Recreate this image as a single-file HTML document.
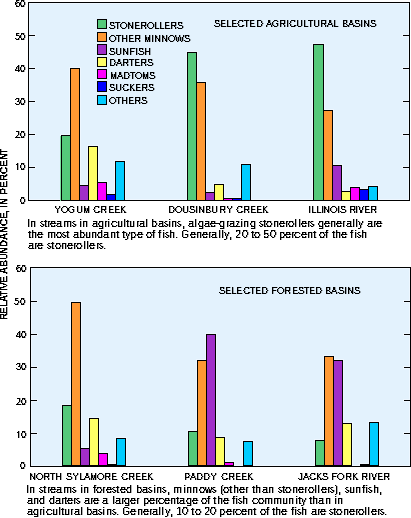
<!DOCTYPE html>
<html><head><meta charset="utf-8"><style>
html,body{margin:0;padding:0;background:#fff;width:411px;height:518px;overflow:hidden}
svg{display:block}
text{font-family:"Liberation Sans",sans-serif}
</style></head><body>
<svg width="411" height="518" viewBox="0 0 411 518" shape-rendering="crispEdges">
<defs><filter id="th" filterUnits="userSpaceOnUse" x="0" y="0" width="411" height="518"><feComponentTransfer><feFuncA type="discrete" tableValues="0 0 1 1 1"/></feComponentTransfer></filter></defs>
<rect x="28" y="2" width="382" height="199" fill="#000"/>
<rect x="29" y="3" width="380" height="197" fill="#EEF7FF"/>
<rect x="30" y="4" width="378" height="195" fill="#E3F2FD"/>
<rect x="29" y="34" width="7" height="3" fill="#EEF7FF"/>
<rect x="402" y="34" width="7" height="3" fill="#EEF7FF"/>
<rect x="29" y="35" width="6" height="1" fill="#000"/>
<rect x="403" y="35" width="6" height="1" fill="#000"/>
<rect x="29" y="67" width="7" height="3" fill="#EEF7FF"/>
<rect x="402" y="67" width="7" height="3" fill="#EEF7FF"/>
<rect x="29" y="68" width="6" height="1" fill="#000"/>
<rect x="403" y="68" width="6" height="1" fill="#000"/>
<rect x="29" y="100" width="7" height="3" fill="#EEF7FF"/>
<rect x="402" y="100" width="7" height="3" fill="#EEF7FF"/>
<rect x="29" y="101" width="6" height="1" fill="#000"/>
<rect x="403" y="101" width="6" height="1" fill="#000"/>
<rect x="29" y="133" width="7" height="3" fill="#EEF7FF"/>
<rect x="402" y="133" width="7" height="3" fill="#EEF7FF"/>
<rect x="29" y="134" width="6" height="1" fill="#000"/>
<rect x="403" y="134" width="6" height="1" fill="#000"/>
<rect x="29" y="166" width="7" height="3" fill="#EEF7FF"/>
<rect x="402" y="166" width="7" height="3" fill="#EEF7FF"/>
<rect x="29" y="167" width="6" height="1" fill="#000"/>
<rect x="403" y="167" width="6" height="1" fill="#000"/>
<rect x="60" y="134" width="12" height="66" fill="#EEF7FF"/>
<rect x="69" y="67" width="12" height="133" fill="#EEF7FF"/>
<rect x="78" y="184" width="12" height="16" fill="#EEF7FF"/>
<rect x="87" y="145" width="12" height="55" fill="#EEF7FF"/>
<rect x="96" y="181" width="12" height="19" fill="#EEF7FF"/>
<rect x="105" y="193" width="12" height="7" fill="#EEF7FF"/>
<rect x="114" y="160" width="12" height="40" fill="#EEF7FF"/>
<rect x="186" y="51" width="12" height="149" fill="#EEF7FF"/>
<rect x="195" y="81" width="12" height="119" fill="#EEF7FF"/>
<rect x="204" y="191" width="12" height="9" fill="#EEF7FF"/>
<rect x="213" y="183" width="12" height="17" fill="#EEF7FF"/>
<rect x="222" y="197" width="12" height="3" fill="#EEF7FF"/>
<rect x="231" y="197" width="12" height="3" fill="#EEF7FF"/>
<rect x="240" y="163" width="12" height="37" fill="#EEF7FF"/>
<rect x="312" y="43" width="13" height="157" fill="#EEF7FF"/>
<rect x="322" y="109" width="12" height="91" fill="#EEF7FF"/>
<rect x="331" y="164" width="12" height="36" fill="#EEF7FF"/>
<rect x="340" y="190" width="12" height="10" fill="#EEF7FF"/>
<rect x="349" y="186" width="12" height="14" fill="#EEF7FF"/>
<rect x="358" y="188" width="12" height="12" fill="#EEF7FF"/>
<rect x="367" y="185" width="12" height="15" fill="#EEF7FF"/>
<rect x="61" y="135" width="10" height="66" fill="#000"/>
<rect x="62" y="136" width="8" height="64" fill="#55C97A"/>
<rect x="70" y="68" width="10" height="133" fill="#000"/>
<rect x="71" y="69" width="8" height="131" fill="#FF9933"/>
<rect x="79" y="185" width="10" height="16" fill="#000"/>
<rect x="80" y="186" width="8" height="14" fill="#A02EC8"/>
<rect x="88" y="146" width="10" height="55" fill="#000"/>
<rect x="89" y="147" width="8" height="53" fill="#FFFF66"/>
<rect x="97" y="182" width="10" height="19" fill="#000"/>
<rect x="98" y="183" width="8" height="17" fill="#FF00FF"/>
<rect x="106" y="194" width="10" height="7" fill="#000"/>
<rect x="107" y="195" width="8" height="5" fill="#0000FF"/>
<rect x="115" y="161" width="10" height="40" fill="#000"/>
<rect x="116" y="162" width="8" height="38" fill="#00CCFF"/>
<rect x="187" y="52" width="10" height="149" fill="#000"/>
<rect x="188" y="53" width="8" height="147" fill="#55C97A"/>
<rect x="196" y="82" width="10" height="119" fill="#000"/>
<rect x="197" y="83" width="8" height="117" fill="#FF9933"/>
<rect x="205" y="192" width="10" height="9" fill="#000"/>
<rect x="206" y="193" width="8" height="7" fill="#A02EC8"/>
<rect x="214" y="184" width="10" height="17" fill="#000"/>
<rect x="215" y="185" width="8" height="15" fill="#FFFF66"/>
<rect x="223" y="198" width="10" height="3" fill="#000"/>
<rect x="224" y="199" width="8" height="1" fill="#FF00FF"/>
<rect x="232" y="198" width="10" height="3" fill="#000"/>
<rect x="233" y="199" width="8" height="1" fill="#0000FF"/>
<rect x="241" y="164" width="10" height="37" fill="#000"/>
<rect x="242" y="165" width="8" height="35" fill="#00CCFF"/>
<rect x="313" y="44" width="11" height="157" fill="#000"/>
<rect x="314" y="45" width="9" height="155" fill="#55C97A"/>
<rect x="323" y="110" width="10" height="91" fill="#000"/>
<rect x="324" y="111" width="8" height="89" fill="#FF9933"/>
<rect x="332" y="165" width="10" height="36" fill="#000"/>
<rect x="333" y="166" width="8" height="34" fill="#A02EC8"/>
<rect x="341" y="191" width="10" height="10" fill="#000"/>
<rect x="342" y="192" width="8" height="8" fill="#FFFF66"/>
<rect x="350" y="187" width="10" height="14" fill="#000"/>
<rect x="351" y="188" width="8" height="12" fill="#FF00FF"/>
<rect x="359" y="189" width="10" height="12" fill="#000"/>
<rect x="360" y="190" width="8" height="10" fill="#0000FF"/>
<rect x="368" y="186" width="10" height="15" fill="#000"/>
<rect x="369" y="187" width="8" height="13" fill="#00CCFF"/>
<rect x="30" y="267" width="381" height="200" fill="#000"/>
<rect x="31" y="268" width="379" height="198" fill="#EEF7FF"/>
<rect x="32" y="269" width="377" height="196" fill="#E3F2FD"/>
<rect x="31" y="300" width="7" height="3" fill="#EEF7FF"/>
<rect x="403" y="300" width="7" height="3" fill="#EEF7FF"/>
<rect x="31" y="301" width="6" height="1" fill="#000"/>
<rect x="404" y="301" width="6" height="1" fill="#000"/>
<rect x="31" y="333" width="7" height="3" fill="#EEF7FF"/>
<rect x="403" y="333" width="7" height="3" fill="#EEF7FF"/>
<rect x="31" y="334" width="6" height="1" fill="#000"/>
<rect x="404" y="334" width="6" height="1" fill="#000"/>
<rect x="31" y="366" width="7" height="3" fill="#EEF7FF"/>
<rect x="403" y="366" width="7" height="3" fill="#EEF7FF"/>
<rect x="31" y="367" width="6" height="1" fill="#000"/>
<rect x="404" y="367" width="6" height="1" fill="#000"/>
<rect x="31" y="399" width="7" height="3" fill="#EEF7FF"/>
<rect x="403" y="399" width="7" height="3" fill="#EEF7FF"/>
<rect x="31" y="400" width="6" height="1" fill="#000"/>
<rect x="404" y="400" width="6" height="1" fill="#000"/>
<rect x="31" y="432" width="7" height="3" fill="#EEF7FF"/>
<rect x="403" y="432" width="7" height="3" fill="#EEF7FF"/>
<rect x="31" y="433" width="6" height="1" fill="#000"/>
<rect x="404" y="433" width="6" height="1" fill="#000"/>
<rect x="61" y="404" width="12" height="61" fill="#EEF7FF"/>
<rect x="70" y="301" width="12" height="164" fill="#EEF7FF"/>
<rect x="79" y="447" width="12" height="18" fill="#EEF7FF"/>
<rect x="88" y="417" width="12" height="48" fill="#EEF7FF"/>
<rect x="97" y="452" width="12" height="13" fill="#EEF7FF"/>
<rect x="106" y="463" width="12" height="2" fill="#EEF7FF"/>
<rect x="115" y="437" width="12" height="28" fill="#EEF7FF"/>
<rect x="187" y="430" width="12" height="35" fill="#EEF7FF"/>
<rect x="196" y="359" width="12" height="106" fill="#EEF7FF"/>
<rect x="205" y="333" width="12" height="132" fill="#EEF7FF"/>
<rect x="214" y="436" width="12" height="29" fill="#EEF7FF"/>
<rect x="223" y="461" width="12" height="4" fill="#EEF7FF"/>
<rect x="242" y="440" width="12" height="25" fill="#EEF7FF"/>
<rect x="314" y="439" width="12" height="26" fill="#EEF7FF"/>
<rect x="323" y="355" width="12" height="110" fill="#EEF7FF"/>
<rect x="332" y="359" width="12" height="106" fill="#EEF7FF"/>
<rect x="341" y="422" width="12" height="43" fill="#EEF7FF"/>
<rect x="359" y="463" width="12" height="2" fill="#EEF7FF"/>
<rect x="368" y="421" width="12" height="44" fill="#EEF7FF"/>
<rect x="62" y="405" width="10" height="61" fill="#000"/>
<rect x="63" y="406" width="8" height="59" fill="#55C97A"/>
<rect x="71" y="302" width="10" height="164" fill="#000"/>
<rect x="72" y="303" width="8" height="162" fill="#FF9933"/>
<rect x="80" y="448" width="10" height="18" fill="#000"/>
<rect x="81" y="449" width="8" height="16" fill="#A02EC8"/>
<rect x="89" y="418" width="10" height="48" fill="#000"/>
<rect x="90" y="419" width="8" height="46" fill="#FFFF66"/>
<rect x="98" y="453" width="10" height="13" fill="#000"/>
<rect x="99" y="454" width="8" height="11" fill="#FF00FF"/>
<rect x="107" y="464" width="10" height="2" fill="#000"/>
<rect x="116" y="438" width="10" height="28" fill="#000"/>
<rect x="117" y="439" width="8" height="26" fill="#00CCFF"/>
<rect x="188" y="431" width="10" height="35" fill="#000"/>
<rect x="189" y="432" width="8" height="33" fill="#55C97A"/>
<rect x="197" y="360" width="10" height="106" fill="#000"/>
<rect x="198" y="361" width="8" height="104" fill="#FF9933"/>
<rect x="206" y="334" width="10" height="132" fill="#000"/>
<rect x="207" y="335" width="8" height="130" fill="#A02EC8"/>
<rect x="215" y="437" width="10" height="29" fill="#000"/>
<rect x="216" y="438" width="8" height="27" fill="#FFFF66"/>
<rect x="224" y="462" width="10" height="4" fill="#000"/>
<rect x="225" y="463" width="8" height="2" fill="#FF00FF"/>
<rect x="243" y="441" width="10" height="25" fill="#000"/>
<rect x="244" y="442" width="8" height="23" fill="#00CCFF"/>
<rect x="315" y="440" width="10" height="26" fill="#000"/>
<rect x="316" y="441" width="8" height="24" fill="#55C97A"/>
<rect x="324" y="356" width="10" height="110" fill="#000"/>
<rect x="325" y="357" width="8" height="108" fill="#FF9933"/>
<rect x="333" y="360" width="10" height="106" fill="#000"/>
<rect x="334" y="361" width="8" height="104" fill="#A02EC8"/>
<rect x="342" y="423" width="10" height="43" fill="#000"/>
<rect x="343" y="424" width="8" height="41" fill="#FFFF66"/>
<rect x="360" y="464" width="10" height="2" fill="#000"/>
<rect x="369" y="422" width="10" height="44" fill="#000"/>
<rect x="370" y="423" width="8" height="42" fill="#00CCFF"/>
<rect x="60" y="136" width="1" height="65" fill="#7EE0A0"/>
<rect x="97" y="19" width="10" height="10" fill="#000"/>
<rect x="98" y="20" width="8" height="8" fill="#55C97A"/>
<rect x="97" y="32" width="10" height="10" fill="#000"/>
<rect x="98" y="33" width="8" height="8" fill="#FF9933"/>
<rect x="97" y="44" width="10" height="11" fill="#000"/>
<rect x="98" y="45" width="8" height="9" fill="#A02EC8"/>
<rect x="97" y="57" width="10" height="10" fill="#000"/>
<rect x="98" y="58" width="8" height="8" fill="#FFFF66"/>
<rect x="97" y="69" width="10" height="10" fill="#000"/>
<rect x="98" y="70" width="8" height="8" fill="#FF00FF"/>
<rect x="97" y="81" width="10" height="11" fill="#000"/>
<rect x="98" y="82" width="8" height="9" fill="#0000FF"/>
<rect x="97" y="95" width="10" height="10" fill="#000"/>
<rect x="98" y="96" width="8" height="8" fill="#00CCFF"/>
<g fill="#000" fill-opacity="0.3" transform="translate(1,0)"><path d="M110 22h4v1h-4zM115 22h5v1h-5zM122 22h3v1h-3zM128 22h1v1h-1zM132 22h1v1h-1zM135 22h4v1h-4zM141 22h5v1h-5zM149 22h3v1h-3zM155 22h1v1h-1zM160 22h1v1h-1zM165 22h4v1h-4zM171 22h5v1h-5zM178 22h4v1h-4zM110 23h1v1h-1zM113 23h1v1h-1zM117 23h1v1h-1zM121 23h1v1h-1zM125 23h1v1h-1zM128 23h2v1h-2zM132 23h1v1h-1zM135 23h1v1h-1zM141 23h1v1h-1zM145 23h1v1h-1zM148 23h1v1h-1zM152 23h1v1h-1zM155 23h1v1h-1zM160 23h1v1h-1zM165 23h1v1h-1zM171 23h1v1h-1zM175 23h1v1h-1zM178 23h1v1h-1zM181 23h1v1h-1zM110 24h1v1h-1zM117 24h1v1h-1zM120 24h1v1h-1zM126 24h1v1h-1zM128 24h2v1h-2zM132 24h1v1h-1zM135 24h1v1h-1zM141 24h1v1h-1zM145 24h1v1h-1zM147 24h1v1h-1zM153 24h1v1h-1zM155 24h1v1h-1zM160 24h1v1h-1zM165 24h1v1h-1zM171 24h1v1h-1zM175 24h1v1h-1zM178 24h1v1h-1zM111 25h3v1h-3zM117 25h1v1h-1zM120 25h1v1h-1zM126 25h1v1h-1zM128 25h1v1h-1zM130 25h1v1h-1zM132 25h1v1h-1zM135 25h4v1h-4zM141 25h5v1h-5zM147 25h1v1h-1zM153 25h1v1h-1zM155 25h1v1h-1zM160 25h1v1h-1zM165 25h4v1h-4zM171 25h5v1h-5zM179 25h3v1h-3zM114 26h1v1h-1zM117 26h1v1h-1zM120 26h1v1h-1zM126 26h1v1h-1zM128 26h1v1h-1zM131 26h2v1h-2zM135 26h1v1h-1zM141 26h1v1h-1zM144 26h1v1h-1zM147 26h1v1h-1zM153 26h1v1h-1zM155 26h1v1h-1zM160 26h1v1h-1zM165 26h1v1h-1zM171 26h1v1h-1zM174 26h1v1h-1zM182 26h1v1h-1zM109 27h1v1h-1zM114 27h1v1h-1zM117 27h1v1h-1zM121 27h1v1h-1zM125 27h1v1h-1zM128 27h1v1h-1zM131 27h2v1h-2zM135 27h1v1h-1zM141 27h1v1h-1zM145 27h1v1h-1zM148 27h1v1h-1zM152 27h1v1h-1zM155 27h1v1h-1zM160 27h1v1h-1zM165 27h1v1h-1zM171 27h1v1h-1zM175 27h1v1h-1zM177 27h1v1h-1zM182 27h1v1h-1zM110 28h4v1h-4zM117 28h1v1h-1zM122 28h3v1h-3zM128 28h1v1h-1zM132 28h1v1h-1zM135 28h5v1h-5zM141 28h1v1h-1zM145 28h1v1h-1zM149 28h3v1h-3zM155 28h4v1h-4zM160 28h4v1h-4zM165 28h5v1h-5zM171 28h1v1h-1zM175 28h1v1h-1zM178 28h4v1h-4z"/>
<path d="M111 35h3v1h-3zM116 35h5v1h-5zM122 35h1v1h-1zM126 35h1v1h-1zM129 35h4v1h-4zM135 35h5v1h-5zM145 35h1v1h-1zM149 35h1v1h-1zM152 35h1v1h-1zM155 35h1v1h-1zM159 35h1v1h-1zM162 35h1v1h-1zM166 35h1v1h-1zM170 35h3v1h-3zM175 35h1v1h-1zM179 35h1v1h-1zM183 35h1v1h-1zM185 35h4v1h-4zM110 36h1v1h-1zM114 36h1v1h-1zM118 36h1v1h-1zM122 36h1v1h-1zM126 36h1v1h-1zM129 36h1v1h-1zM135 36h1v1h-1zM139 36h1v1h-1zM145 36h1v1h-1zM149 36h1v1h-1zM152 36h1v1h-1zM155 36h2v1h-2zM159 36h1v1h-1zM162 36h2v1h-2zM166 36h1v1h-1zM169 36h1v1h-1zM173 36h1v1h-1zM175 36h1v1h-1zM179 36h1v1h-1zM183 36h1v1h-1zM185 36h1v1h-1zM188 36h1v1h-1zM109 37h1v1h-1zM115 37h1v1h-1zM118 37h1v1h-1zM122 37h1v1h-1zM126 37h1v1h-1zM129 37h1v1h-1zM135 37h1v1h-1zM139 37h1v1h-1zM145 37h2v1h-2zM148 37h2v1h-2zM152 37h1v1h-1zM155 37h2v1h-2zM159 37h1v1h-1zM162 37h2v1h-2zM166 37h1v1h-1zM168 37h1v1h-1zM174 37h1v1h-1zM176 37h1v1h-1zM178 37h1v1h-1zM180 37h1v1h-1zM182 37h1v1h-1zM185 37h1v1h-1zM109 38h1v1h-1zM115 38h1v1h-1zM118 38h1v1h-1zM122 38h5v1h-5zM129 38h4v1h-4zM135 38h5v1h-5zM145 38h2v1h-2zM148 38h2v1h-2zM152 38h1v1h-1zM155 38h1v1h-1zM157 38h1v1h-1zM159 38h1v1h-1zM162 38h1v1h-1zM164 38h1v1h-1zM166 38h1v1h-1zM168 38h1v1h-1zM174 38h1v1h-1zM176 38h1v1h-1zM178 38h1v1h-1zM180 38h1v1h-1zM182 38h1v1h-1zM186 38h3v1h-3zM109 39h1v1h-1zM115 39h1v1h-1zM118 39h1v1h-1zM122 39h1v1h-1zM126 39h1v1h-1zM129 39h1v1h-1zM135 39h1v1h-1zM138 39h1v1h-1zM145 39h2v1h-2zM148 39h2v1h-2zM152 39h1v1h-1zM155 39h1v1h-1zM158 39h2v1h-2zM162 39h1v1h-1zM165 39h2v1h-2zM168 39h1v1h-1zM174 39h1v1h-1zM176 39h1v1h-1zM178 39h1v1h-1zM180 39h1v1h-1zM182 39h1v1h-1zM189 39h1v1h-1zM110 40h1v1h-1zM114 40h1v1h-1zM118 40h1v1h-1zM122 40h1v1h-1zM126 40h1v1h-1zM129 40h1v1h-1zM135 40h1v1h-1zM139 40h1v1h-1zM145 40h1v1h-1zM147 40h1v1h-1zM149 40h1v1h-1zM152 40h1v1h-1zM155 40h1v1h-1zM158 40h2v1h-2zM162 40h1v1h-1zM165 40h2v1h-2zM169 40h1v1h-1zM173 40h1v1h-1zM176 40h1v1h-1zM178 40h1v1h-1zM180 40h1v1h-1zM182 40h1v1h-1zM184 40h1v1h-1zM189 40h1v1h-1zM111 41h3v1h-3zM118 41h1v1h-1zM122 41h1v1h-1zM126 41h1v1h-1zM129 41h5v1h-5zM135 41h1v1h-1zM139 41h1v1h-1zM145 41h1v1h-1zM147 41h1v1h-1zM149 41h1v1h-1zM152 41h1v1h-1zM155 41h1v1h-1zM159 41h1v1h-1zM162 41h1v1h-1zM166 41h1v1h-1zM170 41h3v1h-3zM177 41h1v1h-1zM181 41h1v1h-1zM185 41h4v1h-4z"/>
<path d="M110 48h4v1h-4zM116 48h1v1h-1zM120 48h1v1h-1zM123 48h1v1h-1zM127 48h1v1h-1zM130 48h5v1h-5zM136 48h1v1h-1zM139 48h4v1h-4zM145 48h1v1h-1zM149 48h1v1h-1zM110 49h1v1h-1zM113 49h1v1h-1zM116 49h1v1h-1zM120 49h1v1h-1zM123 49h2v1h-2zM127 49h1v1h-1zM130 49h1v1h-1zM136 49h1v1h-1zM139 49h1v1h-1zM142 49h1v1h-1zM145 49h1v1h-1zM149 49h1v1h-1zM110 50h1v1h-1zM116 50h1v1h-1zM120 50h1v1h-1zM123 50h2v1h-2zM127 50h1v1h-1zM130 50h1v1h-1zM136 50h1v1h-1zM139 50h1v1h-1zM145 50h1v1h-1zM149 50h1v1h-1zM111 51h3v1h-3zM116 51h1v1h-1zM120 51h1v1h-1zM123 51h1v1h-1zM125 51h1v1h-1zM127 51h1v1h-1zM130 51h4v1h-4zM136 51h1v1h-1zM140 51h3v1h-3zM145 51h5v1h-5zM114 52h1v1h-1zM116 52h1v1h-1zM120 52h1v1h-1zM123 52h1v1h-1zM126 52h2v1h-2zM130 52h1v1h-1zM136 52h1v1h-1zM143 52h1v1h-1zM145 52h1v1h-1zM149 52h1v1h-1zM109 53h1v1h-1zM114 53h1v1h-1zM116 53h1v1h-1zM120 53h1v1h-1zM123 53h1v1h-1zM126 53h2v1h-2zM130 53h1v1h-1zM136 53h1v1h-1zM138 53h1v1h-1zM143 53h1v1h-1zM145 53h1v1h-1zM149 53h1v1h-1zM110 54h4v1h-4zM117 54h3v1h-3zM123 54h1v1h-1zM127 54h1v1h-1zM130 54h1v1h-1zM136 54h1v1h-1zM139 54h4v1h-4zM145 54h1v1h-1zM149 54h1v1h-1z"/>
<path d="M110 59h4v1h-4zM118 59h2v1h-2zM123 59h5v1h-5zM129 59h5v1h-5zM135 59h4v1h-4zM141 59h5v1h-5zM148 59h4v1h-4zM110 60h1v1h-1zM114 60h1v1h-1zM118 60h2v1h-2zM123 60h1v1h-1zM127 60h1v1h-1zM131 60h1v1h-1zM135 60h1v1h-1zM141 60h1v1h-1zM145 60h1v1h-1zM148 60h1v1h-1zM151 60h1v1h-1zM110 61h1v1h-1zM114 61h1v1h-1zM118 61h2v1h-2zM123 61h1v1h-1zM127 61h1v1h-1zM131 61h1v1h-1zM135 61h1v1h-1zM141 61h1v1h-1zM145 61h1v1h-1zM148 61h1v1h-1zM110 62h1v1h-1zM115 62h1v1h-1zM117 62h1v1h-1zM120 62h1v1h-1zM123 62h5v1h-5zM131 62h1v1h-1zM135 62h4v1h-4zM141 62h5v1h-5zM149 62h3v1h-3zM110 63h1v1h-1zM114 63h1v1h-1zM117 63h4v1h-4zM123 63h1v1h-1zM126 63h1v1h-1zM131 63h1v1h-1zM135 63h1v1h-1zM141 63h1v1h-1zM144 63h1v1h-1zM152 63h1v1h-1zM110 64h1v1h-1zM114 64h1v1h-1zM116 64h1v1h-1zM121 64h1v1h-1zM123 64h1v1h-1zM127 64h1v1h-1zM131 64h1v1h-1zM135 64h1v1h-1zM141 64h1v1h-1zM145 64h1v1h-1zM147 64h1v1h-1zM152 64h1v1h-1zM110 65h4v1h-4zM116 65h1v1h-1zM121 65h1v1h-1zM123 65h1v1h-1zM127 65h1v1h-1zM131 65h1v1h-1zM135 65h5v1h-5zM141 65h1v1h-1zM145 65h1v1h-1zM148 65h4v1h-4z"/>
<path d="M111 72h1v1h-1zM115 72h1v1h-1zM119 72h2v1h-2zM124 72h4v1h-4zM130 72h5v1h-5zM137 72h3v1h-3zM143 72h1v1h-1zM147 72h1v1h-1zM150 72h4v1h-4zM111 73h1v1h-1zM115 73h1v1h-1zM119 73h2v1h-2zM124 73h1v1h-1zM128 73h1v1h-1zM132 73h1v1h-1zM136 73h1v1h-1zM140 73h1v1h-1zM143 73h1v1h-1zM147 73h1v1h-1zM150 73h1v1h-1zM153 73h1v1h-1zM111 74h2v1h-2zM114 74h2v1h-2zM119 74h2v1h-2zM124 74h1v1h-1zM128 74h1v1h-1zM132 74h1v1h-1zM135 74h1v1h-1zM141 74h1v1h-1zM143 74h2v1h-2zM146 74h2v1h-2zM150 74h1v1h-1zM111 75h2v1h-2zM114 75h2v1h-2zM118 75h1v1h-1zM121 75h1v1h-1zM124 75h1v1h-1zM129 75h1v1h-1zM132 75h1v1h-1zM135 75h1v1h-1zM141 75h1v1h-1zM143 75h2v1h-2zM146 75h2v1h-2zM151 75h3v1h-3zM111 76h2v1h-2zM114 76h2v1h-2zM118 76h4v1h-4zM124 76h1v1h-1zM128 76h1v1h-1zM132 76h1v1h-1zM135 76h1v1h-1zM141 76h1v1h-1zM143 76h2v1h-2zM146 76h2v1h-2zM154 76h1v1h-1zM111 77h1v1h-1zM113 77h1v1h-1zM115 77h1v1h-1zM117 77h1v1h-1zM122 77h1v1h-1zM124 77h1v1h-1zM128 77h1v1h-1zM132 77h1v1h-1zM136 77h1v1h-1zM140 77h1v1h-1zM143 77h1v1h-1zM145 77h1v1h-1zM147 77h1v1h-1zM149 77h1v1h-1zM154 77h1v1h-1zM111 78h1v1h-1zM113 78h1v1h-1zM115 78h1v1h-1zM117 78h1v1h-1zM122 78h1v1h-1zM124 78h4v1h-4zM132 78h1v1h-1zM137 78h3v1h-3zM143 78h1v1h-1zM145 78h1v1h-1zM147 78h1v1h-1zM150 78h4v1h-4z"/>
<path d="M110 84h4v1h-4zM116 84h1v1h-1zM120 84h1v1h-1zM124 84h4v1h-4zM130 84h1v1h-1zM133 84h1v1h-1zM136 84h4v1h-4zM142 84h5v1h-5zM149 84h4v1h-4zM110 85h1v1h-1zM113 85h1v1h-1zM116 85h1v1h-1zM120 85h1v1h-1zM123 85h1v1h-1zM127 85h1v1h-1zM130 85h1v1h-1zM132 85h1v1h-1zM136 85h1v1h-1zM142 85h1v1h-1zM146 85h1v1h-1zM149 85h1v1h-1zM152 85h1v1h-1zM110 86h1v1h-1zM116 86h1v1h-1zM120 86h1v1h-1zM123 86h1v1h-1zM130 86h2v1h-2zM136 86h1v1h-1zM142 86h1v1h-1zM146 86h1v1h-1zM149 86h1v1h-1zM111 87h3v1h-3zM116 87h1v1h-1zM120 87h1v1h-1zM122 87h1v1h-1zM130 87h2v1h-2zM136 87h4v1h-4zM142 87h5v1h-5zM150 87h3v1h-3zM114 88h1v1h-1zM116 88h1v1h-1zM120 88h1v1h-1zM123 88h1v1h-1zM130 88h1v1h-1zM132 88h1v1h-1zM136 88h1v1h-1zM142 88h1v1h-1zM145 88h1v1h-1zM153 88h1v1h-1zM109 89h1v1h-1zM114 89h1v1h-1zM116 89h1v1h-1zM120 89h1v1h-1zM123 89h1v1h-1zM127 89h2v1h-2zM130 89h1v1h-1zM133 89h1v1h-1zM136 89h1v1h-1zM142 89h1v1h-1zM146 89h1v1h-1zM148 89h1v1h-1zM153 89h1v1h-1zM110 90h4v1h-4zM117 90h3v1h-3zM124 90h4v1h-4zM130 90h1v1h-1zM133 90h2v1h-2zM136 90h5v1h-5zM142 90h1v1h-1zM146 90h1v1h-1zM149 90h4v1h-4z"/>
<path d="M111 97h3v1h-3zM116 97h5v1h-5zM122 97h1v1h-1zM126 97h1v1h-1zM129 97h4v1h-4zM135 97h5v1h-5zM142 97h4v1h-4zM110 98h1v1h-1zM114 98h1v1h-1zM118 98h1v1h-1zM122 98h1v1h-1zM126 98h1v1h-1zM129 98h1v1h-1zM135 98h1v1h-1zM139 98h1v1h-1zM142 98h1v1h-1zM145 98h1v1h-1zM109 99h1v1h-1zM115 99h1v1h-1zM118 99h1v1h-1zM122 99h1v1h-1zM126 99h1v1h-1zM129 99h1v1h-1zM135 99h1v1h-1zM139 99h1v1h-1zM142 99h1v1h-1zM109 100h1v1h-1zM115 100h1v1h-1zM118 100h1v1h-1zM122 100h5v1h-5zM129 100h4v1h-4zM135 100h5v1h-5zM143 100h3v1h-3zM109 101h1v1h-1zM115 101h1v1h-1zM118 101h1v1h-1zM122 101h1v1h-1zM126 101h1v1h-1zM129 101h1v1h-1zM135 101h1v1h-1zM138 101h1v1h-1zM146 101h1v1h-1zM110 102h1v1h-1zM114 102h1v1h-1zM118 102h1v1h-1zM122 102h1v1h-1zM126 102h1v1h-1zM129 102h1v1h-1zM135 102h1v1h-1zM139 102h1v1h-1zM141 102h1v1h-1zM146 102h1v1h-1zM111 103h3v1h-3zM118 103h1v1h-1zM122 103h1v1h-1zM126 103h1v1h-1zM129 103h5v1h-5zM135 103h1v1h-1zM139 103h1v1h-1zM142 103h4v1h-4z"/>
<path d="M215 20h4v1h-4zM221 20h4v1h-4zM227 20h1v1h-1zM232 20h4v1h-4zM239 20h4v1h-4zM244 20h5v1h-5zM250 20h4v1h-4zM257 20h4v1h-4zM268 20h2v1h-2zM274 20h3v1h-3zM280 20h5v1h-5zM287 20h1v1h-1zM291 20h4v1h-4zM297 20h1v1h-1zM301 20h1v1h-1zM304 20h1v1h-1zM308 20h5v1h-5zM314 20h1v1h-1zM318 20h1v1h-1zM321 20h5v1h-5zM329 20h2v1h-2zM334 20h1v1h-1zM343 20h4v1h-4zM350 20h2v1h-2zM355 20h4v1h-4zM361 20h1v1h-1zM364 20h1v1h-1zM368 20h1v1h-1zM371 20h4v1h-4zM215 21h1v1h-1zM218 21h1v1h-1zM221 21h1v1h-1zM227 21h1v1h-1zM232 21h1v1h-1zM238 21h1v1h-1zM242 21h1v1h-1zM246 21h1v1h-1zM250 21h1v1h-1zM257 21h1v1h-1zM261 21h1v1h-1zM268 21h2v1h-2zM273 21h1v1h-1zM277 21h1v1h-1zM280 21h1v1h-1zM284 21h1v1h-1zM287 21h1v1h-1zM290 21h1v1h-1zM294 21h1v1h-1zM297 21h1v1h-1zM301 21h1v1h-1zM304 21h1v1h-1zM310 21h1v1h-1zM314 21h1v1h-1zM318 21h1v1h-1zM321 21h1v1h-1zM325 21h1v1h-1zM329 21h2v1h-2zM334 21h1v1h-1zM343 21h1v1h-1zM346 21h1v1h-1zM350 21h2v1h-2zM355 21h1v1h-1zM358 21h1v1h-1zM361 21h1v1h-1zM364 21h2v1h-2zM368 21h1v1h-1zM371 21h1v1h-1zM374 21h1v1h-1zM215 22h1v1h-1zM221 22h1v1h-1zM227 22h1v1h-1zM232 22h1v1h-1zM238 22h1v1h-1zM246 22h1v1h-1zM250 22h1v1h-1zM257 22h1v1h-1zM261 22h1v1h-1zM268 22h2v1h-2zM272 22h1v1h-1zM280 22h1v1h-1zM284 22h1v1h-1zM287 22h1v1h-1zM290 22h1v1h-1zM297 22h1v1h-1zM301 22h1v1h-1zM304 22h1v1h-1zM310 22h1v1h-1zM314 22h1v1h-1zM318 22h1v1h-1zM321 22h1v1h-1zM325 22h1v1h-1zM329 22h2v1h-2zM334 22h1v1h-1zM343 22h1v1h-1zM346 22h1v1h-1zM350 22h2v1h-2zM355 22h1v1h-1zM361 22h1v1h-1zM364 22h2v1h-2zM368 22h1v1h-1zM371 22h1v1h-1zM216 23h3v1h-3zM221 23h4v1h-4zM227 23h1v1h-1zM232 23h4v1h-4zM237 23h1v1h-1zM246 23h1v1h-1zM250 23h4v1h-4zM257 23h1v1h-1zM262 23h1v1h-1zM267 23h1v1h-1zM270 23h1v1h-1zM272 23h1v1h-1zM276 23h2v1h-2zM280 23h5v1h-5zM287 23h1v1h-1zM289 23h1v1h-1zM297 23h1v1h-1zM301 23h1v1h-1zM304 23h1v1h-1zM310 23h1v1h-1zM314 23h1v1h-1zM318 23h1v1h-1zM321 23h5v1h-5zM328 23h1v1h-1zM331 23h1v1h-1zM334 23h1v1h-1zM343 23h3v1h-3zM349 23h1v1h-1zM352 23h1v1h-1zM356 23h3v1h-3zM361 23h1v1h-1zM364 23h1v1h-1zM366 23h1v1h-1zM368 23h1v1h-1zM372 23h3v1h-3zM219 24h1v1h-1zM221 24h1v1h-1zM227 24h1v1h-1zM232 24h1v1h-1zM238 24h1v1h-1zM246 24h1v1h-1zM250 24h1v1h-1zM257 24h1v1h-1zM261 24h1v1h-1zM267 24h4v1h-4zM272 24h1v1h-1zM277 24h1v1h-1zM280 24h1v1h-1zM283 24h1v1h-1zM287 24h1v1h-1zM290 24h1v1h-1zM297 24h1v1h-1zM301 24h1v1h-1zM304 24h1v1h-1zM310 24h1v1h-1zM314 24h1v1h-1zM318 24h1v1h-1zM321 24h1v1h-1zM324 24h1v1h-1zM328 24h4v1h-4zM334 24h1v1h-1zM343 24h1v1h-1zM346 24h1v1h-1zM349 24h4v1h-4zM359 24h1v1h-1zM361 24h1v1h-1zM364 24h1v1h-1zM367 24h2v1h-2zM375 24h1v1h-1zM214 25h1v1h-1zM219 25h1v1h-1zM221 25h1v1h-1zM227 25h1v1h-1zM232 25h1v1h-1zM238 25h1v1h-1zM242 25h2v1h-2zM246 25h1v1h-1zM250 25h1v1h-1zM257 25h1v1h-1zM261 25h1v1h-1zM266 25h1v1h-1zM271 25h1v1h-1zM273 25h1v1h-1zM277 25h1v1h-1zM280 25h1v1h-1zM284 25h1v1h-1zM287 25h1v1h-1zM290 25h1v1h-1zM294 25h2v1h-2zM297 25h1v1h-1zM301 25h1v1h-1zM304 25h1v1h-1zM310 25h1v1h-1zM314 25h1v1h-1zM318 25h1v1h-1zM321 25h1v1h-1zM325 25h1v1h-1zM327 25h1v1h-1zM332 25h1v1h-1zM334 25h1v1h-1zM343 25h1v1h-1zM347 25h2v1h-2zM353 25h2v1h-2zM359 25h1v1h-1zM361 25h1v1h-1zM364 25h1v1h-1zM367 25h2v1h-2zM370 25h1v1h-1zM375 25h1v1h-1zM215 26h4v1h-4zM221 26h5v1h-5zM227 26h4v1h-4zM232 26h5v1h-5zM239 26h4v1h-4zM246 26h1v1h-1zM250 26h5v1h-5zM257 26h4v1h-4zM266 26h1v1h-1zM271 26h1v1h-1zM274 26h3v1h-3zM280 26h1v1h-1zM284 26h1v1h-1zM287 26h1v1h-1zM291 26h4v1h-4zM298 26h3v1h-3zM304 26h4v1h-4zM310 26h1v1h-1zM315 26h3v1h-3zM321 26h1v1h-1zM325 26h1v1h-1zM327 26h1v1h-1zM332 26h1v1h-1zM334 26h4v1h-4zM343 26h4v1h-4zM348 26h1v1h-1zM353 26h1v1h-1zM355 26h4v1h-4zM361 26h1v1h-1zM364 26h1v1h-1zM368 26h1v1h-1zM371 26h4v1h-4z"/>
<path d="M220 287h4v1h-4zM226 287h4v1h-4zM232 287h1v1h-1zM237 287h4v1h-4zM245 287h4v1h-4zM250 287h5v1h-5zM256 287h4v1h-4zM262 287h4v1h-4zM272 287h5v1h-5zM279 287h3v1h-3zM285 287h5v1h-5zM293 287h4v1h-4zM299 287h4v1h-4zM304 287h5v1h-5zM310 287h4v1h-4zM316 287h4v1h-4zM326 287h4v1h-4zM333 287h2v1h-2zM339 287h4v1h-4zM345 287h1v1h-1zM348 287h1v1h-1zM352 287h1v1h-1zM355 287h4v1h-4zM220 288h1v1h-1zM223 288h1v1h-1zM226 288h1v1h-1zM232 288h1v1h-1zM237 288h1v1h-1zM244 288h1v1h-1zM248 288h1v1h-1zM252 288h1v1h-1zM256 288h1v1h-1zM262 288h1v1h-1zM266 288h1v1h-1zM272 288h1v1h-1zM278 288h1v1h-1zM282 288h1v1h-1zM285 288h1v1h-1zM289 288h1v1h-1zM293 288h1v1h-1zM299 288h1v1h-1zM302 288h1v1h-1zM306 288h1v1h-1zM310 288h1v1h-1zM316 288h1v1h-1zM320 288h1v1h-1zM326 288h1v1h-1zM329 288h1v1h-1zM333 288h2v1h-2zM339 288h1v1h-1zM342 288h1v1h-1zM345 288h1v1h-1zM348 288h2v1h-2zM352 288h1v1h-1zM355 288h1v1h-1zM358 288h1v1h-1zM220 289h1v1h-1zM226 289h1v1h-1zM232 289h1v1h-1zM237 289h1v1h-1zM244 289h1v1h-1zM252 289h1v1h-1zM256 289h1v1h-1zM262 289h1v1h-1zM266 289h1v1h-1zM272 289h1v1h-1zM277 289h1v1h-1zM283 289h1v1h-1zM285 289h1v1h-1zM289 289h1v1h-1zM293 289h1v1h-1zM299 289h1v1h-1zM306 289h1v1h-1zM310 289h1v1h-1zM316 289h1v1h-1zM320 289h1v1h-1zM326 289h1v1h-1zM329 289h1v1h-1zM333 289h2v1h-2zM339 289h1v1h-1zM345 289h1v1h-1zM348 289h2v1h-2zM352 289h1v1h-1zM355 289h1v1h-1zM221 290h3v1h-3zM226 290h4v1h-4zM232 290h1v1h-1zM237 290h4v1h-4zM243 290h1v1h-1zM252 290h1v1h-1zM256 290h4v1h-4zM262 290h1v1h-1zM267 290h1v1h-1zM272 290h4v1h-4zM277 290h1v1h-1zM283 290h1v1h-1zM285 290h5v1h-5zM293 290h4v1h-4zM300 290h3v1h-3zM306 290h1v1h-1zM310 290h4v1h-4zM316 290h1v1h-1zM321 290h1v1h-1zM326 290h3v1h-3zM332 290h1v1h-1zM335 290h1v1h-1zM340 290h3v1h-3zM345 290h1v1h-1zM348 290h1v1h-1zM350 290h1v1h-1zM352 290h1v1h-1zM356 290h3v1h-3zM224 291h1v1h-1zM226 291h1v1h-1zM232 291h1v1h-1zM237 291h1v1h-1zM244 291h1v1h-1zM252 291h1v1h-1zM256 291h1v1h-1zM262 291h1v1h-1zM266 291h1v1h-1zM272 291h1v1h-1zM277 291h1v1h-1zM283 291h1v1h-1zM285 291h1v1h-1zM288 291h1v1h-1zM293 291h1v1h-1zM303 291h1v1h-1zM306 291h1v1h-1zM310 291h1v1h-1zM316 291h1v1h-1zM320 291h1v1h-1zM326 291h1v1h-1zM329 291h1v1h-1zM332 291h4v1h-4zM343 291h1v1h-1zM345 291h1v1h-1zM348 291h1v1h-1zM351 291h2v1h-2zM359 291h1v1h-1zM219 292h1v1h-1zM224 292h1v1h-1zM226 292h1v1h-1zM232 292h1v1h-1zM237 292h1v1h-1zM244 292h1v1h-1zM248 292h2v1h-2zM252 292h1v1h-1zM256 292h1v1h-1zM262 292h1v1h-1zM266 292h1v1h-1zM272 292h1v1h-1zM278 292h1v1h-1zM282 292h1v1h-1zM285 292h1v1h-1zM289 292h1v1h-1zM293 292h1v1h-1zM298 292h1v1h-1zM303 292h1v1h-1zM306 292h1v1h-1zM310 292h1v1h-1zM316 292h1v1h-1zM320 292h1v1h-1zM326 292h1v1h-1zM330 292h2v1h-2zM336 292h1v1h-1zM338 292h1v1h-1zM343 292h1v1h-1zM345 292h1v1h-1zM348 292h1v1h-1zM351 292h2v1h-2zM354 292h1v1h-1zM359 292h1v1h-1zM220 293h4v1h-4zM226 293h5v1h-5zM232 293h4v1h-4zM237 293h5v1h-5zM245 293h4v1h-4zM252 293h1v1h-1zM256 293h5v1h-5zM262 293h4v1h-4zM272 293h1v1h-1zM279 293h3v1h-3zM285 293h1v1h-1zM289 293h1v1h-1zM293 293h5v1h-5zM299 293h4v1h-4zM306 293h1v1h-1zM310 293h5v1h-5zM316 293h4v1h-4zM326 293h4v1h-4zM331 293h1v1h-1zM336 293h1v1h-1zM339 293h4v1h-4zM345 293h1v1h-1zM348 293h1v1h-1zM352 293h1v1h-1zM355 293h4v1h-4z"/>
<path d="M55 206h1v1h-1zM59 206h1v1h-1zM63 206h3v1h-3zM70 206h3v1h-3zM77 206h1v1h-1zM81 206h1v1h-1zM84 206h1v1h-1zM88 206h1v1h-1zM95 206h4v1h-4zM101 206h5v1h-5zM109 206h4v1h-4zM115 206h4v1h-4zM121 206h1v1h-1zM124 206h1v1h-1zM55 207h1v1h-1zM59 207h1v1h-1zM62 207h1v1h-1zM66 207h1v1h-1zM69 207h1v1h-1zM73 207h1v1h-1zM77 207h1v1h-1zM81 207h1v1h-1zM84 207h1v1h-1zM88 207h1v1h-1zM94 207h1v1h-1zM98 207h1v1h-1zM101 207h1v1h-1zM105 207h1v1h-1zM109 207h1v1h-1zM115 207h1v1h-1zM121 207h1v1h-1zM123 207h1v1h-1zM56 208h1v1h-1zM58 208h1v1h-1zM61 208h1v1h-1zM67 208h2v1h-2zM77 208h1v1h-1zM81 208h1v1h-1zM84 208h2v1h-2zM87 208h2v1h-2zM94 208h1v1h-1zM101 208h1v1h-1zM105 208h1v1h-1zM109 208h1v1h-1zM115 208h1v1h-1zM121 208h2v1h-2zM57 209h1v1h-1zM61 209h1v1h-1zM67 209h2v1h-2zM72 209h2v1h-2zM77 209h1v1h-1zM81 209h1v1h-1zM84 209h2v1h-2zM87 209h2v1h-2zM93 209h1v1h-1zM101 209h5v1h-5zM109 209h4v1h-4zM115 209h4v1h-4zM121 209h2v1h-2zM57 210h1v1h-1zM61 210h1v1h-1zM67 210h2v1h-2zM73 210h1v1h-1zM77 210h1v1h-1zM81 210h1v1h-1zM84 210h2v1h-2zM87 210h2v1h-2zM94 210h1v1h-1zM101 210h1v1h-1zM104 210h1v1h-1zM109 210h1v1h-1zM115 210h1v1h-1zM121 210h1v1h-1zM123 210h1v1h-1zM57 211h1v1h-1zM62 211h1v1h-1zM66 211h1v1h-1zM69 211h1v1h-1zM73 211h1v1h-1zM77 211h1v1h-1zM81 211h1v1h-1zM84 211h1v1h-1zM86 211h1v1h-1zM88 211h1v1h-1zM94 211h1v1h-1zM98 211h2v1h-2zM101 211h1v1h-1zM105 211h1v1h-1zM109 211h1v1h-1zM115 211h1v1h-1zM121 211h1v1h-1zM124 211h1v1h-1zM57 212h1v1h-1zM63 212h3v1h-3zM70 212h3v1h-3zM78 212h3v1h-3zM84 212h1v1h-1zM86 212h1v1h-1zM88 212h1v1h-1zM95 212h4v1h-4zM101 212h1v1h-1zM105 212h1v1h-1zM109 212h5v1h-5zM115 212h5v1h-5zM121 212h1v1h-1zM124 212h2v1h-2z"/>
<path d="M169 206h4v1h-4zM177 206h3v1h-3zM183 206h1v1h-1zM187 206h1v1h-1zM190 206h4v1h-4zM196 206h1v1h-1zM199 206h1v1h-1zM203 206h1v1h-1zM206 206h4v1h-4zM212 206h1v1h-1zM216 206h1v1h-1zM220 206h5v1h-5zM227 206h1v1h-1zM231 206h1v1h-1zM238 206h4v1h-4zM244 206h5v1h-5zM251 206h4v1h-4zM257 206h4v1h-4zM263 206h1v1h-1zM266 206h1v1h-1zM169 207h1v1h-1zM173 207h1v1h-1zM176 207h1v1h-1zM180 207h1v1h-1zM183 207h1v1h-1zM187 207h1v1h-1zM190 207h1v1h-1zM193 207h1v1h-1zM196 207h1v1h-1zM199 207h2v1h-2zM203 207h1v1h-1zM206 207h1v1h-1zM209 207h1v1h-1zM212 207h1v1h-1zM216 207h1v1h-1zM220 207h1v1h-1zM224 207h1v1h-1zM227 207h1v1h-1zM231 207h1v1h-1zM237 207h1v1h-1zM241 207h1v1h-1zM244 207h1v1h-1zM248 207h1v1h-1zM251 207h1v1h-1zM257 207h1v1h-1zM263 207h1v1h-1zM265 207h1v1h-1zM169 208h1v1h-1zM173 208h1v1h-1zM175 208h1v1h-1zM181 208h1v1h-1zM183 208h1v1h-1zM187 208h1v1h-1zM190 208h1v1h-1zM196 208h1v1h-1zM199 208h2v1h-2zM203 208h1v1h-1zM206 208h1v1h-1zM209 208h1v1h-1zM212 208h1v1h-1zM216 208h1v1h-1zM220 208h1v1h-1zM224 208h1v1h-1zM228 208h1v1h-1zM230 208h1v1h-1zM237 208h1v1h-1zM244 208h1v1h-1zM248 208h1v1h-1zM251 208h1v1h-1zM257 208h1v1h-1zM263 208h2v1h-2zM169 209h1v1h-1zM174 209h2v1h-2zM181 209h1v1h-1zM183 209h1v1h-1zM187 209h1v1h-1zM191 209h3v1h-3zM196 209h1v1h-1zM199 209h1v1h-1zM201 209h1v1h-1zM203 209h1v1h-1zM206 209h3v1h-3zM212 209h1v1h-1zM216 209h1v1h-1zM220 209h5v1h-5zM229 209h1v1h-1zM236 209h1v1h-1zM244 209h5v1h-5zM251 209h4v1h-4zM257 209h4v1h-4zM263 209h2v1h-2zM169 210h1v1h-1zM173 210h1v1h-1zM175 210h1v1h-1zM181 210h1v1h-1zM183 210h1v1h-1zM187 210h1v1h-1zM194 210h1v1h-1zM196 210h1v1h-1zM199 210h1v1h-1zM202 210h2v1h-2zM206 210h1v1h-1zM209 210h1v1h-1zM212 210h1v1h-1zM216 210h1v1h-1zM220 210h1v1h-1zM223 210h1v1h-1zM229 210h1v1h-1zM237 210h1v1h-1zM244 210h1v1h-1zM247 210h1v1h-1zM251 210h1v1h-1zM257 210h1v1h-1zM263 210h1v1h-1zM265 210h1v1h-1zM169 211h1v1h-1zM173 211h1v1h-1zM176 211h1v1h-1zM180 211h1v1h-1zM183 211h1v1h-1zM187 211h1v1h-1zM189 211h1v1h-1zM194 211h1v1h-1zM196 211h1v1h-1zM199 211h1v1h-1zM202 211h2v1h-2zM206 211h1v1h-1zM210 211h1v1h-1zM212 211h1v1h-1zM216 211h1v1h-1zM220 211h1v1h-1zM224 211h1v1h-1zM229 211h1v1h-1zM237 211h1v1h-1zM241 211h2v1h-2zM244 211h1v1h-1zM248 211h1v1h-1zM251 211h1v1h-1zM257 211h1v1h-1zM263 211h1v1h-1zM266 211h1v1h-1zM169 212h4v1h-4zM177 212h3v1h-3zM184 212h3v1h-3zM190 212h4v1h-4zM196 212h1v1h-1zM199 212h1v1h-1zM203 212h1v1h-1zM206 212h4v1h-4zM213 212h3v1h-3zM220 212h1v1h-1zM224 212h1v1h-1zM229 212h1v1h-1zM238 212h4v1h-4zM244 212h1v1h-1zM248 212h1v1h-1zM251 212h5v1h-5zM257 212h5v1h-5zM263 212h1v1h-1zM266 212h2v1h-2z"/>
<path d="M309 206h1v1h-1zM312 206h1v1h-1zM317 206h1v1h-1zM322 206h1v1h-1zM324 206h1v1h-1zM328 206h1v1h-1zM332 206h3v1h-3zM338 206h1v1h-1zM341 206h4v1h-4zM350 206h5v1h-5zM356 206h1v1h-1zM358 206h1v1h-1zM363 206h1v1h-1zM365 206h4v1h-4zM371 206h5v1h-5zM309 207h1v1h-1zM312 207h1v1h-1zM317 207h1v1h-1zM322 207h1v1h-1zM324 207h2v1h-2zM328 207h1v1h-1zM331 207h1v1h-1zM335 207h1v1h-1zM338 207h1v1h-1zM341 207h1v1h-1zM344 207h1v1h-1zM350 207h1v1h-1zM354 207h1v1h-1zM356 207h1v1h-1zM359 207h1v1h-1zM362 207h1v1h-1zM365 207h1v1h-1zM371 207h1v1h-1zM375 207h1v1h-1zM309 208h1v1h-1zM312 208h1v1h-1zM317 208h1v1h-1zM322 208h1v1h-1zM324 208h2v1h-2zM328 208h1v1h-1zM330 208h1v1h-1zM336 208h1v1h-1zM338 208h1v1h-1zM341 208h1v1h-1zM350 208h1v1h-1zM354 208h1v1h-1zM356 208h1v1h-1zM359 208h1v1h-1zM362 208h1v1h-1zM365 208h1v1h-1zM371 208h1v1h-1zM375 208h1v1h-1zM309 209h1v1h-1zM312 209h1v1h-1zM317 209h1v1h-1zM322 209h1v1h-1zM324 209h1v1h-1zM326 209h1v1h-1zM328 209h1v1h-1zM330 209h1v1h-1zM336 209h1v1h-1zM338 209h1v1h-1zM342 209h3v1h-3zM350 209h5v1h-5zM356 209h1v1h-1zM359 209h1v1h-1zM362 209h1v1h-1zM365 209h4v1h-4zM371 209h5v1h-5zM309 210h1v1h-1zM312 210h1v1h-1zM317 210h1v1h-1zM322 210h1v1h-1zM324 210h1v1h-1zM327 210h2v1h-2zM330 210h1v1h-1zM336 210h1v1h-1zM338 210h1v1h-1zM345 210h1v1h-1zM350 210h1v1h-1zM353 210h1v1h-1zM356 210h1v1h-1zM360 210h2v1h-2zM365 210h1v1h-1zM371 210h1v1h-1zM374 210h1v1h-1zM309 211h1v1h-1zM312 211h1v1h-1zM317 211h1v1h-1zM322 211h1v1h-1zM324 211h1v1h-1zM327 211h2v1h-2zM331 211h1v1h-1zM335 211h1v1h-1zM338 211h1v1h-1zM340 211h1v1h-1zM345 211h1v1h-1zM350 211h1v1h-1zM354 211h1v1h-1zM356 211h1v1h-1zM360 211h2v1h-2zM365 211h1v1h-1zM371 211h1v1h-1zM375 211h1v1h-1zM309 212h1v1h-1zM312 212h4v1h-4zM317 212h4v1h-4zM322 212h1v1h-1zM324 212h1v1h-1zM328 212h1v1h-1zM332 212h3v1h-3zM338 212h1v1h-1zM341 212h4v1h-4zM350 212h1v1h-1zM354 212h1v1h-1zM356 212h1v1h-1zM360 212h2v1h-2zM365 212h5v1h-5zM371 212h1v1h-1zM375 212h1v1h-1z"/>
<path d="M30 473h1v1h-1zM34 473h1v1h-1zM38 473h3v1h-3zM44 473h5v1h-5zM50 473h5v1h-5zM56 473h1v1h-1zM60 473h1v1h-1zM67 473h4v1h-4zM73 473h1v1h-1zM77 473h1v1h-1zM80 473h1v1h-1zM86 473h2v1h-2zM91 473h1v1h-1zM95 473h1v1h-1zM99 473h3v1h-3zM105 473h5v1h-5zM112 473h4v1h-4zM123 473h4v1h-4zM129 473h5v1h-5zM136 473h4v1h-4zM142 473h4v1h-4zM148 473h1v1h-1zM151 473h1v1h-1zM30 474h2v1h-2zM34 474h1v1h-1zM37 474h1v1h-1zM41 474h1v1h-1zM44 474h1v1h-1zM48 474h1v1h-1zM52 474h1v1h-1zM56 474h1v1h-1zM60 474h1v1h-1zM67 474h1v1h-1zM70 474h1v1h-1zM73 474h1v1h-1zM77 474h1v1h-1zM80 474h1v1h-1zM86 474h2v1h-2zM91 474h1v1h-1zM95 474h1v1h-1zM98 474h1v1h-1zM102 474h1v1h-1zM105 474h1v1h-1zM109 474h1v1h-1zM112 474h1v1h-1zM122 474h1v1h-1zM126 474h1v1h-1zM129 474h1v1h-1zM133 474h1v1h-1zM136 474h1v1h-1zM142 474h1v1h-1zM148 474h1v1h-1zM150 474h1v1h-1zM30 475h2v1h-2zM34 475h1v1h-1zM36 475h1v1h-1zM42 475h1v1h-1zM44 475h1v1h-1zM48 475h1v1h-1zM52 475h1v1h-1zM56 475h1v1h-1zM60 475h1v1h-1zM67 475h1v1h-1zM74 475h1v1h-1zM76 475h1v1h-1zM80 475h1v1h-1zM86 475h2v1h-2zM91 475h2v1h-2zM94 475h2v1h-2zM97 475h1v1h-1zM103 475h1v1h-1zM105 475h1v1h-1zM109 475h1v1h-1zM112 475h1v1h-1zM122 475h1v1h-1zM129 475h1v1h-1zM133 475h1v1h-1zM136 475h1v1h-1zM142 475h1v1h-1zM148 475h2v1h-2zM30 476h1v1h-1zM32 476h1v1h-1zM34 476h1v1h-1zM36 476h1v1h-1zM42 476h1v1h-1zM44 476h5v1h-5zM52 476h1v1h-1zM56 476h5v1h-5zM68 476h3v1h-3zM75 476h1v1h-1zM80 476h1v1h-1zM85 476h1v1h-1zM88 476h1v1h-1zM91 476h2v1h-2zM94 476h2v1h-2zM97 476h1v1h-1zM103 476h1v1h-1zM105 476h5v1h-5zM112 476h4v1h-4zM121 476h1v1h-1zM129 476h5v1h-5zM136 476h4v1h-4zM142 476h4v1h-4zM148 476h2v1h-2zM30 477h1v1h-1zM33 477h2v1h-2zM36 477h1v1h-1zM42 477h1v1h-1zM44 477h1v1h-1zM47 477h1v1h-1zM52 477h1v1h-1zM56 477h1v1h-1zM60 477h1v1h-1zM71 477h1v1h-1zM75 477h1v1h-1zM80 477h1v1h-1zM85 477h4v1h-4zM91 477h2v1h-2zM94 477h2v1h-2zM97 477h1v1h-1zM103 477h1v1h-1zM105 477h1v1h-1zM108 477h1v1h-1zM112 477h1v1h-1zM122 477h1v1h-1zM129 477h1v1h-1zM132 477h1v1h-1zM136 477h1v1h-1zM142 477h1v1h-1zM148 477h1v1h-1zM150 477h1v1h-1zM30 478h1v1h-1zM33 478h2v1h-2zM37 478h1v1h-1zM41 478h1v1h-1zM44 478h1v1h-1zM48 478h1v1h-1zM52 478h1v1h-1zM56 478h1v1h-1zM60 478h1v1h-1zM66 478h1v1h-1zM71 478h1v1h-1zM75 478h1v1h-1zM80 478h1v1h-1zM84 478h1v1h-1zM89 478h1v1h-1zM91 478h1v1h-1zM93 478h1v1h-1zM95 478h1v1h-1zM98 478h1v1h-1zM102 478h1v1h-1zM105 478h1v1h-1zM109 478h1v1h-1zM112 478h1v1h-1zM122 478h1v1h-1zM126 478h2v1h-2zM129 478h1v1h-1zM133 478h1v1h-1zM136 478h1v1h-1zM142 478h1v1h-1zM148 478h1v1h-1zM151 478h1v1h-1zM30 479h1v1h-1zM34 479h1v1h-1zM38 479h3v1h-3zM44 479h1v1h-1zM48 479h1v1h-1zM52 479h1v1h-1zM56 479h1v1h-1zM60 479h1v1h-1zM67 479h4v1h-4zM75 479h1v1h-1zM80 479h5v1h-5zM89 479h1v1h-1zM91 479h1v1h-1zM93 479h1v1h-1zM95 479h1v1h-1zM99 479h3v1h-3zM105 479h1v1h-1zM109 479h1v1h-1zM112 479h5v1h-5zM123 479h4v1h-4zM129 479h1v1h-1zM133 479h1v1h-1zM136 479h5v1h-5zM142 479h5v1h-5zM148 479h1v1h-1zM151 479h2v1h-2z"/>
<path d="M185 473h4v1h-4zM192 473h2v1h-2zM197 473h4v1h-4zM204 473h4v1h-4zM211 473h1v1h-1zM215 473h1v1h-1zM223 473h4v1h-4zM229 473h5v1h-5zM236 473h4v1h-4zM242 473h4v1h-4zM248 473h1v1h-1zM251 473h1v1h-1zM185 474h1v1h-1zM188 474h1v1h-1zM192 474h2v1h-2zM197 474h1v1h-1zM201 474h1v1h-1zM204 474h1v1h-1zM208 474h1v1h-1zM211 474h1v1h-1zM215 474h1v1h-1zM222 474h1v1h-1zM226 474h1v1h-1zM229 474h1v1h-1zM233 474h1v1h-1zM236 474h1v1h-1zM242 474h1v1h-1zM248 474h1v1h-1zM250 474h1v1h-1zM185 475h1v1h-1zM189 475h1v1h-1zM192 475h2v1h-2zM197 475h1v1h-1zM201 475h1v1h-1zM204 475h1v1h-1zM208 475h1v1h-1zM212 475h1v1h-1zM214 475h1v1h-1zM222 475h1v1h-1zM229 475h1v1h-1zM233 475h1v1h-1zM236 475h1v1h-1zM242 475h1v1h-1zM248 475h2v1h-2zM185 476h1v1h-1zM188 476h1v1h-1zM191 476h1v1h-1zM194 476h1v1h-1zM197 476h1v1h-1zM202 476h1v1h-1zM204 476h1v1h-1zM209 476h1v1h-1zM213 476h1v1h-1zM221 476h1v1h-1zM229 476h5v1h-5zM236 476h4v1h-4zM242 476h4v1h-4zM248 476h2v1h-2zM185 477h4v1h-4zM191 477h4v1h-4zM197 477h1v1h-1zM201 477h1v1h-1zM204 477h1v1h-1zM208 477h1v1h-1zM213 477h1v1h-1zM222 477h1v1h-1zM229 477h1v1h-1zM232 477h1v1h-1zM236 477h1v1h-1zM242 477h1v1h-1zM248 477h1v1h-1zM250 477h1v1h-1zM185 478h1v1h-1zM190 478h1v1h-1zM195 478h1v1h-1zM197 478h1v1h-1zM201 478h1v1h-1zM204 478h1v1h-1zM208 478h1v1h-1zM213 478h1v1h-1zM222 478h1v1h-1zM226 478h2v1h-2zM229 478h1v1h-1zM233 478h1v1h-1zM236 478h1v1h-1zM242 478h1v1h-1zM248 478h1v1h-1zM251 478h1v1h-1zM185 479h1v1h-1zM190 479h1v1h-1zM195 479h1v1h-1zM197 479h4v1h-4zM204 479h4v1h-4zM213 479h1v1h-1zM223 479h4v1h-4zM229 479h1v1h-1zM233 479h1v1h-1zM236 479h5v1h-5zM242 479h5v1h-5zM248 479h1v1h-1zM251 479h2v1h-2z"/>
<path d="M300 473h2v1h-2zM305 473h2v1h-2zM311 473h4v1h-4zM317 473h1v1h-1zM320 473h1v1h-1zM323 473h4v1h-4zM332 473h5v1h-5zM339 473h3v1h-3zM346 473h5v1h-5zM353 473h1v1h-1zM356 473h1v1h-1zM362 473h5v1h-5zM369 473h1v1h-1zM371 473h1v1h-1zM376 473h1v1h-1zM378 473h4v1h-4zM384 473h5v1h-5zM301 474h1v1h-1zM305 474h2v1h-2zM310 474h1v1h-1zM314 474h1v1h-1zM317 474h1v1h-1zM319 474h1v1h-1zM323 474h1v1h-1zM326 474h1v1h-1zM332 474h1v1h-1zM338 474h1v1h-1zM342 474h1v1h-1zM346 474h1v1h-1zM350 474h1v1h-1zM353 474h1v1h-1zM355 474h1v1h-1zM362 474h1v1h-1zM366 474h1v1h-1zM369 474h1v1h-1zM372 474h1v1h-1zM375 474h1v1h-1zM378 474h1v1h-1zM384 474h1v1h-1zM388 474h1v1h-1zM301 475h1v1h-1zM305 475h2v1h-2zM310 475h1v1h-1zM317 475h2v1h-2zM323 475h1v1h-1zM332 475h1v1h-1zM337 475h1v1h-1zM343 475h1v1h-1zM346 475h1v1h-1zM350 475h1v1h-1zM353 475h2v1h-2zM362 475h1v1h-1zM366 475h1v1h-1zM369 475h1v1h-1zM372 475h1v1h-1zM375 475h1v1h-1zM378 475h1v1h-1zM384 475h1v1h-1zM388 475h1v1h-1zM301 476h1v1h-1zM304 476h1v1h-1zM307 476h1v1h-1zM309 476h1v1h-1zM317 476h2v1h-2zM324 476h3v1h-3zM332 476h4v1h-4zM337 476h1v1h-1zM343 476h1v1h-1zM346 476h5v1h-5zM353 476h2v1h-2zM362 476h5v1h-5zM369 476h1v1h-1zM372 476h1v1h-1zM375 476h1v1h-1zM378 476h4v1h-4zM384 476h5v1h-5zM301 477h1v1h-1zM304 477h4v1h-4zM310 477h1v1h-1zM317 477h1v1h-1zM319 477h1v1h-1zM327 477h1v1h-1zM332 477h1v1h-1zM337 477h1v1h-1zM343 477h1v1h-1zM346 477h1v1h-1zM349 477h1v1h-1zM353 477h1v1h-1zM355 477h1v1h-1zM362 477h1v1h-1zM365 477h1v1h-1zM369 477h1v1h-1zM373 477h2v1h-2zM378 477h1v1h-1zM384 477h1v1h-1zM387 477h1v1h-1zM298 478h1v1h-1zM301 478h1v1h-1zM303 478h1v1h-1zM308 478h1v1h-1zM310 478h1v1h-1zM314 478h2v1h-2zM317 478h1v1h-1zM320 478h1v1h-1zM322 478h1v1h-1zM327 478h1v1h-1zM332 478h1v1h-1zM338 478h1v1h-1zM342 478h1v1h-1zM346 478h1v1h-1zM350 478h1v1h-1zM353 478h1v1h-1zM356 478h1v1h-1zM362 478h1v1h-1zM366 478h1v1h-1zM369 478h1v1h-1zM373 478h2v1h-2zM378 478h1v1h-1zM384 478h1v1h-1zM388 478h1v1h-1zM299 479h3v1h-3zM303 479h1v1h-1zM308 479h1v1h-1zM311 479h4v1h-4zM317 479h1v1h-1zM320 479h2v1h-2zM323 479h4v1h-4zM332 479h1v1h-1zM339 479h3v1h-3zM346 479h1v1h-1zM350 479h1v1h-1zM353 479h1v1h-1zM356 479h2v1h-2zM362 479h1v1h-1zM366 479h1v1h-1zM369 479h1v1h-1zM373 479h2v1h-2zM378 479h5v1h-5zM384 479h1v1h-1zM388 479h1v1h-1z"/>
<path d="M21 0h3v1h-3zM21 1h1v1h-1zM23 1h1v1h-1zM20 2h1v1h-1zM24 2h1v1h-1zM20 3h1v1h-1zM24 3h1v1h-1zM20 4h1v1h-1zM24 4h1v1h-1zM21 5h1v1h-1zM23 5h1v1h-1zM21 6h3v1h-3zM16 0h3v1h-3zM16 1h1v1h-1zM15 2h1v1h-1zM17 2h2v1h-2zM15 3h2v1h-2zM19 3h1v1h-1zM15 4h1v1h-1zM19 4h1v1h-1zM16 5h1v1h-1zM19 5h1v1h-1zM16 6h3v1h-3z"/>
<path d="M21 33h3v1h-3zM21 34h1v1h-1zM23 34h1v1h-1zM20 35h1v1h-1zM24 35h1v1h-1zM20 36h1v1h-1zM24 36h1v1h-1zM20 37h1v1h-1zM24 37h1v1h-1zM21 38h1v1h-1zM23 38h1v1h-1zM21 39h3v1h-3zM16 33h3v1h-3zM16 34h1v1h-1zM16 35h3v1h-3zM19 36h1v1h-1zM19 37h1v1h-1zM15 38h1v1h-1zM18 38h1v1h-1zM16 39h3v1h-3z"/>
<path d="M21 65h3v1h-3zM21 66h1v1h-1zM23 66h1v1h-1zM20 67h1v1h-1zM24 67h1v1h-1zM20 68h1v1h-1zM24 68h1v1h-1zM20 69h1v1h-1zM24 69h1v1h-1zM21 70h1v1h-1zM23 70h1v1h-1zM21 71h3v1h-3zM18 65h1v1h-1zM17 66h2v1h-2zM16 67h1v1h-1zM18 67h1v1h-1zM16 68h1v1h-1zM18 68h1v1h-1zM15 69h1v1h-1zM18 69h1v1h-1zM15 70h5v1h-5zM18 71h1v1h-1z"/>
<path d="M21 98h3v1h-3zM21 99h1v1h-1zM23 99h1v1h-1zM20 100h1v1h-1zM24 100h1v1h-1zM20 101h1v1h-1zM24 101h1v1h-1zM20 102h1v1h-1zM24 102h1v1h-1zM21 103h1v1h-1zM23 103h1v1h-1zM21 104h3v1h-3zM16 98h3v1h-3zM15 99h1v1h-1zM18 99h1v1h-1zM18 100h1v1h-1zM17 101h2v1h-2zM19 102h1v1h-1zM15 103h1v1h-1zM19 103h1v1h-1zM16 104h3v1h-3z"/>
<path d="M21 131h3v1h-3zM21 132h1v1h-1zM23 132h1v1h-1zM20 133h1v1h-1zM24 133h1v1h-1zM20 134h1v1h-1zM24 134h1v1h-1zM20 135h1v1h-1zM24 135h1v1h-1zM21 136h1v1h-1zM23 136h1v1h-1zM21 137h3v1h-3zM16 131h3v1h-3zM18 132h1v1h-1zM18 133h1v1h-1zM18 134h1v1h-1zM17 135h1v1h-1zM16 136h1v1h-1zM15 137h5v1h-5z"/>
<path d="M21 163h3v1h-3zM21 164h1v1h-1zM23 164h1v1h-1zM20 165h1v1h-1zM24 165h1v1h-1zM20 166h1v1h-1zM24 166h1v1h-1zM20 167h1v1h-1zM24 167h1v1h-1zM21 168h1v1h-1zM23 168h1v1h-1zM21 169h3v1h-3zM17 163h1v1h-1zM16 164h2v1h-2zM17 165h1v1h-1zM17 166h1v1h-1zM17 167h1v1h-1zM17 168h1v1h-1zM17 169h1v1h-1z"/>
<path d="M21 197h3v1h-3zM21 198h1v1h-1zM23 198h1v1h-1zM20 199h1v1h-1zM24 199h1v1h-1zM20 200h1v1h-1zM24 200h1v1h-1zM20 201h1v1h-1zM24 201h1v1h-1zM21 202h1v1h-1zM23 202h1v1h-1zM21 203h3v1h-3z"/>
<path d="M22 265h3v1h-3zM22 266h1v1h-1zM24 266h1v1h-1zM21 267h1v1h-1zM25 267h1v1h-1zM21 268h1v1h-1zM25 268h1v1h-1zM21 269h1v1h-1zM25 269h1v1h-1zM22 270h1v1h-1zM24 270h1v1h-1zM22 271h3v1h-3zM17 265h3v1h-3zM17 266h1v1h-1zM16 267h1v1h-1zM18 267h2v1h-2zM16 268h2v1h-2zM20 268h1v1h-1zM16 269h1v1h-1zM20 269h1v1h-1zM17 270h1v1h-1zM20 270h1v1h-1zM17 271h3v1h-3z"/>
<path d="M21 298h3v1h-3zM21 299h1v1h-1zM23 299h1v1h-1zM20 300h1v1h-1zM24 300h1v1h-1zM20 301h1v1h-1zM24 301h1v1h-1zM20 302h1v1h-1zM24 302h1v1h-1zM21 303h1v1h-1zM23 303h1v1h-1zM21 304h3v1h-3zM15 298h3v1h-3zM15 299h1v1h-1zM15 300h3v1h-3zM18 301h1v1h-1zM18 302h1v1h-1zM14 303h1v1h-1zM17 303h1v1h-1zM15 304h3v1h-3z"/>
<path d="M22 331h3v1h-3zM22 332h1v1h-1zM24 332h1v1h-1zM21 333h1v1h-1zM25 333h1v1h-1zM21 334h1v1h-1zM25 334h1v1h-1zM21 335h1v1h-1zM25 335h1v1h-1zM22 336h1v1h-1zM24 336h1v1h-1zM22 337h3v1h-3zM19 331h1v1h-1zM18 332h2v1h-2zM17 333h1v1h-1zM19 333h1v1h-1zM17 334h1v1h-1zM19 334h1v1h-1zM16 335h1v1h-1zM19 335h1v1h-1zM16 336h5v1h-5zM19 337h1v1h-1z"/>
<path d="M22 363h3v1h-3zM22 364h1v1h-1zM24 364h1v1h-1zM21 365h1v1h-1zM25 365h1v1h-1zM21 366h1v1h-1zM25 366h1v1h-1zM21 367h1v1h-1zM25 367h1v1h-1zM22 368h1v1h-1zM24 368h1v1h-1zM22 369h3v1h-3zM17 363h3v1h-3zM16 364h1v1h-1zM19 364h1v1h-1zM19 365h1v1h-1zM18 366h2v1h-2zM20 367h1v1h-1zM16 368h1v1h-1zM20 368h1v1h-1zM17 369h3v1h-3z"/>
<path d="M22 398h3v1h-3zM22 399h1v1h-1zM24 399h1v1h-1zM21 400h1v1h-1zM25 400h1v1h-1zM21 401h1v1h-1zM25 401h1v1h-1zM21 402h1v1h-1zM25 402h1v1h-1zM22 403h1v1h-1zM24 403h1v1h-1zM22 404h3v1h-3zM17 398h3v1h-3zM19 399h1v1h-1zM19 400h1v1h-1zM19 401h1v1h-1zM18 402h1v1h-1zM17 403h1v1h-1zM16 404h5v1h-5z"/>
<path d="M22 431h3v1h-3zM22 432h1v1h-1zM24 432h1v1h-1zM21 433h1v1h-1zM25 433h1v1h-1zM21 434h1v1h-1zM25 434h1v1h-1zM21 435h1v1h-1zM25 435h1v1h-1zM22 436h1v1h-1zM24 436h1v1h-1zM22 437h3v1h-3zM18 431h1v1h-1zM17 432h2v1h-2zM18 433h1v1h-1zM18 434h1v1h-1zM18 435h1v1h-1zM18 436h1v1h-1zM18 437h1v1h-1z"/>
<path d="M21 462h3v1h-3zM21 463h1v1h-1zM23 463h1v1h-1zM20 464h1v1h-1zM24 464h1v1h-1zM20 465h1v1h-1zM24 465h1v1h-1zM20 466h1v1h-1zM24 466h1v1h-1zM21 467h1v1h-1zM23 467h1v1h-1zM21 468h3v1h-3z"/>
<path d="M28 219h1v1h-1zM80 219h1v1h-1zM108 219h1v1h-1zM124 219h1v1h-1zM146 219h1v1h-1zM152 219h1v1h-1zM169 219h1v1h-1zM195 219h1v1h-1zM241 219h1v1h-1zM295 219h1v1h-1zM299 219h1v1h-1zM353 219h1v1h-1zM356 219h1v1h-1zM28 220h1v1h-1zM45 220h1v1h-1zM124 220h1v1h-1zM127 220h1v1h-1zM146 220h1v1h-1zM152 220h1v1h-1zM195 220h1v1h-1zM264 220h1v1h-1zM295 220h1v1h-1zM299 220h1v1h-1zM353 220h1v1h-1zM356 220h1v1h-1zM28 221h1v1h-1zM31 221h4v1h-4zM41 221h2v1h-2zM44 221h3v1h-3zM48 221h2v1h-2zM51 221h4v1h-4zM57 221h4v1h-4zM64 221h7v1h-7zM73 221h2v1h-2zM80 221h1v1h-1zM83 221h4v1h-4zM93 221h4v1h-4zM99 221h4v1h-4zM105 221h2v1h-2zM108 221h1v1h-1zM112 221h4v1h-4zM118 221h1v1h-1zM121 221h1v1h-1zM124 221h1v1h-1zM126 221h3v1h-3zM130 221h1v1h-1zM133 221h1v1h-1zM137 221h2v1h-2zM140 221h4v1h-4zM146 221h1v1h-1zM152 221h4v1h-4zM159 221h4v1h-4zM165 221h2v1h-2zM169 221h1v1h-1zM172 221h4v1h-4zM178 221h2v1h-2zM189 221h4v1h-4zM195 221h1v1h-1zM199 221h4v1h-4zM205 221h4v1h-4zM211 221h4v1h-4zM220 221h4v1h-4zM227 221h2v1h-2zM230 221h4v1h-4zM236 221h3v1h-3zM241 221h1v1h-1zM244 221h4v1h-4zM251 221h4v1h-4zM260 221h2v1h-2zM263 221h3v1h-3zM267 221h4v1h-4zM274 221h4v1h-4zM280 221h4v1h-4zM286 221h2v1h-2zM289 221h4v1h-4zM295 221h1v1h-1zM299 221h1v1h-1zM302 221h4v1h-4zM308 221h2v1h-2zM311 221h2v1h-2zM319 221h4v1h-4zM325 221h4v1h-4zM331 221h4v1h-4zM337 221h4v1h-4zM343 221h2v1h-2zM347 221h4v1h-4zM353 221h1v1h-1zM356 221h1v1h-1zM358 221h1v1h-1zM362 221h1v1h-1zM368 221h4v1h-4zM374 221h2v1h-2zM377 221h4v1h-4zM28 222h1v1h-1zM31 222h1v1h-1zM34 222h1v1h-1zM40 222h1v1h-1zM45 222h1v1h-1zM48 222h1v1h-1zM51 222h1v1h-1zM54 222h1v1h-1zM60 222h1v1h-1zM64 222h1v1h-1zM67 222h1v1h-1zM70 222h1v1h-1zM72 222h1v1h-1zM80 222h1v1h-1zM83 222h1v1h-1zM86 222h1v1h-1zM96 222h1v1h-1zM99 222h1v1h-1zM102 222h1v1h-1zM105 222h1v1h-1zM108 222h1v1h-1zM112 222h1v1h-1zM116 222h1v1h-1zM118 222h1v1h-1zM121 222h1v1h-1zM124 222h1v1h-1zM127 222h1v1h-1zM130 222h1v1h-1zM133 222h1v1h-1zM137 222h1v1h-1zM143 222h1v1h-1zM146 222h1v1h-1zM152 222h1v1h-1zM155 222h1v1h-1zM162 222h1v1h-1zM164 222h1v1h-1zM169 222h1v1h-1zM172 222h1v1h-1zM175 222h1v1h-1zM177 222h1v1h-1zM192 222h1v1h-1zM195 222h1v1h-1zM199 222h1v1h-1zM202 222h1v1h-1zM208 222h1v1h-1zM211 222h1v1h-1zM214 222h1v1h-1zM220 222h1v1h-1zM223 222h1v1h-1zM227 222h1v1h-1zM233 222h1v1h-1zM238 222h1v1h-1zM241 222h1v1h-1zM244 222h1v1h-1zM247 222h1v1h-1zM251 222h1v1h-1zM254 222h1v1h-1zM259 222h1v1h-1zM264 222h1v1h-1zM267 222h1v1h-1zM270 222h1v1h-1zM274 222h1v1h-1zM277 222h1v1h-1zM280 222h1v1h-1zM283 222h1v1h-1zM286 222h1v1h-1zM289 222h1v1h-1zM292 222h1v1h-1zM295 222h1v1h-1zM299 222h1v1h-1zM302 222h1v1h-1zM305 222h1v1h-1zM308 222h1v1h-1zM310 222h1v1h-1zM319 222h1v1h-1zM322 222h1v1h-1zM325 222h1v1h-1zM328 222h1v1h-1zM331 222h1v1h-1zM334 222h1v1h-1zM337 222h1v1h-1zM340 222h1v1h-1zM343 222h1v1h-1zM350 222h1v1h-1zM353 222h1v1h-1zM356 222h1v1h-1zM359 222h1v1h-1zM362 222h1v1h-1zM371 222h1v1h-1zM374 222h1v1h-1zM377 222h1v1h-1zM380 222h1v1h-1zM28 223h1v1h-1zM31 223h1v1h-1zM34 223h1v1h-1zM41 223h1v1h-1zM45 223h1v1h-1zM48 223h1v1h-1zM50 223h6v1h-6zM57 223h4v1h-4zM64 223h1v1h-1zM67 223h1v1h-1zM70 223h1v1h-1zM73 223h1v1h-1zM80 223h1v1h-1zM83 223h1v1h-1zM86 223h1v1h-1zM93 223h4v1h-4zM98 223h1v1h-1zM102 223h1v1h-1zM105 223h1v1h-1zM108 223h1v1h-1zM111 223h1v1h-1zM118 223h1v1h-1zM121 223h1v1h-1zM124 223h1v1h-1zM127 223h1v1h-1zM130 223h1v1h-1zM133 223h1v1h-1zM137 223h1v1h-1zM140 223h4v1h-4zM146 223h1v1h-1zM152 223h1v1h-1zM156 223h1v1h-1zM159 223h4v1h-4zM165 223h1v1h-1zM169 223h1v1h-1zM172 223h1v1h-1zM175 223h1v1h-1zM178 223h1v1h-1zM189 223h4v1h-4zM195 223h1v1h-1zM198 223h1v1h-1zM202 223h1v1h-1zM205 223h4v1h-4zM210 223h10v1h-10zM223 223h1v1h-1zM227 223h1v1h-1zM230 223h4v1h-4zM237 223h1v1h-1zM241 223h1v1h-1zM244 223h1v1h-1zM247 223h1v1h-1zM250 223h1v1h-1zM254 223h1v1h-1zM260 223h1v1h-1zM264 223h1v1h-1zM266 223h1v1h-1zM271 223h1v1h-1zM274 223h1v1h-1zM277 223h1v1h-1zM279 223h6v1h-6zM286 223h1v1h-1zM288 223h1v1h-1zM293 223h1v1h-1zM295 223h1v1h-1zM299 223h1v1h-1zM301 223h6v1h-6zM308 223h1v1h-1zM311 223h1v1h-1zM318 223h1v1h-1zM322 223h1v1h-1zM324 223h6v1h-6zM331 223h1v1h-1zM334 223h1v1h-1zM336 223h6v1h-6zM343 223h1v1h-1zM347 223h4v1h-4zM353 223h1v1h-1zM356 223h1v1h-1zM359 223h1v1h-1zM361 223h1v1h-1zM368 223h4v1h-4zM374 223h1v1h-1zM376 223h6v1h-6zM28 224h1v1h-1zM31 224h1v1h-1zM34 224h1v1h-1zM42 224h2v1h-2zM45 224h1v1h-1zM48 224h1v1h-1zM50 224h1v1h-1zM57 224h1v1h-1zM60 224h1v1h-1zM64 224h1v1h-1zM67 224h1v1h-1zM70 224h1v1h-1zM74 224h2v1h-2zM80 224h1v1h-1zM83 224h1v1h-1zM86 224h1v1h-1zM93 224h1v1h-1zM96 224h1v1h-1zM98 224h1v1h-1zM102 224h1v1h-1zM105 224h1v1h-1zM108 224h1v1h-1zM111 224h1v1h-1zM118 224h1v1h-1zM121 224h1v1h-1zM124 224h1v1h-1zM127 224h1v1h-1zM130 224h1v1h-1zM133 224h1v1h-1zM137 224h1v1h-1zM140 224h1v1h-1zM143 224h1v1h-1zM146 224h1v1h-1zM152 224h1v1h-1zM156 224h1v1h-1zM159 224h1v1h-1zM162 224h1v1h-1zM166 224h2v1h-2zM169 224h1v1h-1zM172 224h1v1h-1zM175 224h1v1h-1zM179 224h2v1h-2zM189 224h1v1h-1zM192 224h1v1h-1zM195 224h1v1h-1zM198 224h1v1h-1zM202 224h1v1h-1zM205 224h1v1h-1zM208 224h1v1h-1zM210 224h1v1h-1zM219 224h1v1h-1zM223 224h1v1h-1zM227 224h1v1h-1zM230 224h1v1h-1zM233 224h1v1h-1zM237 224h1v1h-1zM241 224h1v1h-1zM244 224h1v1h-1zM247 224h1v1h-1zM250 224h1v1h-1zM254 224h1v1h-1zM261 224h2v1h-2zM264 224h1v1h-1zM266 224h1v1h-1zM271 224h1v1h-1zM274 224h1v1h-1zM277 224h1v1h-1zM279 224h1v1h-1zM286 224h1v1h-1zM288 224h1v1h-1zM293 224h1v1h-1zM295 224h1v1h-1zM299 224h1v1h-1zM301 224h1v1h-1zM308 224h1v1h-1zM312 224h2v1h-2zM318 224h1v1h-1zM322 224h1v1h-1zM324 224h1v1h-1zM331 224h1v1h-1zM334 224h1v1h-1zM336 224h1v1h-1zM343 224h1v1h-1zM347 224h1v1h-1zM350 224h1v1h-1zM353 224h1v1h-1zM356 224h1v1h-1zM359 224h1v1h-1zM361 224h1v1h-1zM368 224h1v1h-1zM371 224h1v1h-1zM374 224h1v1h-1zM376 224h1v1h-1zM28 225h1v1h-1zM31 225h1v1h-1zM34 225h1v1h-1zM40 225h1v1h-1zM43 225h1v1h-1zM45 225h1v1h-1zM48 225h1v1h-1zM51 225h1v1h-1zM54 225h1v1h-1zM56 225h1v1h-1zM60 225h1v1h-1zM64 225h1v1h-1zM67 225h1v1h-1zM70 225h1v1h-1zM72 225h1v1h-1zM75 225h1v1h-1zM80 225h1v1h-1zM83 225h1v1h-1zM86 225h1v1h-1zM92 225h1v1h-1zM96 225h1v1h-1zM99 225h1v1h-1zM102 225h1v1h-1zM105 225h1v1h-1zM108 225h1v1h-1zM112 225h1v1h-1zM116 225h1v1h-1zM118 225h1v1h-1zM121 225h1v1h-1zM124 225h1v1h-1zM127 225h1v1h-1zM130 225h1v1h-1zM133 225h1v1h-1zM137 225h1v1h-1zM139 225h1v1h-1zM143 225h1v1h-1zM146 225h1v1h-1zM152 225h1v1h-1zM155 225h1v1h-1zM158 225h1v1h-1zM162 225h1v1h-1zM164 225h1v1h-1zM167 225h1v1h-1zM169 225h1v1h-1zM172 225h1v1h-1zM175 225h1v1h-1zM177 225h1v1h-1zM180 225h1v1h-1zM188 225h1v1h-1zM192 225h1v1h-1zM195 225h1v1h-1zM199 225h1v1h-1zM202 225h1v1h-1zM204 225h1v1h-1zM208 225h1v1h-1zM211 225h1v1h-1zM214 225h1v1h-1zM220 225h1v1h-1zM223 225h1v1h-1zM227 225h1v1h-1zM229 225h1v1h-1zM233 225h1v1h-1zM236 225h1v1h-1zM241 225h1v1h-1zM244 225h1v1h-1zM247 225h1v1h-1zM251 225h1v1h-1zM254 225h1v1h-1zM259 225h1v1h-1zM262 225h1v1h-1zM264 225h1v1h-1zM267 225h1v1h-1zM270 225h1v1h-1zM274 225h1v1h-1zM277 225h1v1h-1zM280 225h1v1h-1zM283 225h1v1h-1zM286 225h1v1h-1zM289 225h1v1h-1zM292 225h1v1h-1zM295 225h1v1h-1zM299 225h1v1h-1zM302 225h1v1h-1zM305 225h1v1h-1zM308 225h1v1h-1zM310 225h1v1h-1zM313 225h1v1h-1zM319 225h1v1h-1zM322 225h1v1h-1zM325 225h1v1h-1zM328 225h1v1h-1zM331 225h1v1h-1zM334 225h1v1h-1zM337 225h1v1h-1zM340 225h1v1h-1zM343 225h1v1h-1zM346 225h1v1h-1zM350 225h1v1h-1zM353 225h1v1h-1zM356 225h1v1h-1zM360 225h1v1h-1zM367 225h1v1h-1zM371 225h1v1h-1zM374 225h1v1h-1zM377 225h1v1h-1zM380 225h1v1h-1zM28 226h1v1h-1zM31 226h1v1h-1zM34 226h1v1h-1zM41 226h2v1h-2zM45 226h2v1h-2zM48 226h1v1h-1zM51 226h4v1h-4zM57 226h5v1h-5zM64 226h1v1h-1zM67 226h1v1h-1zM70 226h1v1h-1zM73 226h2v1h-2zM80 226h1v1h-1zM83 226h1v1h-1zM86 226h1v1h-1zM93 226h5v1h-5zM99 226h4v1h-4zM105 226h1v1h-1zM108 226h1v1h-1zM112 226h4v1h-4zM118 226h4v1h-4zM124 226h1v1h-1zM127 226h2v1h-2zM130 226h4v1h-4zM137 226h1v1h-1zM140 226h5v1h-5zM146 226h1v1h-1zM152 226h4v1h-4zM159 226h5v1h-5zM165 226h2v1h-2zM169 226h1v1h-1zM172 226h1v1h-1zM175 226h1v1h-1zM178 226h2v1h-2zM183 226h1v1h-1zM189 226h5v1h-5zM195 226h1v1h-1zM199 226h4v1h-4zM205 226h5v1h-5zM211 226h4v1h-4zM220 226h4v1h-4zM227 226h1v1h-1zM230 226h10v1h-10zM241 226h1v1h-1zM244 226h1v1h-1zM247 226h1v1h-1zM251 226h4v1h-4zM260 226h2v1h-2zM264 226h2v1h-2zM267 226h4v1h-4zM274 226h1v1h-1zM277 226h1v1h-1zM280 226h4v1h-4zM286 226h1v1h-1zM289 226h4v1h-4zM295 226h1v1h-1zM299 226h1v1h-1zM302 226h4v1h-4zM308 226h1v1h-1zM311 226h2v1h-2zM319 226h4v1h-4zM325 226h4v1h-4zM331 226h1v1h-1zM334 226h1v1h-1zM337 226h4v1h-4zM343 226h1v1h-1zM347 226h5v1h-5zM353 226h1v1h-1zM356 226h1v1h-1zM360 226h1v1h-1zM368 226h5v1h-5zM374 226h1v1h-1zM377 226h4v1h-4zM102 227h1v1h-1zM183 227h1v1h-1zM202 227h1v1h-1zM223 227h1v1h-1zM254 227h1v1h-1zM322 227h1v1h-1zM360 227h1v1h-1zM99 228h4v1h-4zM183 228h1v1h-1zM199 228h4v1h-4zM220 228h4v1h-4zM251 228h4v1h-4zM319 228h4v1h-4zM358 228h2v1h-2z"/>
<path d="M32 230h1v1h-1zM80 230h1v1h-1zM101 230h1v1h-1zM153 230h2v1h-2zM159 230h2v1h-2zM163 230h1v1h-1zM170 230h1v1h-1zM183 230h4v1h-4zM219 230h1v1h-1zM222 230h1v1h-1zM236 230h4v1h-4zM243 230h4v1h-4zM264 230h4v1h-4zM271 230h4v1h-4zM326 230h2v1h-2zM336 230h1v1h-1zM351 230h2v1h-2zM355 230h1v1h-1zM362 230h1v1h-1zM29 231h1v1h-1zM32 231h1v1h-1zM67 231h1v1h-1zM80 231h1v1h-1zM101 231h1v1h-1zM117 231h1v1h-1zM123 231h1v1h-1zM153 231h1v1h-1zM159 231h1v1h-1zM170 231h1v1h-1zM182 231h1v1h-1zM187 231h1v1h-1zM219 231h1v1h-1zM222 231h1v1h-1zM236 231h1v1h-1zM239 231h1v1h-1zM243 231h1v1h-1zM246 231h1v1h-1zM252 231h1v1h-1zM264 231h1v1h-1zM271 231h1v1h-1zM274 231h1v1h-1zM314 231h1v1h-1zM326 231h1v1h-1zM333 231h1v1h-1zM336 231h1v1h-1zM351 231h1v1h-1zM362 231h1v1h-1zM28 232h3v1h-3zM32 232h4v1h-4zM38 232h4v1h-4zM48 232h7v1h-7zM57 232h4v1h-4zM63 232h2v1h-2zM66 232h3v1h-3zM74 232h4v1h-4zM80 232h4v1h-4zM86 232h1v1h-1zM89 232h1v1h-1zM92 232h4v1h-4zM98 232h4v1h-4zM104 232h4v1h-4zM111 232h4v1h-4zM116 232h3v1h-3zM122 232h4v1h-4zM129 232h1v1h-1zM131 232h4v1h-4zM138 232h4v1h-4zM147 232h4v1h-4zM152 232h3v1h-3zM158 232h3v1h-3zM163 232h1v1h-1zM166 232h2v1h-2zM170 232h4v1h-4zM182 232h1v1h-1zM191 232h4v1h-4zM197 232h4v1h-4zM203 232h4v1h-4zM209 232h2v1h-2zM212 232h4v1h-4zM219 232h1v1h-1zM222 232h1v1h-1zM224 232h1v1h-1zM228 232h1v1h-1zM239 232h1v1h-1zM242 232h1v1h-1zM247 232h1v1h-1zM251 232h3v1h-3zM255 232h4v1h-4zM264 232h1v1h-1zM270 232h1v1h-1zM275 232h1v1h-1zM280 232h4v1h-4zM286 232h4v1h-4zM292 232h2v1h-2zM295 232h4v1h-4zM302 232h4v1h-4zM308 232h4v1h-4zM313 232h3v1h-3zM320 232h4v1h-4zM325 232h3v1h-3zM332 232h3v1h-3zM336 232h4v1h-4zM342 232h4v1h-4zM350 232h3v1h-3zM355 232h1v1h-1zM358 232h2v1h-2zM362 232h4v1h-4zM29 233h1v1h-1zM32 233h1v1h-1zM35 233h1v1h-1zM38 233h1v1h-1zM41 233h1v1h-1zM48 233h1v1h-1zM51 233h1v1h-1zM54 233h1v1h-1zM57 233h1v1h-1zM60 233h1v1h-1zM62 233h1v1h-1zM67 233h1v1h-1zM77 233h1v1h-1zM80 233h1v1h-1zM83 233h1v1h-1zM86 233h1v1h-1zM89 233h1v1h-1zM92 233h1v1h-1zM95 233h1v1h-1zM98 233h1v1h-1zM101 233h1v1h-1zM107 233h1v1h-1zM111 233h1v1h-1zM114 233h1v1h-1zM117 233h1v1h-1zM123 233h1v1h-1zM126 233h1v1h-1zM129 233h1v1h-1zM131 233h1v1h-1zM134 233h1v1h-1zM138 233h1v1h-1zM141 233h1v1h-1zM147 233h1v1h-1zM150 233h1v1h-1zM153 233h1v1h-1zM159 233h1v1h-1zM163 233h1v1h-1zM165 233h1v1h-1zM170 233h1v1h-1zM173 233h1v1h-1zM182 233h1v1h-1zM191 233h1v1h-1zM194 233h1v1h-1zM197 233h1v1h-1zM200 233h1v1h-1zM203 233h1v1h-1zM206 233h1v1h-1zM209 233h1v1h-1zM215 233h1v1h-1zM219 233h1v1h-1zM222 233h1v1h-1zM225 233h1v1h-1zM228 233h1v1h-1zM239 233h1v1h-1zM242 233h1v1h-1zM247 233h1v1h-1zM252 233h1v1h-1zM255 233h1v1h-1zM258 233h1v1h-1zM264 233h4v1h-4zM270 233h1v1h-1zM275 233h1v1h-1zM280 233h1v1h-1zM283 233h1v1h-1zM286 233h1v1h-1zM289 233h1v1h-1zM292 233h1v1h-1zM295 233h1v1h-1zM299 233h1v1h-1zM302 233h1v1h-1zM305 233h1v1h-1zM308 233h1v1h-1zM311 233h1v1h-1zM314 233h1v1h-1zM320 233h1v1h-1zM323 233h1v1h-1zM326 233h1v1h-1zM333 233h1v1h-1zM336 233h1v1h-1zM339 233h1v1h-1zM342 233h1v1h-1zM345 233h1v1h-1zM351 233h1v1h-1zM355 233h1v1h-1zM357 233h1v1h-1zM362 233h1v1h-1zM365 233h1v1h-1zM29 234h1v1h-1zM32 234h1v1h-1zM35 234h1v1h-1zM37 234h6v1h-6zM48 234h1v1h-1zM51 234h1v1h-1zM54 234h1v1h-1zM56 234h1v1h-1zM61 234h1v1h-1zM63 234h1v1h-1zM67 234h1v1h-1zM74 234h4v1h-4zM80 234h1v1h-1zM84 234h1v1h-1zM86 234h1v1h-1zM89 234h1v1h-1zM92 234h1v1h-1zM95 234h1v1h-1zM97 234h1v1h-1zM101 234h1v1h-1zM104 234h4v1h-4zM111 234h1v1h-1zM114 234h1v1h-1zM117 234h1v1h-1zM123 234h1v1h-1zM126 234h1v1h-1zM128 234h1v1h-1zM131 234h1v1h-1zM135 234h1v1h-1zM137 234h6v1h-6zM146 234h1v1h-1zM151 234h1v1h-1zM153 234h1v1h-1zM159 234h1v1h-1zM163 234h1v1h-1zM166 234h1v1h-1zM170 234h1v1h-1zM173 234h1v1h-1zM182 234h1v1h-1zM185 234h3v1h-3zM190 234h6v1h-6zM197 234h1v1h-1zM200 234h1v1h-1zM202 234h6v1h-6zM209 234h1v1h-1zM212 234h4v1h-4zM219 234h1v1h-1zM222 234h1v1h-1zM225 234h1v1h-1zM227 234h1v1h-1zM238 234h1v1h-1zM242 234h1v1h-1zM247 234h1v1h-1zM252 234h1v1h-1zM254 234h1v1h-1zM259 234h1v1h-1zM264 234h1v1h-1zM267 234h1v1h-1zM270 234h1v1h-1zM275 234h1v1h-1zM280 234h1v1h-1zM284 234h7v1h-7zM292 234h1v1h-1zM294 234h1v1h-1zM301 234h6v1h-6zM308 234h1v1h-1zM311 234h1v1h-1zM314 234h1v1h-1zM319 234h1v1h-1zM324 234h1v1h-1zM326 234h1v1h-1zM333 234h1v1h-1zM336 234h1v1h-1zM339 234h1v1h-1zM341 234h6v1h-6zM351 234h1v1h-1zM355 234h1v1h-1zM358 234h1v1h-1zM362 234h1v1h-1zM365 234h1v1h-1zM29 235h1v1h-1zM32 235h1v1h-1zM35 235h1v1h-1zM37 235h1v1h-1zM48 235h1v1h-1zM51 235h1v1h-1zM54 235h1v1h-1zM56 235h1v1h-1zM61 235h1v1h-1zM64 235h2v1h-2zM67 235h1v1h-1zM74 235h1v1h-1zM77 235h1v1h-1zM80 235h1v1h-1zM84 235h1v1h-1zM86 235h1v1h-1zM89 235h1v1h-1zM92 235h1v1h-1zM95 235h1v1h-1zM97 235h1v1h-1zM101 235h1v1h-1zM104 235h1v1h-1zM107 235h1v1h-1zM111 235h1v1h-1zM114 235h1v1h-1zM117 235h1v1h-1zM123 235h1v1h-1zM126 235h1v1h-1zM128 235h1v1h-1zM131 235h1v1h-1zM135 235h1v1h-1zM137 235h1v1h-1zM146 235h1v1h-1zM151 235h1v1h-1zM153 235h1v1h-1zM159 235h1v1h-1zM163 235h1v1h-1zM167 235h2v1h-2zM170 235h1v1h-1zM173 235h1v1h-1zM182 235h1v1h-1zM187 235h1v1h-1zM190 235h1v1h-1zM197 235h1v1h-1zM200 235h1v1h-1zM202 235h1v1h-1zM209 235h1v1h-1zM212 235h1v1h-1zM215 235h1v1h-1zM219 235h1v1h-1zM222 235h1v1h-1zM225 235h1v1h-1zM227 235h1v1h-1zM237 235h1v1h-1zM242 235h1v1h-1zM246 235h1v1h-1zM252 235h1v1h-1zM254 235h1v1h-1zM259 235h1v1h-1zM268 235h1v1h-1zM270 235h1v1h-1zM274 235h1v1h-1zM280 235h1v1h-1zM284 235h2v1h-2zM292 235h1v1h-1zM294 235h1v1h-1zM301 235h1v1h-1zM308 235h1v1h-1zM311 235h1v1h-1zM314 235h1v1h-1zM319 235h1v1h-1zM324 235h1v1h-1zM326 235h1v1h-1zM333 235h1v1h-1zM336 235h1v1h-1zM339 235h1v1h-1zM341 235h1v1h-1zM351 235h1v1h-1zM355 235h1v1h-1zM359 235h2v1h-2zM362 235h1v1h-1zM365 235h1v1h-1zM29 236h1v1h-1zM32 236h1v1h-1zM35 236h1v1h-1zM38 236h1v1h-1zM41 236h1v1h-1zM48 236h1v1h-1zM51 236h1v1h-1zM54 236h1v1h-1zM57 236h1v1h-1zM60 236h1v1h-1zM62 236h1v1h-1zM65 236h1v1h-1zM67 236h1v1h-1zM73 236h1v1h-1zM77 236h1v1h-1zM80 236h1v1h-1zM83 236h1v1h-1zM86 236h1v1h-1zM89 236h1v1h-1zM92 236h1v1h-1zM95 236h1v1h-1zM98 236h1v1h-1zM101 236h1v1h-1zM103 236h1v1h-1zM107 236h1v1h-1zM111 236h1v1h-1zM114 236h1v1h-1zM117 236h1v1h-1zM123 236h1v1h-1zM127 236h1v1h-1zM131 236h1v1h-1zM134 236h1v1h-1zM138 236h1v1h-1zM141 236h1v1h-1zM147 236h1v1h-1zM150 236h1v1h-1zM153 236h1v1h-1zM159 236h1v1h-1zM163 236h1v1h-1zM165 236h1v1h-1zM168 236h1v1h-1zM170 236h1v1h-1zM173 236h1v1h-1zM182 236h1v1h-1zM187 236h1v1h-1zM191 236h1v1h-1zM194 236h1v1h-1zM197 236h1v1h-1zM200 236h1v1h-1zM203 236h1v1h-1zM206 236h1v1h-1zM209 236h1v1h-1zM211 236h1v1h-1zM215 236h1v1h-1zM219 236h1v1h-1zM222 236h1v1h-1zM226 236h1v1h-1zM236 236h1v1h-1zM243 236h1v1h-1zM246 236h1v1h-1zM252 236h1v1h-1zM255 236h1v1h-1zM258 236h1v1h-1zM264 236h1v1h-1zM267 236h1v1h-1zM271 236h1v1h-1zM274 236h1v1h-1zM280 236h1v1h-1zM283 236h1v1h-1zM286 236h1v1h-1zM289 236h1v1h-1zM292 236h1v1h-1zM295 236h1v1h-1zM299 236h1v1h-1zM302 236h1v1h-1zM305 236h1v1h-1zM308 236h1v1h-1zM311 236h1v1h-1zM314 236h1v1h-1zM320 236h1v1h-1zM323 236h1v1h-1zM326 236h1v1h-1zM333 236h1v1h-1zM336 236h1v1h-1zM339 236h1v1h-1zM342 236h1v1h-1zM345 236h1v1h-1zM351 236h1v1h-1zM355 236h1v1h-1zM357 236h1v1h-1zM360 236h1v1h-1zM362 236h1v1h-1zM365 236h1v1h-1zM29 237h2v1h-2zM32 237h1v1h-1zM35 237h1v1h-1zM38 237h4v1h-4zM48 237h1v1h-1zM51 237h1v1h-1zM54 237h1v1h-1zM57 237h4v1h-4zM63 237h2v1h-2zM67 237h2v1h-2zM74 237h5v1h-5zM80 237h4v1h-4zM86 237h4v1h-4zM92 237h1v1h-1zM95 237h1v1h-1zM98 237h4v1h-4zM104 237h5v1h-5zM111 237h1v1h-1zM114 237h1v1h-1zM117 237h2v1h-2zM123 237h2v1h-2zM127 237h1v1h-1zM131 237h4v1h-4zM138 237h4v1h-4zM147 237h4v1h-4zM153 237h1v1h-1zM159 237h1v1h-1zM163 237h1v1h-1zM166 237h2v1h-2zM170 237h1v1h-1zM173 237h1v1h-1zM176 237h1v1h-1zM183 237h4v1h-4zM191 237h4v1h-4zM197 237h1v1h-1zM200 237h1v1h-1zM203 237h4v1h-4zM209 237h1v1h-1zM212 237h5v1h-5zM219 237h1v1h-1zM222 237h1v1h-1zM226 237h1v1h-1zM230 237h1v1h-1zM236 237h4v1h-4zM244 237h2v1h-2zM252 237h2v1h-2zM255 237h4v1h-4zM264 237h4v1h-4zM272 237h2v1h-2zM280 237h4v1h-4zM286 237h4v1h-4zM292 237h1v1h-1zM295 237h4v1h-4zM302 237h4v1h-4zM308 237h1v1h-1zM311 237h1v1h-1zM314 237h2v1h-2zM320 237h4v1h-4zM326 237h1v1h-1zM333 237h2v1h-2zM336 237h1v1h-1zM339 237h1v1h-1zM342 237h4v1h-4zM351 237h1v1h-1zM355 237h1v1h-1zM358 237h2v1h-2zM362 237h1v1h-1zM365 237h1v1h-1zM127 238h1v1h-1zM131 238h1v1h-1zM226 238h1v1h-1zM230 238h1v1h-1zM280 238h1v1h-1zM125 239h2v1h-2zM131 239h1v1h-1zM224 239h2v1h-2zM230 239h1v1h-1zM280 239h1v1h-1z"/>
<path d="M84 241h1v1h-1zM87 241h1v1h-1zM52 242h1v1h-1zM84 242h1v1h-1zM87 242h1v1h-1zM29 243h4v1h-4zM35 243h2v1h-2zM38 243h4v1h-4zM48 243h2v1h-2zM51 243h3v1h-3zM56 243h4v1h-4zM62 243h4v1h-4zM68 243h4v1h-4zM74 243h2v1h-2zM77 243h4v1h-4zM84 243h1v1h-1zM87 243h1v1h-1zM90 243h4v1h-4zM97 243h2v1h-2zM100 243h2v1h-2zM32 244h1v1h-1zM35 244h1v1h-1zM38 244h1v1h-1zM41 244h1v1h-1zM47 244h1v1h-1zM52 244h1v1h-1zM56 244h1v1h-1zM59 244h1v1h-1zM62 244h1v1h-1zM65 244h1v1h-1zM68 244h1v1h-1zM71 244h1v1h-1zM74 244h1v1h-1zM77 244h1v1h-1zM80 244h1v1h-1zM84 244h1v1h-1zM87 244h1v1h-1zM90 244h1v1h-1zM93 244h1v1h-1zM97 244h1v1h-1zM99 244h1v1h-1zM29 245h4v1h-4zM35 245h1v1h-1zM37 245h6v1h-6zM48 245h1v1h-1zM52 245h1v1h-1zM55 245h1v1h-1zM60 245h1v1h-1zM62 245h1v1h-1zM65 245h1v1h-1zM67 245h6v1h-6zM74 245h1v1h-1zM76 245h1v1h-1zM81 245h1v1h-1zM84 245h1v1h-1zM87 245h1v1h-1zM89 245h6v1h-6zM97 245h1v1h-1zM100 245h1v1h-1zM29 246h1v1h-1zM32 246h1v1h-1zM35 246h1v1h-1zM37 246h1v1h-1zM49 246h2v1h-2zM52 246h1v1h-1zM55 246h1v1h-1zM60 246h1v1h-1zM62 246h1v1h-1zM65 246h1v1h-1zM67 246h1v1h-1zM74 246h1v1h-1zM76 246h1v1h-1zM81 246h1v1h-1zM84 246h1v1h-1zM87 246h1v1h-1zM89 246h1v1h-1zM97 246h1v1h-1zM101 246h2v1h-2zM28 247h1v1h-1zM32 247h1v1h-1zM35 247h1v1h-1zM38 247h1v1h-1zM41 247h1v1h-1zM47 247h1v1h-1zM50 247h1v1h-1zM52 247h1v1h-1zM56 247h1v1h-1zM59 247h1v1h-1zM62 247h1v1h-1zM65 247h1v1h-1zM68 247h1v1h-1zM71 247h1v1h-1zM74 247h1v1h-1zM77 247h1v1h-1zM80 247h1v1h-1zM84 247h1v1h-1zM87 247h1v1h-1zM90 247h1v1h-1zM93 247h1v1h-1zM97 247h1v1h-1zM99 247h1v1h-1zM102 247h1v1h-1zM29 248h5v1h-5zM35 248h1v1h-1zM38 248h4v1h-4zM48 248h2v1h-2zM52 248h2v1h-2zM56 248h4v1h-4zM62 248h1v1h-1zM65 248h1v1h-1zM68 248h4v1h-4zM74 248h1v1h-1zM77 248h4v1h-4zM84 248h1v1h-1zM87 248h1v1h-1zM90 248h4v1h-4zM97 248h1v1h-1zM100 248h2v1h-2zM104 248h1v1h-1z"/>
<path d="M27 485h1v1h-1zM81 485h1v1h-1zM94 485h2v1h-2zM130 485h1v1h-1zM137 485h1v1h-1zM154 485h1v1h-1zM184 485h1v1h-1zM222 485h1v1h-1zM234 485h1v1h-1zM256 485h1v1h-1zM315 485h1v1h-1zM318 485h1v1h-1zM335 485h1v1h-1zM363 485h2v1h-2zM366 485h1v1h-1zM374 485h1v1h-1zM27 486h1v1h-1zM44 486h1v1h-1zM94 486h1v1h-1zM117 486h1v1h-1zM130 486h1v1h-1zM137 486h1v1h-1zM221 486h1v1h-1zM230 486h1v1h-1zM234 486h1v1h-1zM253 486h1v1h-1zM256 486h1v1h-1zM283 486h1v1h-1zM315 486h1v1h-1zM318 486h1v1h-1zM336 486h1v1h-1zM363 486h1v1h-1zM374 486h1v1h-1zM27 487h1v1h-1zM30 487h4v1h-4zM40 487h2v1h-2zM43 487h3v1h-3zM48 487h2v1h-2zM51 487h4v1h-4zM57 487h4v1h-4zM64 487h7v1h-7zM73 487h2v1h-2zM81 487h1v1h-1zM84 487h4v1h-4zM93 487h3v1h-3zM97 487h4v1h-4zM103 487h2v1h-2zM107 487h4v1h-4zM113 487h2v1h-2zM116 487h3v1h-3zM121 487h4v1h-4zM127 487h4v1h-4zM137 487h4v1h-4zM143 487h4v1h-4zM149 487h2v1h-2zM154 487h1v1h-1zM157 487h4v1h-4zM163 487h2v1h-2zM174 487h7v1h-7zM184 487h1v1h-1zM187 487h4v1h-4zM193 487h4v1h-4zM200 487h4v1h-4zM205 487h1v1h-1zM208 487h1v1h-1zM211 487h1v1h-1zM213 487h2v1h-2zM221 487h1v1h-1zM224 487h4v1h-4zM229 487h3v1h-3zM234 487h4v1h-4zM240 487h4v1h-4zM246 487h2v1h-2zM252 487h3v1h-3zM256 487h4v1h-4zM263 487h4v1h-4zM269 487h4v1h-4zM279 487h2v1h-2zM282 487h3v1h-3zM286 487h4v1h-4zM293 487h4v1h-4zM299 487h4v1h-4zM305 487h2v1h-2zM309 487h4v1h-4zM315 487h1v1h-1zM318 487h1v1h-1zM322 487h4v1h-4zM328 487h2v1h-2zM331 487h2v1h-2zM336 487h1v1h-1zM346 487h2v1h-2zM350 487h1v1h-1zM353 487h1v1h-1zM356 487h4v1h-4zM362 487h3v1h-3zM366 487h1v1h-1zM369 487h2v1h-2zM374 487h4v1h-4zM27 488h1v1h-1zM30 488h1v1h-1zM33 488h1v1h-1zM39 488h1v1h-1zM44 488h1v1h-1zM48 488h1v1h-1zM51 488h1v1h-1zM54 488h1v1h-1zM60 488h1v1h-1zM64 488h1v1h-1zM67 488h1v1h-1zM70 488h1v1h-1zM72 488h1v1h-1zM81 488h1v1h-1zM84 488h1v1h-1zM87 488h1v1h-1zM94 488h1v1h-1zM97 488h1v1h-1zM100 488h1v1h-1zM103 488h1v1h-1zM107 488h1v1h-1zM110 488h1v1h-1zM112 488h1v1h-1zM117 488h1v1h-1zM121 488h1v1h-1zM124 488h1v1h-1zM127 488h1v1h-1zM130 488h1v1h-1zM137 488h1v1h-1zM140 488h1v1h-1zM146 488h1v1h-1zM148 488h1v1h-1zM154 488h1v1h-1zM157 488h1v1h-1zM160 488h1v1h-1zM162 488h1v1h-1zM174 488h1v1h-1zM177 488h1v1h-1zM180 488h1v1h-1zM184 488h1v1h-1zM187 488h1v1h-1zM190 488h1v1h-1zM193 488h1v1h-1zM196 488h1v1h-1zM200 488h1v1h-1zM203 488h1v1h-1zM205 488h1v1h-1zM208 488h1v1h-1zM211 488h2v1h-2zM221 488h1v1h-1zM224 488h1v1h-1zM227 488h1v1h-1zM230 488h1v1h-1zM234 488h1v1h-1zM237 488h1v1h-1zM240 488h1v1h-1zM243 488h1v1h-1zM246 488h1v1h-1zM253 488h1v1h-1zM256 488h1v1h-1zM259 488h1v1h-1zM266 488h1v1h-1zM269 488h1v1h-1zM272 488h1v1h-1zM278 488h1v1h-1zM283 488h1v1h-1zM286 488h1v1h-1zM289 488h1v1h-1zM293 488h1v1h-1zM296 488h1v1h-1zM299 488h1v1h-1zM302 488h1v1h-1zM305 488h1v1h-1zM309 488h1v1h-1zM312 488h1v1h-1zM315 488h1v1h-1zM318 488h1v1h-1zM322 488h1v1h-1zM325 488h1v1h-1zM328 488h1v1h-1zM330 488h1v1h-1zM336 488h1v1h-1zM345 488h1v1h-1zM350 488h1v1h-1zM353 488h1v1h-1zM356 488h1v1h-1zM359 488h1v1h-1zM363 488h1v1h-1zM366 488h1v1h-1zM368 488h1v1h-1zM374 488h1v1h-1zM377 488h1v1h-1zM27 489h1v1h-1zM30 489h1v1h-1zM33 489h1v1h-1zM40 489h1v1h-1zM44 489h1v1h-1zM48 489h1v1h-1zM50 489h6v1h-6zM57 489h4v1h-4zM64 489h1v1h-1zM67 489h1v1h-1zM70 489h1v1h-1zM73 489h1v1h-1zM81 489h1v1h-1zM84 489h1v1h-1zM87 489h1v1h-1zM94 489h1v1h-1zM96 489h1v1h-1zM101 489h1v1h-1zM103 489h1v1h-1zM106 489h6v1h-6zM113 489h1v1h-1zM117 489h1v1h-1zM120 489h7v1h-7zM130 489h1v1h-1zM137 489h1v1h-1zM141 489h1v1h-1zM143 489h4v1h-4zM149 489h1v1h-1zM154 489h1v1h-1zM157 489h1v1h-1zM160 489h1v1h-1zM163 489h1v1h-1zM174 489h1v1h-1zM177 489h1v1h-1zM180 489h1v1h-1zM184 489h1v1h-1zM187 489h1v1h-1zM190 489h1v1h-1zM193 489h1v1h-1zM196 489h1v1h-1zM199 489h1v1h-1zM204 489h2v1h-2zM207 489h1v1h-1zM209 489h1v1h-1zM211 489h1v1h-1zM213 489h1v1h-1zM221 489h1v1h-1zM223 489h1v1h-1zM228 489h1v1h-1zM230 489h1v1h-1zM234 489h1v1h-1zM237 489h1v1h-1zM239 489h6v1h-6zM246 489h1v1h-1zM253 489h1v1h-1zM256 489h1v1h-1zM259 489h1v1h-1zM263 489h4v1h-4zM269 489h1v1h-1zM272 489h1v1h-1zM279 489h1v1h-1zM283 489h1v1h-1zM285 489h1v1h-1zM290 489h1v1h-1zM293 489h1v1h-1zM296 489h1v1h-1zM298 489h6v1h-6zM305 489h1v1h-1zM308 489h1v1h-1zM313 489h1v1h-1zM315 489h1v1h-1zM318 489h1v1h-1zM321 489h6v1h-6zM328 489h1v1h-1zM331 489h1v1h-1zM336 489h1v1h-1zM346 489h1v1h-1zM350 489h1v1h-1zM353 489h1v1h-1zM356 489h1v1h-1zM359 489h1v1h-1zM363 489h1v1h-1zM366 489h1v1h-1zM369 489h1v1h-1zM374 489h1v1h-1zM377 489h1v1h-1zM27 490h1v1h-1zM30 490h1v1h-1zM33 490h1v1h-1zM41 490h2v1h-2zM44 490h1v1h-1zM48 490h1v1h-1zM50 490h1v1h-1zM57 490h1v1h-1zM60 490h1v1h-1zM64 490h1v1h-1zM67 490h1v1h-1zM70 490h1v1h-1zM74 490h2v1h-2zM81 490h1v1h-1zM84 490h1v1h-1zM87 490h1v1h-1zM94 490h1v1h-1zM96 490h1v1h-1zM101 490h1v1h-1zM103 490h1v1h-1zM106 490h1v1h-1zM114 490h2v1h-2zM117 490h1v1h-1zM120 490h1v1h-1zM126 490h1v1h-1zM130 490h1v1h-1zM137 490h1v1h-1zM141 490h1v1h-1zM143 490h1v1h-1zM146 490h1v1h-1zM150 490h2v1h-2zM154 490h1v1h-1zM157 490h1v1h-1zM160 490h1v1h-1zM164 490h2v1h-2zM174 490h1v1h-1zM177 490h1v1h-1zM180 490h1v1h-1zM184 490h1v1h-1zM187 490h1v1h-1zM190 490h1v1h-1zM193 490h1v1h-1zM196 490h1v1h-1zM199 490h1v1h-1zM204 490h1v1h-1zM206 490h2v1h-2zM209 490h2v1h-2zM214 490h2v1h-2zM221 490h1v1h-1zM223 490h1v1h-1zM228 490h1v1h-1zM230 490h1v1h-1zM234 490h1v1h-1zM237 490h1v1h-1zM239 490h1v1h-1zM246 490h1v1h-1zM253 490h1v1h-1zM256 490h1v1h-1zM259 490h1v1h-1zM263 490h1v1h-1zM266 490h1v1h-1zM269 490h1v1h-1zM272 490h1v1h-1zM280 490h2v1h-2zM283 490h1v1h-1zM285 490h1v1h-1zM290 490h1v1h-1zM293 490h1v1h-1zM296 490h1v1h-1zM298 490h1v1h-1zM305 490h1v1h-1zM308 490h1v1h-1zM313 490h1v1h-1zM315 490h1v1h-1zM318 490h1v1h-1zM321 490h1v1h-1zM328 490h1v1h-1zM332 490h2v1h-2zM336 490h1v1h-1zM347 490h2v1h-2zM350 490h1v1h-1zM353 490h1v1h-1zM356 490h1v1h-1zM359 490h1v1h-1zM363 490h1v1h-1zM366 490h1v1h-1zM370 490h2v1h-2zM374 490h1v1h-1zM377 490h1v1h-1zM27 491h1v1h-1zM30 491h1v1h-1zM33 491h1v1h-1zM39 491h1v1h-1zM42 491h1v1h-1zM44 491h1v1h-1zM48 491h1v1h-1zM51 491h1v1h-1zM54 491h1v1h-1zM56 491h1v1h-1zM60 491h1v1h-1zM64 491h1v1h-1zM67 491h1v1h-1zM70 491h1v1h-1zM72 491h1v1h-1zM75 491h1v1h-1zM81 491h1v1h-1zM84 491h1v1h-1zM87 491h1v1h-1zM94 491h1v1h-1zM97 491h1v1h-1zM100 491h1v1h-1zM103 491h1v1h-1zM107 491h1v1h-1zM110 491h1v1h-1zM112 491h1v1h-1zM115 491h1v1h-1zM117 491h1v1h-1zM121 491h1v1h-1zM124 491h1v1h-1zM127 491h1v1h-1zM130 491h1v1h-1zM137 491h1v1h-1zM140 491h1v1h-1zM142 491h1v1h-1zM146 491h1v1h-1zM148 491h1v1h-1zM151 491h1v1h-1zM154 491h1v1h-1zM157 491h1v1h-1zM160 491h1v1h-1zM162 491h1v1h-1zM165 491h1v1h-1zM174 491h1v1h-1zM177 491h1v1h-1zM180 491h1v1h-1zM184 491h1v1h-1zM187 491h1v1h-1zM190 491h1v1h-1zM193 491h1v1h-1zM196 491h1v1h-1zM200 491h1v1h-1zM203 491h1v1h-1zM206 491h2v1h-2zM209 491h2v1h-2zM212 491h1v1h-1zM215 491h1v1h-1zM221 491h1v1h-1zM224 491h1v1h-1zM227 491h1v1h-1zM230 491h1v1h-1zM234 491h1v1h-1zM237 491h1v1h-1zM240 491h1v1h-1zM243 491h1v1h-1zM246 491h1v1h-1zM253 491h1v1h-1zM256 491h1v1h-1zM259 491h1v1h-1zM262 491h1v1h-1zM266 491h1v1h-1zM269 491h1v1h-1zM272 491h1v1h-1zM278 491h1v1h-1zM281 491h1v1h-1zM283 491h1v1h-1zM286 491h1v1h-1zM289 491h1v1h-1zM293 491h1v1h-1zM296 491h1v1h-1zM299 491h1v1h-1zM302 491h1v1h-1zM305 491h1v1h-1zM309 491h1v1h-1zM312 491h1v1h-1zM315 491h1v1h-1zM318 491h1v1h-1zM322 491h1v1h-1zM325 491h1v1h-1zM328 491h1v1h-1zM330 491h1v1h-1zM333 491h1v1h-1zM336 491h1v1h-1zM345 491h1v1h-1zM348 491h1v1h-1zM350 491h1v1h-1zM353 491h1v1h-1zM356 491h1v1h-1zM359 491h1v1h-1zM363 491h1v1h-1zM366 491h1v1h-1zM368 491h1v1h-1zM371 491h1v1h-1zM374 491h1v1h-1zM377 491h1v1h-1zM27 492h1v1h-1zM30 492h1v1h-1zM33 492h1v1h-1zM40 492h2v1h-2zM44 492h2v1h-2zM48 492h1v1h-1zM51 492h4v1h-4zM57 492h5v1h-5zM64 492h1v1h-1zM67 492h1v1h-1zM70 492h1v1h-1zM73 492h2v1h-2zM81 492h1v1h-1zM84 492h1v1h-1zM87 492h1v1h-1zM94 492h1v1h-1zM97 492h4v1h-4zM103 492h1v1h-1zM107 492h4v1h-4zM113 492h2v1h-2zM117 492h2v1h-2zM121 492h4v1h-4zM127 492h4v1h-4zM137 492h4v1h-4zM143 492h5v1h-5zM149 492h2v1h-2zM154 492h1v1h-1zM157 492h1v1h-1zM160 492h1v1h-1zM163 492h2v1h-2zM168 492h1v1h-1zM174 492h1v1h-1zM177 492h1v1h-1zM180 492h1v1h-1zM184 492h1v1h-1zM187 492h1v1h-1zM190 492h1v1h-1zM193 492h1v1h-1zM196 492h1v1h-1zM200 492h4v1h-4zM206 492h2v1h-2zM209 492h2v1h-2zM213 492h2v1h-2zM221 492h1v1h-1zM224 492h4v1h-4zM230 492h2v1h-2zM234 492h1v1h-1zM237 492h1v1h-1zM240 492h4v1h-4zM246 492h1v1h-1zM253 492h2v1h-2zM256 492h1v1h-1zM259 492h1v1h-1zM263 492h5v1h-5zM269 492h1v1h-1zM272 492h1v1h-1zM279 492h2v1h-2zM283 492h2v1h-2zM286 492h4v1h-4zM293 492h1v1h-1zM296 492h1v1h-1zM299 492h4v1h-4zM305 492h1v1h-1zM309 492h4v1h-4zM315 492h1v1h-1zM318 492h1v1h-1zM322 492h4v1h-4zM328 492h1v1h-1zM331 492h2v1h-2zM336 492h1v1h-1zM339 492h1v1h-1zM346 492h2v1h-2zM350 492h4v1h-4zM356 492h1v1h-1zM359 492h1v1h-1zM363 492h1v1h-1zM366 492h1v1h-1zM369 492h2v1h-2zM374 492h1v1h-1zM377 492h1v1h-1zM380 492h1v1h-1zM168 493h1v1h-1zM221 493h1v1h-1zM336 493h1v1h-1zM339 493h1v1h-1zM380 493h1v1h-1zM168 494h1v1h-1zM222 494h1v1h-1zM335 494h1v1h-1zM339 494h1v1h-1zM380 494h1v1h-1z"/>
<path d="M43 496h1v1h-1zM53 496h1v1h-1zM113 496h1v1h-1zM208 496h2v1h-2zM218 496h1v1h-1zM233 496h2v1h-2zM236 496h1v1h-1zM243 496h1v1h-1zM296 496h1v1h-1zM313 496h1v1h-1zM335 496h1v1h-1zM43 497h1v1h-1zM53 497h1v1h-1zM65 497h1v1h-1zM113 497h1v1h-1zM177 497h1v1h-1zM208 497h1v1h-1zM214 497h1v1h-1zM218 497h1v1h-1zM233 497h1v1h-1zM243 497h1v1h-1zM299 497h1v1h-1zM310 497h1v1h-1zM313 497h1v1h-1zM28 498h4v1h-4zM34 498h4v1h-4zM40 498h4v1h-4zM50 498h4v1h-4zM56 498h4v1h-4zM62 498h5v1h-5zM68 498h4v1h-4zM74 498h2v1h-2zM77 498h2v1h-2zM85 498h4v1h-4zM91 498h2v1h-2zM94 498h4v1h-4zM103 498h4v1h-4zM113 498h1v1h-1zM116 498h4v1h-4zM122 498h2v1h-2zM125 498h4v1h-4zM131 498h4v1h-4zM137 498h2v1h-2zM144 498h4v1h-4zM150 498h4v1h-4zM156 498h2v1h-2zM159 498h4v1h-4zM165 498h4v1h-4zM171 498h4v1h-4zM176 498h3v1h-3zM180 498h4v1h-4zM187 498h4v1h-4zM193 498h4v1h-4zM202 498h4v1h-4zM207 498h3v1h-3zM213 498h3v1h-3zM218 498h4v1h-4zM224 498h4v1h-4zM232 498h3v1h-3zM236 498h1v1h-1zM239 498h2v1h-2zM243 498h4v1h-4zM253 498h4v1h-4zM259 498h4v1h-4zM265 498h7v1h-7zM274 498h7v1h-7zM283 498h1v1h-1zM286 498h1v1h-1zM289 498h4v1h-4zM296 498h1v1h-1zM298 498h4v1h-4zM305 498h1v1h-1zM309 498h3v1h-3zM313 498h4v1h-4zM319 498h4v1h-4zM326 498h4v1h-4zM335 498h1v1h-1zM338 498h4v1h-4zM31 499h1v1h-1zM34 499h1v1h-1zM37 499h1v1h-1zM40 499h1v1h-1zM43 499h1v1h-1zM50 499h1v1h-1zM53 499h1v1h-1zM59 499h1v1h-1zM62 499h1v1h-1zM65 499h1v1h-1zM68 499h1v1h-1zM71 499h1v1h-1zM74 499h1v1h-1zM76 499h1v1h-1zM88 499h1v1h-1zM91 499h1v1h-1zM94 499h1v1h-1zM97 499h1v1h-1zM106 499h1v1h-1zM113 499h1v1h-1zM119 499h1v1h-1zM122 499h1v1h-1zM125 499h1v1h-1zM128 499h1v1h-1zM131 499h1v1h-1zM134 499h1v1h-1zM137 499h1v1h-1zM144 499h1v1h-1zM147 499h1v1h-1zM150 499h1v1h-1zM153 499h1v1h-1zM156 499h1v1h-1zM159 499h1v1h-1zM163 499h1v1h-1zM165 499h1v1h-1zM168 499h1v1h-1zM171 499h1v1h-1zM174 499h1v1h-1zM177 499h1v1h-1zM183 499h1v1h-1zM187 499h1v1h-1zM190 499h1v1h-1zM193 499h1v1h-1zM196 499h1v1h-1zM202 499h1v1h-1zM205 499h1v1h-1zM208 499h1v1h-1zM214 499h1v1h-1zM218 499h1v1h-1zM221 499h1v1h-1zM224 499h1v1h-1zM227 499h1v1h-1zM233 499h1v1h-1zM236 499h1v1h-1zM238 499h1v1h-1zM243 499h1v1h-1zM246 499h1v1h-1zM253 499h1v1h-1zM257 499h1v1h-1zM259 499h1v1h-1zM262 499h1v1h-1zM265 499h1v1h-1zM268 499h1v1h-1zM271 499h1v1h-1zM274 499h1v1h-1zM277 499h1v1h-1zM280 499h1v1h-1zM283 499h1v1h-1zM286 499h1v1h-1zM289 499h1v1h-1zM292 499h1v1h-1zM296 499h1v1h-1zM299 499h1v1h-1zM302 499h1v1h-1zM305 499h1v1h-1zM310 499h1v1h-1zM313 499h1v1h-1zM316 499h1v1h-1zM322 499h1v1h-1zM326 499h1v1h-1zM329 499h1v1h-1zM335 499h1v1h-1zM338 499h1v1h-1zM341 499h1v1h-1zM28 500h4v1h-4zM34 500h1v1h-1zM37 500h1v1h-1zM39 500h1v1h-1zM43 500h1v1h-1zM49 500h1v1h-1zM53 500h1v1h-1zM56 500h4v1h-4zM62 500h1v1h-1zM65 500h1v1h-1zM67 500h6v1h-6zM74 500h1v1h-1zM77 500h1v1h-1zM85 500h4v1h-4zM91 500h1v1h-1zM93 500h6v1h-6zM103 500h4v1h-4zM113 500h1v1h-1zM116 500h4v1h-4zM122 500h1v1h-1zM124 500h1v1h-1zM128 500h1v1h-1zM130 500h6v1h-6zM137 500h1v1h-1zM144 500h1v1h-1zM148 500h7v1h-7zM156 500h1v1h-1zM158 500h1v1h-1zM164 500h6v1h-6zM171 500h1v1h-1zM174 500h1v1h-1zM177 500h1v1h-1zM180 500h4v1h-4zM186 500h1v1h-1zM190 500h1v1h-1zM192 500h6v1h-6zM201 500h1v1h-1zM206 500h1v1h-1zM208 500h1v1h-1zM214 500h1v1h-1zM218 500h1v1h-1zM221 500h1v1h-1zM223 500h6v1h-6zM233 500h1v1h-1zM236 500h1v1h-1zM239 500h1v1h-1zM243 500h1v1h-1zM246 500h1v1h-1zM252 500h1v1h-1zM258 500h1v1h-1zM263 500h1v1h-1zM265 500h1v1h-1zM268 500h1v1h-1zM271 500h1v1h-1zM274 500h1v1h-1zM277 500h1v1h-1zM280 500h1v1h-1zM283 500h1v1h-1zM286 500h1v1h-1zM289 500h1v1h-1zM292 500h1v1h-1zM296 500h1v1h-1zM299 500h1v1h-1zM302 500h1v1h-1zM304 500h1v1h-1zM310 500h1v1h-1zM313 500h1v1h-1zM316 500h1v1h-1zM319 500h4v1h-4zM326 500h1v1h-1zM329 500h1v1h-1zM335 500h1v1h-1zM338 500h1v1h-1zM341 500h1v1h-1zM28 501h1v1h-1zM31 501h1v1h-1zM34 501h1v1h-1zM37 501h1v1h-1zM39 501h1v1h-1zM43 501h1v1h-1zM49 501h1v1h-1zM53 501h1v1h-1zM56 501h1v1h-1zM59 501h1v1h-1zM62 501h1v1h-1zM65 501h1v1h-1zM67 501h1v1h-1zM74 501h1v1h-1zM78 501h2v1h-2zM85 501h1v1h-1zM88 501h1v1h-1zM91 501h1v1h-1zM93 501h1v1h-1zM103 501h1v1h-1zM106 501h1v1h-1zM113 501h1v1h-1zM116 501h1v1h-1zM119 501h1v1h-1zM122 501h1v1h-1zM124 501h1v1h-1zM128 501h1v1h-1zM130 501h1v1h-1zM137 501h1v1h-1zM144 501h1v1h-1zM148 501h2v1h-2zM156 501h1v1h-1zM158 501h1v1h-1zM164 501h1v1h-1zM171 501h1v1h-1zM174 501h1v1h-1zM177 501h1v1h-1zM180 501h1v1h-1zM183 501h1v1h-1zM186 501h1v1h-1zM190 501h1v1h-1zM192 501h1v1h-1zM201 501h1v1h-1zM206 501h1v1h-1zM208 501h1v1h-1zM214 501h1v1h-1zM218 501h1v1h-1zM221 501h1v1h-1zM223 501h1v1h-1zM233 501h1v1h-1zM236 501h1v1h-1zM240 501h2v1h-2zM243 501h1v1h-1zM246 501h1v1h-1zM252 501h1v1h-1zM258 501h1v1h-1zM263 501h1v1h-1zM265 501h1v1h-1zM268 501h1v1h-1zM271 501h1v1h-1zM274 501h1v1h-1zM277 501h1v1h-1zM280 501h1v1h-1zM283 501h1v1h-1zM286 501h1v1h-1zM289 501h1v1h-1zM292 501h1v1h-1zM296 501h1v1h-1zM299 501h1v1h-1zM302 501h1v1h-1zM304 501h1v1h-1zM310 501h1v1h-1zM313 501h1v1h-1zM316 501h1v1h-1zM319 501h1v1h-1zM322 501h1v1h-1zM326 501h1v1h-1zM329 501h1v1h-1zM335 501h1v1h-1zM338 501h1v1h-1zM341 501h1v1h-1zM27 502h1v1h-1zM31 502h1v1h-1zM34 502h1v1h-1zM37 502h1v1h-1zM40 502h1v1h-1zM43 502h1v1h-1zM50 502h1v1h-1zM53 502h1v1h-1zM55 502h1v1h-1zM59 502h1v1h-1zM62 502h1v1h-1zM65 502h1v1h-1zM68 502h1v1h-1zM71 502h1v1h-1zM74 502h1v1h-1zM76 502h1v1h-1zM79 502h1v1h-1zM84 502h1v1h-1zM88 502h1v1h-1zM91 502h1v1h-1zM94 502h1v1h-1zM97 502h1v1h-1zM102 502h1v1h-1zM106 502h1v1h-1zM113 502h1v1h-1zM115 502h1v1h-1zM119 502h1v1h-1zM122 502h1v1h-1zM125 502h1v1h-1zM128 502h1v1h-1zM131 502h1v1h-1zM134 502h1v1h-1zM137 502h1v1h-1zM144 502h1v1h-1zM147 502h1v1h-1zM150 502h1v1h-1zM153 502h1v1h-1zM156 502h1v1h-1zM159 502h1v1h-1zM163 502h1v1h-1zM165 502h1v1h-1zM168 502h1v1h-1zM171 502h1v1h-1zM174 502h1v1h-1zM177 502h1v1h-1zM179 502h1v1h-1zM183 502h1v1h-1zM187 502h1v1h-1zM190 502h1v1h-1zM193 502h1v1h-1zM196 502h1v1h-1zM202 502h1v1h-1zM205 502h1v1h-1zM208 502h1v1h-1zM214 502h1v1h-1zM218 502h1v1h-1zM221 502h1v1h-1zM224 502h1v1h-1zM227 502h1v1h-1zM233 502h1v1h-1zM236 502h1v1h-1zM238 502h1v1h-1zM241 502h1v1h-1zM243 502h1v1h-1zM246 502h1v1h-1zM253 502h1v1h-1zM257 502h1v1h-1zM259 502h1v1h-1zM262 502h1v1h-1zM265 502h1v1h-1zM268 502h1v1h-1zM271 502h1v1h-1zM274 502h1v1h-1zM277 502h1v1h-1zM280 502h1v1h-1zM283 502h1v1h-1zM286 502h1v1h-1zM289 502h1v1h-1zM292 502h1v1h-1zM296 502h1v1h-1zM299 502h1v1h-1zM303 502h1v1h-1zM310 502h1v1h-1zM313 502h1v1h-1zM316 502h1v1h-1zM318 502h1v1h-1zM322 502h1v1h-1zM326 502h1v1h-1zM329 502h1v1h-1zM335 502h1v1h-1zM338 502h1v1h-1zM341 502h1v1h-1zM28 503h5v1h-5zM34 503h1v1h-1zM37 503h1v1h-1zM40 503h4v1h-4zM50 503h4v1h-4zM56 503h5v1h-5zM62 503h1v1h-1zM65 503h2v1h-2zM68 503h4v1h-4zM74 503h1v1h-1zM77 503h2v1h-2zM85 503h5v1h-5zM91 503h1v1h-1zM94 503h4v1h-4zM103 503h5v1h-5zM113 503h1v1h-1zM116 503h5v1h-5zM122 503h1v1h-1zM125 503h4v1h-4zM131 503h4v1h-4zM137 503h1v1h-1zM144 503h4v1h-4zM150 503h4v1h-4zM156 503h1v1h-1zM159 503h4v1h-4zM165 503h4v1h-4zM171 503h1v1h-1zM174 503h1v1h-1zM177 503h2v1h-2zM180 503h5v1h-5zM187 503h4v1h-4zM193 503h4v1h-4zM202 503h4v1h-4zM208 503h1v1h-1zM214 503h2v1h-2zM218 503h1v1h-1zM221 503h1v1h-1zM224 503h4v1h-4zM233 503h1v1h-1zM236 503h1v1h-1zM239 503h2v1h-2zM243 503h1v1h-1zM246 503h1v1h-1zM253 503h4v1h-4zM259 503h4v1h-4zM265 503h1v1h-1zM268 503h1v1h-1zM271 503h1v1h-1zM274 503h1v1h-1zM277 503h1v1h-1zM280 503h1v1h-1zM283 503h4v1h-4zM289 503h1v1h-1zM292 503h1v1h-1zM296 503h1v1h-1zM299 503h2v1h-2zM303 503h1v1h-1zM310 503h2v1h-2zM313 503h1v1h-1zM316 503h1v1h-1zM319 503h5v1h-5zM326 503h1v1h-1zM329 503h1v1h-1zM335 503h1v1h-1zM338 503h1v1h-1zM341 503h1v1h-1zM128 504h1v1h-1zM144 504h1v1h-1zM190 504h1v1h-1zM303 504h1v1h-1zM125 505h4v1h-4zM144 505h1v1h-1zM187 505h4v1h-4zM301 505h2v1h-2z"/>
<path d="M43 507h1v1h-1zM59 507h1v1h-1zM81 507h1v1h-1zM87 507h1v1h-1zM103 507h1v1h-1zM124 507h4v1h-4zM159 507h1v1h-1zM162 507h1v1h-1zM178 507h2v1h-2zM183 507h4v1h-4zM205 507h4v1h-4zM211 507h4v1h-4zM267 507h2v1h-2zM276 507h1v1h-1zM292 507h2v1h-2zM295 507h1v1h-1zM302 507h1v1h-1zM365 507h1v1h-1zM368 507h1v1h-1zM59 508h1v1h-1zM62 508h1v1h-1zM81 508h1v1h-1zM87 508h1v1h-1zM123 508h1v1h-1zM128 508h1v1h-1zM159 508h1v1h-1zM162 508h1v1h-1zM177 508h1v1h-1zM179 508h1v1h-1zM183 508h1v1h-1zM186 508h1v1h-1zM192 508h1v1h-1zM205 508h1v1h-1zM208 508h1v1h-1zM211 508h1v1h-1zM214 508h1v1h-1zM254 508h1v1h-1zM267 508h1v1h-1zM273 508h1v1h-1zM276 508h1v1h-1zM292 508h1v1h-1zM302 508h1v1h-1zM334 508h1v1h-1zM365 508h1v1h-1zM368 508h1v1h-1zM28 509h4v1h-4zM34 509h4v1h-4zM40 509h2v1h-2zM43 509h1v1h-1zM47 509h4v1h-4zM53 509h1v1h-1zM56 509h1v1h-1zM59 509h1v1h-1zM61 509h3v1h-3zM65 509h1v1h-1zM68 509h1v1h-1zM71 509h2v1h-2zM75 509h4v1h-4zM81 509h1v1h-1zM87 509h4v1h-4zM93 509h4v1h-4zM99 509h2v1h-2zM103 509h1v1h-1zM107 509h4v1h-4zM113 509h2v1h-2zM123 509h1v1h-1zM131 509h4v1h-4zM138 509h4v1h-4zM144 509h4v1h-4zM150 509h2v1h-2zM153 509h4v1h-4zM159 509h1v1h-1zM162 509h1v1h-1zM165 509h1v1h-1zM169 509h1v1h-1zM179 509h1v1h-1zM182 509h1v1h-1zM187 509h1v1h-1zM191 509h3v1h-3zM196 509h4v1h-4zM208 509h1v1h-1zM210 509h1v1h-1zM215 509h1v1h-1zM220 509h4v1h-4zM227 509h4v1h-4zM233 509h2v1h-2zM236 509h4v1h-4zM242 509h4v1h-4zM248 509h4v1h-4zM253 509h3v1h-3zM261 509h4v1h-4zM266 509h3v1h-3zM272 509h3v1h-3zM276 509h4v1h-4zM282 509h4v1h-4zM291 509h3v1h-3zM295 509h1v1h-1zM298 509h2v1h-2zM302 509h4v1h-4zM312 509h4v1h-4zM318 509h2v1h-2zM321 509h4v1h-4zM330 509h2v1h-2zM333 509h3v1h-3zM337 509h4v1h-4zM344 509h4v1h-4zM350 509h4v1h-4zM356 509h2v1h-2zM359 509h4v1h-4zM365 509h1v1h-1zM368 509h1v1h-1zM372 509h4v1h-4zM378 509h2v1h-2zM381 509h2v1h-2zM31 510h1v1h-1zM34 510h1v1h-1zM37 510h1v1h-1zM40 510h1v1h-1zM43 510h1v1h-1zM47 510h1v1h-1zM51 510h1v1h-1zM53 510h1v1h-1zM56 510h1v1h-1zM59 510h1v1h-1zM62 510h1v1h-1zM65 510h1v1h-1zM68 510h1v1h-1zM71 510h1v1h-1zM78 510h1v1h-1zM81 510h1v1h-1zM87 510h1v1h-1zM90 510h1v1h-1zM96 510h1v1h-1zM98 510h1v1h-1zM103 510h1v1h-1zM107 510h1v1h-1zM110 510h1v1h-1zM112 510h1v1h-1zM123 510h1v1h-1zM131 510h1v1h-1zM134 510h1v1h-1zM138 510h1v1h-1zM141 510h1v1h-1zM144 510h1v1h-1zM147 510h1v1h-1zM150 510h1v1h-1zM156 510h1v1h-1zM159 510h1v1h-1zM162 510h1v1h-1zM166 510h1v1h-1zM169 510h1v1h-1zM179 510h1v1h-1zM182 510h1v1h-1zM187 510h1v1h-1zM192 510h1v1h-1zM196 510h1v1h-1zM199 510h1v1h-1zM208 510h1v1h-1zM210 510h1v1h-1zM215 510h1v1h-1zM220 510h1v1h-1zM223 510h1v1h-1zM227 510h1v1h-1zM230 510h1v1h-1zM233 510h1v1h-1zM236 510h1v1h-1zM240 510h1v1h-1zM242 510h1v1h-1zM245 510h1v1h-1zM248 510h1v1h-1zM251 510h1v1h-1zM254 510h1v1h-1zM261 510h1v1h-1zM264 510h1v1h-1zM267 510h1v1h-1zM273 510h1v1h-1zM276 510h1v1h-1zM279 510h1v1h-1zM282 510h1v1h-1zM285 510h1v1h-1zM292 510h1v1h-1zM295 510h1v1h-1zM297 510h1v1h-1zM302 510h1v1h-1zM305 510h1v1h-1zM315 510h1v1h-1zM318 510h1v1h-1zM321 510h1v1h-1zM324 510h1v1h-1zM329 510h1v1h-1zM334 510h1v1h-1zM337 510h1v1h-1zM340 510h1v1h-1zM344 510h1v1h-1zM347 510h1v1h-1zM350 510h1v1h-1zM353 510h1v1h-1zM356 510h1v1h-1zM359 510h1v1h-1zM362 510h1v1h-1zM365 510h1v1h-1zM368 510h1v1h-1zM372 510h1v1h-1zM375 510h1v1h-1zM378 510h1v1h-1zM380 510h1v1h-1zM28 511h4v1h-4zM33 511h1v1h-1zM37 511h1v1h-1zM40 511h1v1h-1zM43 511h1v1h-1zM46 511h1v1h-1zM53 511h1v1h-1zM56 511h1v1h-1zM59 511h1v1h-1zM62 511h1v1h-1zM65 511h1v1h-1zM68 511h1v1h-1zM71 511h1v1h-1zM75 511h4v1h-4zM81 511h1v1h-1zM87 511h1v1h-1zM91 511h1v1h-1zM93 511h4v1h-4zM99 511h1v1h-1zM103 511h1v1h-1zM107 511h1v1h-1zM110 511h1v1h-1zM113 511h1v1h-1zM123 511h1v1h-1zM126 511h3v1h-3zM130 511h6v1h-6zM138 511h1v1h-1zM141 511h1v1h-1zM143 511h6v1h-6zM150 511h1v1h-1zM153 511h4v1h-4zM159 511h1v1h-1zM162 511h1v1h-1zM166 511h1v1h-1zM168 511h1v1h-1zM179 511h1v1h-1zM182 511h1v1h-1zM187 511h1v1h-1zM192 511h1v1h-1zM195 511h1v1h-1zM200 511h1v1h-1zM207 511h1v1h-1zM210 511h1v1h-1zM215 511h1v1h-1zM220 511h1v1h-1zM224 511h1v1h-1zM226 511h6v1h-6zM233 511h1v1h-1zM235 511h1v1h-1zM241 511h6v1h-6zM248 511h1v1h-1zM251 511h1v1h-1zM254 511h1v1h-1zM260 511h1v1h-1zM265 511h1v1h-1zM267 511h1v1h-1zM273 511h1v1h-1zM276 511h1v1h-1zM279 511h1v1h-1zM281 511h6v1h-6zM292 511h1v1h-1zM295 511h1v1h-1zM298 511h1v1h-1zM302 511h1v1h-1zM305 511h1v1h-1zM312 511h4v1h-4zM318 511h1v1h-1zM320 511h6v1h-6zM330 511h1v1h-1zM334 511h1v1h-1zM336 511h1v1h-1zM341 511h1v1h-1zM344 511h1v1h-1zM347 511h1v1h-1zM349 511h6v1h-6zM356 511h1v1h-1zM358 511h1v1h-1zM363 511h1v1h-1zM365 511h1v1h-1zM368 511h1v1h-1zM371 511h6v1h-6zM378 511h1v1h-1zM381 511h1v1h-1zM28 512h1v1h-1zM31 512h1v1h-1zM33 512h1v1h-1zM37 512h1v1h-1zM40 512h1v1h-1zM43 512h1v1h-1zM46 512h1v1h-1zM53 512h1v1h-1zM56 512h1v1h-1zM59 512h1v1h-1zM62 512h1v1h-1zM65 512h1v1h-1zM68 512h1v1h-1zM71 512h1v1h-1zM75 512h1v1h-1zM78 512h1v1h-1zM81 512h1v1h-1zM87 512h1v1h-1zM91 512h1v1h-1zM93 512h1v1h-1zM96 512h1v1h-1zM100 512h2v1h-2zM103 512h1v1h-1zM107 512h1v1h-1zM110 512h1v1h-1zM114 512h2v1h-2zM123 512h1v1h-1zM128 512h1v1h-1zM130 512h1v1h-1zM138 512h1v1h-1zM141 512h1v1h-1zM143 512h1v1h-1zM150 512h1v1h-1zM153 512h1v1h-1zM156 512h1v1h-1zM159 512h1v1h-1zM162 512h1v1h-1zM166 512h1v1h-1zM168 512h1v1h-1zM179 512h1v1h-1zM182 512h1v1h-1zM186 512h1v1h-1zM192 512h1v1h-1zM195 512h1v1h-1zM200 512h1v1h-1zM206 512h1v1h-1zM210 512h1v1h-1zM214 512h1v1h-1zM220 512h1v1h-1zM224 512h1v1h-1zM226 512h1v1h-1zM233 512h1v1h-1zM235 512h1v1h-1zM241 512h1v1h-1zM248 512h1v1h-1zM251 512h1v1h-1zM254 512h1v1h-1zM260 512h1v1h-1zM265 512h1v1h-1zM267 512h1v1h-1zM273 512h1v1h-1zM276 512h1v1h-1zM279 512h1v1h-1zM281 512h1v1h-1zM292 512h1v1h-1zM295 512h1v1h-1zM299 512h2v1h-2zM302 512h1v1h-1zM305 512h1v1h-1zM312 512h1v1h-1zM315 512h1v1h-1zM318 512h1v1h-1zM320 512h1v1h-1zM331 512h2v1h-2zM334 512h1v1h-1zM336 512h1v1h-1zM341 512h1v1h-1zM344 512h1v1h-1zM347 512h1v1h-1zM349 512h1v1h-1zM356 512h1v1h-1zM358 512h1v1h-1zM363 512h1v1h-1zM365 512h1v1h-1zM368 512h1v1h-1zM371 512h1v1h-1zM378 512h1v1h-1zM382 512h2v1h-2zM27 513h1v1h-1zM31 513h1v1h-1zM34 513h1v1h-1zM37 513h1v1h-1zM40 513h1v1h-1zM43 513h1v1h-1zM47 513h1v1h-1zM51 513h1v1h-1zM53 513h1v1h-1zM56 513h1v1h-1zM59 513h1v1h-1zM62 513h1v1h-1zM65 513h1v1h-1zM68 513h1v1h-1zM71 513h1v1h-1zM74 513h1v1h-1zM78 513h1v1h-1zM81 513h1v1h-1zM87 513h1v1h-1zM90 513h1v1h-1zM92 513h1v1h-1zM96 513h1v1h-1zM98 513h1v1h-1zM101 513h1v1h-1zM103 513h1v1h-1zM107 513h1v1h-1zM110 513h1v1h-1zM112 513h1v1h-1zM115 513h1v1h-1zM123 513h1v1h-1zM128 513h1v1h-1zM131 513h1v1h-1zM134 513h1v1h-1zM138 513h1v1h-1zM141 513h1v1h-1zM144 513h1v1h-1zM147 513h1v1h-1zM150 513h1v1h-1zM152 513h1v1h-1zM156 513h1v1h-1zM159 513h1v1h-1zM162 513h1v1h-1zM167 513h1v1h-1zM179 513h1v1h-1zM183 513h1v1h-1zM186 513h1v1h-1zM192 513h1v1h-1zM196 513h1v1h-1zM199 513h1v1h-1zM205 513h1v1h-1zM211 513h1v1h-1zM214 513h1v1h-1zM220 513h1v1h-1zM223 513h1v1h-1zM227 513h1v1h-1zM230 513h1v1h-1zM233 513h1v1h-1zM236 513h1v1h-1zM240 513h1v1h-1zM242 513h1v1h-1zM245 513h1v1h-1zM248 513h1v1h-1zM251 513h1v1h-1zM254 513h1v1h-1zM261 513h1v1h-1zM264 513h1v1h-1zM267 513h1v1h-1zM273 513h1v1h-1zM276 513h1v1h-1zM279 513h1v1h-1zM282 513h1v1h-1zM285 513h1v1h-1zM292 513h1v1h-1zM295 513h1v1h-1zM297 513h1v1h-1zM300 513h1v1h-1zM302 513h1v1h-1zM305 513h1v1h-1zM311 513h1v1h-1zM315 513h1v1h-1zM318 513h1v1h-1zM321 513h1v1h-1zM324 513h1v1h-1zM329 513h1v1h-1zM332 513h1v1h-1zM334 513h1v1h-1zM337 513h1v1h-1zM340 513h1v1h-1zM344 513h1v1h-1zM347 513h1v1h-1zM350 513h1v1h-1zM353 513h1v1h-1zM356 513h1v1h-1zM359 513h1v1h-1zM362 513h1v1h-1zM365 513h1v1h-1zM368 513h1v1h-1zM372 513h1v1h-1zM375 513h1v1h-1zM378 513h1v1h-1zM380 513h1v1h-1zM383 513h1v1h-1zM28 514h5v1h-5zM34 514h4v1h-4zM40 514h1v1h-1zM43 514h1v1h-1zM47 514h4v1h-4zM53 514h4v1h-4zM59 514h1v1h-1zM62 514h2v1h-2zM65 514h4v1h-4zM71 514h1v1h-1zM75 514h5v1h-5zM81 514h1v1h-1zM87 514h4v1h-4zM93 514h5v1h-5zM99 514h2v1h-2zM103 514h1v1h-1zM107 514h1v1h-1zM110 514h1v1h-1zM113 514h2v1h-2zM117 514h1v1h-1zM124 514h4v1h-4zM131 514h4v1h-4zM138 514h1v1h-1zM141 514h1v1h-1zM144 514h4v1h-4zM150 514h1v1h-1zM153 514h5v1h-5zM159 514h1v1h-1zM162 514h1v1h-1zM167 514h1v1h-1zM171 514h1v1h-1zM177 514h4v1h-4zM184 514h2v1h-2zM192 514h2v1h-2zM196 514h4v1h-4zM205 514h4v1h-4zM212 514h2v1h-2zM220 514h4v1h-4zM227 514h4v1h-4zM233 514h1v1h-1zM236 514h4v1h-4zM242 514h4v1h-4zM248 514h1v1h-1zM251 514h1v1h-1zM254 514h2v1h-2zM261 514h4v1h-4zM267 514h1v1h-1zM273 514h2v1h-2zM276 514h1v1h-1zM279 514h1v1h-1zM282 514h4v1h-4zM292 514h1v1h-1zM295 514h1v1h-1zM298 514h2v1h-2zM302 514h1v1h-1zM305 514h1v1h-1zM312 514h5v1h-5zM318 514h1v1h-1zM321 514h4v1h-4zM330 514h2v1h-2zM334 514h2v1h-2zM337 514h4v1h-4zM344 514h1v1h-1zM347 514h1v1h-1zM350 514h4v1h-4zM356 514h1v1h-1zM359 514h4v1h-4zM365 514h1v1h-1zM368 514h1v1h-1zM372 514h4v1h-4zM378 514h1v1h-1zM381 514h2v1h-2zM385 514h1v1h-1zM37 515h1v1h-1zM167 515h1v1h-1zM171 515h1v1h-1zM220 515h1v1h-1zM34 516h4v1h-4zM165 516h2v1h-2zM171 516h1v1h-1zM220 516h1v1h-1z"/>
<path d="M6 276h1v1h-1zM0 277h1v1h-1zM3 277h1v1h-1zM6 277h1v1h-1zM0 278h1v1h-1zM3 278h1v1h-1zM6 278h1v1h-1zM0 279h1v1h-1zM3 279h1v1h-1zM6 279h1v1h-1zM0 280h1v1h-1zM3 280h1v1h-1zM6 280h1v1h-1zM0 281h7v1h-7zM0 282h1v1h-1zM0 283h4v1h-4zM3 284h3v1h-3zM6 285h1v1h-1zM3 286h3v1h-3zM0 287h4v1h-4zM0 288h1v1h-1zM0 289h7v1h-7zM0 291h1v1h-1zM0 292h1v1h-1zM0 293h7v1h-7zM0 294h1v1h-1zM0 295h1v1h-1zM6 295h1v1h-1zM3 296h4v1h-4zM0 297h5v1h-5zM0 298h1v1h-1zM4 298h1v1h-1zM0 299h5v1h-5zM3 300h4v1h-4zM6 301h1v1h-1zM6 302h1v1h-1zM6 303h1v1h-1zM6 304h1v1h-1zM0 305h7v1h-7zM6 307h1v1h-1zM0 308h1v1h-1zM3 308h1v1h-1zM6 308h1v1h-1zM0 309h1v1h-1zM3 309h1v1h-1zM6 309h1v1h-1zM0 310h1v1h-1zM3 310h1v1h-1zM6 310h1v1h-1zM0 311h1v1h-1zM3 311h1v1h-1zM6 311h1v1h-1zM0 312h7v1h-7zM6 313h1v1h-1zM0 314h4v1h-4zM5 314h2v1h-2zM0 315h1v1h-1zM3 315h3v1h-3zM0 316h1v1h-1zM3 316h1v1h-1zM0 317h1v1h-1zM3 317h1v1h-1zM0 318h7v1h-7z"/>
<path d="M6 211h3v1h-3zM6 212h1v1h-1zM0 213h1v1h-1zM3 213h1v1h-1zM6 213h1v1h-1zM0 214h1v1h-1zM3 214h1v1h-1zM6 214h1v1h-1zM0 215h1v1h-1zM3 215h1v1h-1zM6 215h1v1h-1zM0 216h1v1h-1zM3 216h1v1h-1zM6 216h1v1h-1zM0 217h7v1h-7zM1 219h1v1h-1zM5 219h1v1h-1zM0 220h2v1h-2zM5 220h2v1h-2zM0 221h1v1h-1zM6 221h1v1h-1zM0 222h1v1h-1zM6 222h1v1h-1zM0 223h1v1h-1zM6 223h1v1h-1zM1 224h5v1h-5zM2 225h3v1h-3zM0 227h7v1h-7zM4 228h3v1h-3zM2 229h3v1h-3zM0 230h3v1h-3zM0 231h7v1h-7zM6 233h1v1h-1zM3 234h4v1h-4zM0 235h5v1h-5zM0 236h1v1h-1zM4 236h1v1h-1zM0 237h5v1h-5zM3 238h4v1h-4zM6 239h1v1h-1zM2 240h2v1h-2zM1 241h5v1h-5zM0 242h2v1h-2zM5 242h2v1h-2zM0 243h1v1h-1zM6 243h1v1h-1zM0 244h1v1h-1zM6 244h1v1h-1zM0 245h7v1h-7zM0 248h7v1h-7zM4 249h3v1h-3zM2 250h3v1h-3zM0 251h3v1h-3zM0 252h7v1h-7zM0 254h6v1h-6zM6 255h1v1h-1zM6 256h1v1h-1zM6 257h1v1h-1zM0 258h6v1h-6zM5 260h1v1h-1zM0 261h3v1h-3zM4 261h3v1h-3zM0 262h1v1h-1zM3 262h1v1h-1zM6 262h1v1h-1zM0 263h1v1h-1zM3 263h1v1h-1zM6 263h1v1h-1zM0 264h1v1h-1zM3 264h1v1h-1zM6 264h1v1h-1zM0 265h7v1h-7zM6 267h1v1h-1zM3 268h4v1h-4zM0 269h5v1h-5zM0 270h1v1h-1zM4 270h1v1h-1zM0 271h5v1h-5zM3 272h4v1h-4zM6 273h1v1h-1z"/>
<path d="M0 199h7v1h-7zM4 200h3v1h-3zM2 201h3v1h-3zM0 202h3v1h-3zM0 203h7v1h-7zM0 206h7v1h-7z"/>
<path d="M0 149h1v1h-1zM0 150h1v1h-1zM0 151h7v1h-7zM0 152h1v1h-1zM0 153h1v1h-1zM0 154h7v1h-7zM4 155h3v1h-3zM2 156h3v1h-3zM0 157h3v1h-3zM0 158h7v1h-7zM6 160h1v1h-1zM0 161h1v1h-1zM3 161h1v1h-1zM6 161h1v1h-1zM0 162h1v1h-1zM3 162h1v1h-1zM6 162h1v1h-1zM0 163h1v1h-1zM3 163h1v1h-1zM6 163h1v1h-1zM0 164h1v1h-1zM3 164h1v1h-1zM6 164h1v1h-1zM0 165h7v1h-7zM1 167h1v1h-1zM5 167h1v1h-1zM0 168h2v1h-2zM5 168h2v1h-2zM0 169h1v1h-1zM6 169h1v1h-1zM0 170h1v1h-1zM6 170h1v1h-1zM0 171h1v1h-1zM6 171h1v1h-1zM1 172h5v1h-5zM2 173h3v1h-3zM6 174h1v1h-1zM0 175h4v1h-4zM5 175h2v1h-2zM0 176h1v1h-1zM3 176h3v1h-3zM0 177h1v1h-1zM3 177h1v1h-1zM0 178h1v1h-1zM3 178h1v1h-1zM0 179h7v1h-7zM6 181h1v1h-1zM0 182h1v1h-1zM3 182h1v1h-1zM6 182h1v1h-1zM0 183h1v1h-1zM3 183h1v1h-1zM6 183h1v1h-1zM0 184h1v1h-1zM3 184h1v1h-1zM6 184h1v1h-1zM0 185h1v1h-1zM3 185h1v1h-1zM6 185h1v1h-1zM0 186h7v1h-7zM2 188h1v1h-1zM0 189h5v1h-5zM0 190h1v1h-1zM4 190h1v1h-1zM0 191h1v1h-1zM4 191h1v1h-1zM0 192h1v1h-1zM4 192h1v1h-1zM0 193h7v1h-7z"/></g>
<g fill="#000"><path d="M110 22h4v1h-4zM115 22h5v1h-5zM122 22h3v1h-3zM128 22h1v1h-1zM132 22h1v1h-1zM135 22h4v1h-4zM141 22h5v1h-5zM149 22h3v1h-3zM155 22h1v1h-1zM160 22h1v1h-1zM165 22h4v1h-4zM171 22h5v1h-5zM178 22h4v1h-4zM110 23h1v1h-1zM113 23h1v1h-1zM117 23h1v1h-1zM121 23h1v1h-1zM125 23h1v1h-1zM128 23h2v1h-2zM132 23h1v1h-1zM135 23h1v1h-1zM141 23h1v1h-1zM145 23h1v1h-1zM148 23h1v1h-1zM152 23h1v1h-1zM155 23h1v1h-1zM160 23h1v1h-1zM165 23h1v1h-1zM171 23h1v1h-1zM175 23h1v1h-1zM178 23h1v1h-1zM181 23h1v1h-1zM110 24h1v1h-1zM117 24h1v1h-1zM120 24h1v1h-1zM126 24h1v1h-1zM128 24h2v1h-2zM132 24h1v1h-1zM135 24h1v1h-1zM141 24h1v1h-1zM145 24h1v1h-1zM147 24h1v1h-1zM153 24h1v1h-1zM155 24h1v1h-1zM160 24h1v1h-1zM165 24h1v1h-1zM171 24h1v1h-1zM175 24h1v1h-1zM178 24h1v1h-1zM111 25h3v1h-3zM117 25h1v1h-1zM120 25h1v1h-1zM126 25h1v1h-1zM128 25h1v1h-1zM130 25h1v1h-1zM132 25h1v1h-1zM135 25h4v1h-4zM141 25h5v1h-5zM147 25h1v1h-1zM153 25h1v1h-1zM155 25h1v1h-1zM160 25h1v1h-1zM165 25h4v1h-4zM171 25h5v1h-5zM179 25h3v1h-3zM114 26h1v1h-1zM117 26h1v1h-1zM120 26h1v1h-1zM126 26h1v1h-1zM128 26h1v1h-1zM131 26h2v1h-2zM135 26h1v1h-1zM141 26h1v1h-1zM144 26h1v1h-1zM147 26h1v1h-1zM153 26h1v1h-1zM155 26h1v1h-1zM160 26h1v1h-1zM165 26h1v1h-1zM171 26h1v1h-1zM174 26h1v1h-1zM182 26h1v1h-1zM109 27h1v1h-1zM114 27h1v1h-1zM117 27h1v1h-1zM121 27h1v1h-1zM125 27h1v1h-1zM128 27h1v1h-1zM131 27h2v1h-2zM135 27h1v1h-1zM141 27h1v1h-1zM145 27h1v1h-1zM148 27h1v1h-1zM152 27h1v1h-1zM155 27h1v1h-1zM160 27h1v1h-1zM165 27h1v1h-1zM171 27h1v1h-1zM175 27h1v1h-1zM177 27h1v1h-1zM182 27h1v1h-1zM110 28h4v1h-4zM117 28h1v1h-1zM122 28h3v1h-3zM128 28h1v1h-1zM132 28h1v1h-1zM135 28h5v1h-5zM141 28h1v1h-1zM145 28h1v1h-1zM149 28h3v1h-3zM155 28h4v1h-4zM160 28h4v1h-4zM165 28h5v1h-5zM171 28h1v1h-1zM175 28h1v1h-1zM178 28h4v1h-4z"/>
<path d="M111 35h3v1h-3zM116 35h5v1h-5zM122 35h1v1h-1zM126 35h1v1h-1zM129 35h4v1h-4zM135 35h5v1h-5zM145 35h1v1h-1zM149 35h1v1h-1zM152 35h1v1h-1zM155 35h1v1h-1zM159 35h1v1h-1zM162 35h1v1h-1zM166 35h1v1h-1zM170 35h3v1h-3zM175 35h1v1h-1zM179 35h1v1h-1zM183 35h1v1h-1zM185 35h4v1h-4zM110 36h1v1h-1zM114 36h1v1h-1zM118 36h1v1h-1zM122 36h1v1h-1zM126 36h1v1h-1zM129 36h1v1h-1zM135 36h1v1h-1zM139 36h1v1h-1zM145 36h1v1h-1zM149 36h1v1h-1zM152 36h1v1h-1zM155 36h2v1h-2zM159 36h1v1h-1zM162 36h2v1h-2zM166 36h1v1h-1zM169 36h1v1h-1zM173 36h1v1h-1zM175 36h1v1h-1zM179 36h1v1h-1zM183 36h1v1h-1zM185 36h1v1h-1zM188 36h1v1h-1zM109 37h1v1h-1zM115 37h1v1h-1zM118 37h1v1h-1zM122 37h1v1h-1zM126 37h1v1h-1zM129 37h1v1h-1zM135 37h1v1h-1zM139 37h1v1h-1zM145 37h2v1h-2zM148 37h2v1h-2zM152 37h1v1h-1zM155 37h2v1h-2zM159 37h1v1h-1zM162 37h2v1h-2zM166 37h1v1h-1zM168 37h1v1h-1zM174 37h1v1h-1zM176 37h1v1h-1zM178 37h1v1h-1zM180 37h1v1h-1zM182 37h1v1h-1zM185 37h1v1h-1zM109 38h1v1h-1zM115 38h1v1h-1zM118 38h1v1h-1zM122 38h5v1h-5zM129 38h4v1h-4zM135 38h5v1h-5zM145 38h2v1h-2zM148 38h2v1h-2zM152 38h1v1h-1zM155 38h1v1h-1zM157 38h1v1h-1zM159 38h1v1h-1zM162 38h1v1h-1zM164 38h1v1h-1zM166 38h1v1h-1zM168 38h1v1h-1zM174 38h1v1h-1zM176 38h1v1h-1zM178 38h1v1h-1zM180 38h1v1h-1zM182 38h1v1h-1zM186 38h3v1h-3zM109 39h1v1h-1zM115 39h1v1h-1zM118 39h1v1h-1zM122 39h1v1h-1zM126 39h1v1h-1zM129 39h1v1h-1zM135 39h1v1h-1zM138 39h1v1h-1zM145 39h2v1h-2zM148 39h2v1h-2zM152 39h1v1h-1zM155 39h1v1h-1zM158 39h2v1h-2zM162 39h1v1h-1zM165 39h2v1h-2zM168 39h1v1h-1zM174 39h1v1h-1zM176 39h1v1h-1zM178 39h1v1h-1zM180 39h1v1h-1zM182 39h1v1h-1zM189 39h1v1h-1zM110 40h1v1h-1zM114 40h1v1h-1zM118 40h1v1h-1zM122 40h1v1h-1zM126 40h1v1h-1zM129 40h1v1h-1zM135 40h1v1h-1zM139 40h1v1h-1zM145 40h1v1h-1zM147 40h1v1h-1zM149 40h1v1h-1zM152 40h1v1h-1zM155 40h1v1h-1zM158 40h2v1h-2zM162 40h1v1h-1zM165 40h2v1h-2zM169 40h1v1h-1zM173 40h1v1h-1zM176 40h1v1h-1zM178 40h1v1h-1zM180 40h1v1h-1zM182 40h1v1h-1zM184 40h1v1h-1zM189 40h1v1h-1zM111 41h3v1h-3zM118 41h1v1h-1zM122 41h1v1h-1zM126 41h1v1h-1zM129 41h5v1h-5zM135 41h1v1h-1zM139 41h1v1h-1zM145 41h1v1h-1zM147 41h1v1h-1zM149 41h1v1h-1zM152 41h1v1h-1zM155 41h1v1h-1zM159 41h1v1h-1zM162 41h1v1h-1zM166 41h1v1h-1zM170 41h3v1h-3zM177 41h1v1h-1zM181 41h1v1h-1zM185 41h4v1h-4z"/>
<path d="M110 48h4v1h-4zM116 48h1v1h-1zM120 48h1v1h-1zM123 48h1v1h-1zM127 48h1v1h-1zM130 48h5v1h-5zM136 48h1v1h-1zM139 48h4v1h-4zM145 48h1v1h-1zM149 48h1v1h-1zM110 49h1v1h-1zM113 49h1v1h-1zM116 49h1v1h-1zM120 49h1v1h-1zM123 49h2v1h-2zM127 49h1v1h-1zM130 49h1v1h-1zM136 49h1v1h-1zM139 49h1v1h-1zM142 49h1v1h-1zM145 49h1v1h-1zM149 49h1v1h-1zM110 50h1v1h-1zM116 50h1v1h-1zM120 50h1v1h-1zM123 50h2v1h-2zM127 50h1v1h-1zM130 50h1v1h-1zM136 50h1v1h-1zM139 50h1v1h-1zM145 50h1v1h-1zM149 50h1v1h-1zM111 51h3v1h-3zM116 51h1v1h-1zM120 51h1v1h-1zM123 51h1v1h-1zM125 51h1v1h-1zM127 51h1v1h-1zM130 51h4v1h-4zM136 51h1v1h-1zM140 51h3v1h-3zM145 51h5v1h-5zM114 52h1v1h-1zM116 52h1v1h-1zM120 52h1v1h-1zM123 52h1v1h-1zM126 52h2v1h-2zM130 52h1v1h-1zM136 52h1v1h-1zM143 52h1v1h-1zM145 52h1v1h-1zM149 52h1v1h-1zM109 53h1v1h-1zM114 53h1v1h-1zM116 53h1v1h-1zM120 53h1v1h-1zM123 53h1v1h-1zM126 53h2v1h-2zM130 53h1v1h-1zM136 53h1v1h-1zM138 53h1v1h-1zM143 53h1v1h-1zM145 53h1v1h-1zM149 53h1v1h-1zM110 54h4v1h-4zM117 54h3v1h-3zM123 54h1v1h-1zM127 54h1v1h-1zM130 54h1v1h-1zM136 54h1v1h-1zM139 54h4v1h-4zM145 54h1v1h-1zM149 54h1v1h-1z"/>
<path d="M110 59h4v1h-4zM118 59h2v1h-2zM123 59h5v1h-5zM129 59h5v1h-5zM135 59h4v1h-4zM141 59h5v1h-5zM148 59h4v1h-4zM110 60h1v1h-1zM114 60h1v1h-1zM118 60h2v1h-2zM123 60h1v1h-1zM127 60h1v1h-1zM131 60h1v1h-1zM135 60h1v1h-1zM141 60h1v1h-1zM145 60h1v1h-1zM148 60h1v1h-1zM151 60h1v1h-1zM110 61h1v1h-1zM114 61h1v1h-1zM118 61h2v1h-2zM123 61h1v1h-1zM127 61h1v1h-1zM131 61h1v1h-1zM135 61h1v1h-1zM141 61h1v1h-1zM145 61h1v1h-1zM148 61h1v1h-1zM110 62h1v1h-1zM115 62h1v1h-1zM117 62h1v1h-1zM120 62h1v1h-1zM123 62h5v1h-5zM131 62h1v1h-1zM135 62h4v1h-4zM141 62h5v1h-5zM149 62h3v1h-3zM110 63h1v1h-1zM114 63h1v1h-1zM117 63h4v1h-4zM123 63h1v1h-1zM126 63h1v1h-1zM131 63h1v1h-1zM135 63h1v1h-1zM141 63h1v1h-1zM144 63h1v1h-1zM152 63h1v1h-1zM110 64h1v1h-1zM114 64h1v1h-1zM116 64h1v1h-1zM121 64h1v1h-1zM123 64h1v1h-1zM127 64h1v1h-1zM131 64h1v1h-1zM135 64h1v1h-1zM141 64h1v1h-1zM145 64h1v1h-1zM147 64h1v1h-1zM152 64h1v1h-1zM110 65h4v1h-4zM116 65h1v1h-1zM121 65h1v1h-1zM123 65h1v1h-1zM127 65h1v1h-1zM131 65h1v1h-1zM135 65h5v1h-5zM141 65h1v1h-1zM145 65h1v1h-1zM148 65h4v1h-4z"/>
<path d="M111 72h1v1h-1zM115 72h1v1h-1zM119 72h2v1h-2zM124 72h4v1h-4zM130 72h5v1h-5zM137 72h3v1h-3zM143 72h1v1h-1zM147 72h1v1h-1zM150 72h4v1h-4zM111 73h1v1h-1zM115 73h1v1h-1zM119 73h2v1h-2zM124 73h1v1h-1zM128 73h1v1h-1zM132 73h1v1h-1zM136 73h1v1h-1zM140 73h1v1h-1zM143 73h1v1h-1zM147 73h1v1h-1zM150 73h1v1h-1zM153 73h1v1h-1zM111 74h2v1h-2zM114 74h2v1h-2zM119 74h2v1h-2zM124 74h1v1h-1zM128 74h1v1h-1zM132 74h1v1h-1zM135 74h1v1h-1zM141 74h1v1h-1zM143 74h2v1h-2zM146 74h2v1h-2zM150 74h1v1h-1zM111 75h2v1h-2zM114 75h2v1h-2zM118 75h1v1h-1zM121 75h1v1h-1zM124 75h1v1h-1zM129 75h1v1h-1zM132 75h1v1h-1zM135 75h1v1h-1zM141 75h1v1h-1zM143 75h2v1h-2zM146 75h2v1h-2zM151 75h3v1h-3zM111 76h2v1h-2zM114 76h2v1h-2zM118 76h4v1h-4zM124 76h1v1h-1zM128 76h1v1h-1zM132 76h1v1h-1zM135 76h1v1h-1zM141 76h1v1h-1zM143 76h2v1h-2zM146 76h2v1h-2zM154 76h1v1h-1zM111 77h1v1h-1zM113 77h1v1h-1zM115 77h1v1h-1zM117 77h1v1h-1zM122 77h1v1h-1zM124 77h1v1h-1zM128 77h1v1h-1zM132 77h1v1h-1zM136 77h1v1h-1zM140 77h1v1h-1zM143 77h1v1h-1zM145 77h1v1h-1zM147 77h1v1h-1zM149 77h1v1h-1zM154 77h1v1h-1zM111 78h1v1h-1zM113 78h1v1h-1zM115 78h1v1h-1zM117 78h1v1h-1zM122 78h1v1h-1zM124 78h4v1h-4zM132 78h1v1h-1zM137 78h3v1h-3zM143 78h1v1h-1zM145 78h1v1h-1zM147 78h1v1h-1zM150 78h4v1h-4z"/>
<path d="M110 84h4v1h-4zM116 84h1v1h-1zM120 84h1v1h-1zM124 84h4v1h-4zM130 84h1v1h-1zM133 84h1v1h-1zM136 84h4v1h-4zM142 84h5v1h-5zM149 84h4v1h-4zM110 85h1v1h-1zM113 85h1v1h-1zM116 85h1v1h-1zM120 85h1v1h-1zM123 85h1v1h-1zM127 85h1v1h-1zM130 85h1v1h-1zM132 85h1v1h-1zM136 85h1v1h-1zM142 85h1v1h-1zM146 85h1v1h-1zM149 85h1v1h-1zM152 85h1v1h-1zM110 86h1v1h-1zM116 86h1v1h-1zM120 86h1v1h-1zM123 86h1v1h-1zM130 86h2v1h-2zM136 86h1v1h-1zM142 86h1v1h-1zM146 86h1v1h-1zM149 86h1v1h-1zM111 87h3v1h-3zM116 87h1v1h-1zM120 87h1v1h-1zM122 87h1v1h-1zM130 87h2v1h-2zM136 87h4v1h-4zM142 87h5v1h-5zM150 87h3v1h-3zM114 88h1v1h-1zM116 88h1v1h-1zM120 88h1v1h-1zM123 88h1v1h-1zM130 88h1v1h-1zM132 88h1v1h-1zM136 88h1v1h-1zM142 88h1v1h-1zM145 88h1v1h-1zM153 88h1v1h-1zM109 89h1v1h-1zM114 89h1v1h-1zM116 89h1v1h-1zM120 89h1v1h-1zM123 89h1v1h-1zM127 89h2v1h-2zM130 89h1v1h-1zM133 89h1v1h-1zM136 89h1v1h-1zM142 89h1v1h-1zM146 89h1v1h-1zM148 89h1v1h-1zM153 89h1v1h-1zM110 90h4v1h-4zM117 90h3v1h-3zM124 90h4v1h-4zM130 90h1v1h-1zM133 90h2v1h-2zM136 90h5v1h-5zM142 90h1v1h-1zM146 90h1v1h-1zM149 90h4v1h-4z"/>
<path d="M111 97h3v1h-3zM116 97h5v1h-5zM122 97h1v1h-1zM126 97h1v1h-1zM129 97h4v1h-4zM135 97h5v1h-5zM142 97h4v1h-4zM110 98h1v1h-1zM114 98h1v1h-1zM118 98h1v1h-1zM122 98h1v1h-1zM126 98h1v1h-1zM129 98h1v1h-1zM135 98h1v1h-1zM139 98h1v1h-1zM142 98h1v1h-1zM145 98h1v1h-1zM109 99h1v1h-1zM115 99h1v1h-1zM118 99h1v1h-1zM122 99h1v1h-1zM126 99h1v1h-1zM129 99h1v1h-1zM135 99h1v1h-1zM139 99h1v1h-1zM142 99h1v1h-1zM109 100h1v1h-1zM115 100h1v1h-1zM118 100h1v1h-1zM122 100h5v1h-5zM129 100h4v1h-4zM135 100h5v1h-5zM143 100h3v1h-3zM109 101h1v1h-1zM115 101h1v1h-1zM118 101h1v1h-1zM122 101h1v1h-1zM126 101h1v1h-1zM129 101h1v1h-1zM135 101h1v1h-1zM138 101h1v1h-1zM146 101h1v1h-1zM110 102h1v1h-1zM114 102h1v1h-1zM118 102h1v1h-1zM122 102h1v1h-1zM126 102h1v1h-1zM129 102h1v1h-1zM135 102h1v1h-1zM139 102h1v1h-1zM141 102h1v1h-1zM146 102h1v1h-1zM111 103h3v1h-3zM118 103h1v1h-1zM122 103h1v1h-1zM126 103h1v1h-1zM129 103h5v1h-5zM135 103h1v1h-1zM139 103h1v1h-1zM142 103h4v1h-4z"/>
<path d="M215 20h4v1h-4zM221 20h4v1h-4zM227 20h1v1h-1zM232 20h4v1h-4zM239 20h4v1h-4zM244 20h5v1h-5zM250 20h4v1h-4zM257 20h4v1h-4zM268 20h2v1h-2zM274 20h3v1h-3zM280 20h5v1h-5zM287 20h1v1h-1zM291 20h4v1h-4zM297 20h1v1h-1zM301 20h1v1h-1zM304 20h1v1h-1zM308 20h5v1h-5zM314 20h1v1h-1zM318 20h1v1h-1zM321 20h5v1h-5zM329 20h2v1h-2zM334 20h1v1h-1zM343 20h4v1h-4zM350 20h2v1h-2zM355 20h4v1h-4zM361 20h1v1h-1zM364 20h1v1h-1zM368 20h1v1h-1zM371 20h4v1h-4zM215 21h1v1h-1zM218 21h1v1h-1zM221 21h1v1h-1zM227 21h1v1h-1zM232 21h1v1h-1zM238 21h1v1h-1zM242 21h1v1h-1zM246 21h1v1h-1zM250 21h1v1h-1zM257 21h1v1h-1zM261 21h1v1h-1zM268 21h2v1h-2zM273 21h1v1h-1zM277 21h1v1h-1zM280 21h1v1h-1zM284 21h1v1h-1zM287 21h1v1h-1zM290 21h1v1h-1zM294 21h1v1h-1zM297 21h1v1h-1zM301 21h1v1h-1zM304 21h1v1h-1zM310 21h1v1h-1zM314 21h1v1h-1zM318 21h1v1h-1zM321 21h1v1h-1zM325 21h1v1h-1zM329 21h2v1h-2zM334 21h1v1h-1zM343 21h1v1h-1zM346 21h1v1h-1zM350 21h2v1h-2zM355 21h1v1h-1zM358 21h1v1h-1zM361 21h1v1h-1zM364 21h2v1h-2zM368 21h1v1h-1zM371 21h1v1h-1zM374 21h1v1h-1zM215 22h1v1h-1zM221 22h1v1h-1zM227 22h1v1h-1zM232 22h1v1h-1zM238 22h1v1h-1zM246 22h1v1h-1zM250 22h1v1h-1zM257 22h1v1h-1zM261 22h1v1h-1zM268 22h2v1h-2zM272 22h1v1h-1zM280 22h1v1h-1zM284 22h1v1h-1zM287 22h1v1h-1zM290 22h1v1h-1zM297 22h1v1h-1zM301 22h1v1h-1zM304 22h1v1h-1zM310 22h1v1h-1zM314 22h1v1h-1zM318 22h1v1h-1zM321 22h1v1h-1zM325 22h1v1h-1zM329 22h2v1h-2zM334 22h1v1h-1zM343 22h1v1h-1zM346 22h1v1h-1zM350 22h2v1h-2zM355 22h1v1h-1zM361 22h1v1h-1zM364 22h2v1h-2zM368 22h1v1h-1zM371 22h1v1h-1zM216 23h3v1h-3zM221 23h4v1h-4zM227 23h1v1h-1zM232 23h4v1h-4zM237 23h1v1h-1zM246 23h1v1h-1zM250 23h4v1h-4zM257 23h1v1h-1zM262 23h1v1h-1zM267 23h1v1h-1zM270 23h1v1h-1zM272 23h1v1h-1zM276 23h2v1h-2zM280 23h5v1h-5zM287 23h1v1h-1zM289 23h1v1h-1zM297 23h1v1h-1zM301 23h1v1h-1zM304 23h1v1h-1zM310 23h1v1h-1zM314 23h1v1h-1zM318 23h1v1h-1zM321 23h5v1h-5zM328 23h1v1h-1zM331 23h1v1h-1zM334 23h1v1h-1zM343 23h3v1h-3zM349 23h1v1h-1zM352 23h1v1h-1zM356 23h3v1h-3zM361 23h1v1h-1zM364 23h1v1h-1zM366 23h1v1h-1zM368 23h1v1h-1zM372 23h3v1h-3zM219 24h1v1h-1zM221 24h1v1h-1zM227 24h1v1h-1zM232 24h1v1h-1zM238 24h1v1h-1zM246 24h1v1h-1zM250 24h1v1h-1zM257 24h1v1h-1zM261 24h1v1h-1zM267 24h4v1h-4zM272 24h1v1h-1zM277 24h1v1h-1zM280 24h1v1h-1zM283 24h1v1h-1zM287 24h1v1h-1zM290 24h1v1h-1zM297 24h1v1h-1zM301 24h1v1h-1zM304 24h1v1h-1zM310 24h1v1h-1zM314 24h1v1h-1zM318 24h1v1h-1zM321 24h1v1h-1zM324 24h1v1h-1zM328 24h4v1h-4zM334 24h1v1h-1zM343 24h1v1h-1zM346 24h1v1h-1zM349 24h4v1h-4zM359 24h1v1h-1zM361 24h1v1h-1zM364 24h1v1h-1zM367 24h2v1h-2zM375 24h1v1h-1zM214 25h1v1h-1zM219 25h1v1h-1zM221 25h1v1h-1zM227 25h1v1h-1zM232 25h1v1h-1zM238 25h1v1h-1zM242 25h2v1h-2zM246 25h1v1h-1zM250 25h1v1h-1zM257 25h1v1h-1zM261 25h1v1h-1zM266 25h1v1h-1zM271 25h1v1h-1zM273 25h1v1h-1zM277 25h1v1h-1zM280 25h1v1h-1zM284 25h1v1h-1zM287 25h1v1h-1zM290 25h1v1h-1zM294 25h2v1h-2zM297 25h1v1h-1zM301 25h1v1h-1zM304 25h1v1h-1zM310 25h1v1h-1zM314 25h1v1h-1zM318 25h1v1h-1zM321 25h1v1h-1zM325 25h1v1h-1zM327 25h1v1h-1zM332 25h1v1h-1zM334 25h1v1h-1zM343 25h1v1h-1zM347 25h2v1h-2zM353 25h2v1h-2zM359 25h1v1h-1zM361 25h1v1h-1zM364 25h1v1h-1zM367 25h2v1h-2zM370 25h1v1h-1zM375 25h1v1h-1zM215 26h4v1h-4zM221 26h5v1h-5zM227 26h4v1h-4zM232 26h5v1h-5zM239 26h4v1h-4zM246 26h1v1h-1zM250 26h5v1h-5zM257 26h4v1h-4zM266 26h1v1h-1zM271 26h1v1h-1zM274 26h3v1h-3zM280 26h1v1h-1zM284 26h1v1h-1zM287 26h1v1h-1zM291 26h4v1h-4zM298 26h3v1h-3zM304 26h4v1h-4zM310 26h1v1h-1zM315 26h3v1h-3zM321 26h1v1h-1zM325 26h1v1h-1zM327 26h1v1h-1zM332 26h1v1h-1zM334 26h4v1h-4zM343 26h4v1h-4zM348 26h1v1h-1zM353 26h1v1h-1zM355 26h4v1h-4zM361 26h1v1h-1zM364 26h1v1h-1zM368 26h1v1h-1zM371 26h4v1h-4z"/>
<path d="M220 287h4v1h-4zM226 287h4v1h-4zM232 287h1v1h-1zM237 287h4v1h-4zM245 287h4v1h-4zM250 287h5v1h-5zM256 287h4v1h-4zM262 287h4v1h-4zM272 287h5v1h-5zM279 287h3v1h-3zM285 287h5v1h-5zM293 287h4v1h-4zM299 287h4v1h-4zM304 287h5v1h-5zM310 287h4v1h-4zM316 287h4v1h-4zM326 287h4v1h-4zM333 287h2v1h-2zM339 287h4v1h-4zM345 287h1v1h-1zM348 287h1v1h-1zM352 287h1v1h-1zM355 287h4v1h-4zM220 288h1v1h-1zM223 288h1v1h-1zM226 288h1v1h-1zM232 288h1v1h-1zM237 288h1v1h-1zM244 288h1v1h-1zM248 288h1v1h-1zM252 288h1v1h-1zM256 288h1v1h-1zM262 288h1v1h-1zM266 288h1v1h-1zM272 288h1v1h-1zM278 288h1v1h-1zM282 288h1v1h-1zM285 288h1v1h-1zM289 288h1v1h-1zM293 288h1v1h-1zM299 288h1v1h-1zM302 288h1v1h-1zM306 288h1v1h-1zM310 288h1v1h-1zM316 288h1v1h-1zM320 288h1v1h-1zM326 288h1v1h-1zM329 288h1v1h-1zM333 288h2v1h-2zM339 288h1v1h-1zM342 288h1v1h-1zM345 288h1v1h-1zM348 288h2v1h-2zM352 288h1v1h-1zM355 288h1v1h-1zM358 288h1v1h-1zM220 289h1v1h-1zM226 289h1v1h-1zM232 289h1v1h-1zM237 289h1v1h-1zM244 289h1v1h-1zM252 289h1v1h-1zM256 289h1v1h-1zM262 289h1v1h-1zM266 289h1v1h-1zM272 289h1v1h-1zM277 289h1v1h-1zM283 289h1v1h-1zM285 289h1v1h-1zM289 289h1v1h-1zM293 289h1v1h-1zM299 289h1v1h-1zM306 289h1v1h-1zM310 289h1v1h-1zM316 289h1v1h-1zM320 289h1v1h-1zM326 289h1v1h-1zM329 289h1v1h-1zM333 289h2v1h-2zM339 289h1v1h-1zM345 289h1v1h-1zM348 289h2v1h-2zM352 289h1v1h-1zM355 289h1v1h-1zM221 290h3v1h-3zM226 290h4v1h-4zM232 290h1v1h-1zM237 290h4v1h-4zM243 290h1v1h-1zM252 290h1v1h-1zM256 290h4v1h-4zM262 290h1v1h-1zM267 290h1v1h-1zM272 290h4v1h-4zM277 290h1v1h-1zM283 290h1v1h-1zM285 290h5v1h-5zM293 290h4v1h-4zM300 290h3v1h-3zM306 290h1v1h-1zM310 290h4v1h-4zM316 290h1v1h-1zM321 290h1v1h-1zM326 290h3v1h-3zM332 290h1v1h-1zM335 290h1v1h-1zM340 290h3v1h-3zM345 290h1v1h-1zM348 290h1v1h-1zM350 290h1v1h-1zM352 290h1v1h-1zM356 290h3v1h-3zM224 291h1v1h-1zM226 291h1v1h-1zM232 291h1v1h-1zM237 291h1v1h-1zM244 291h1v1h-1zM252 291h1v1h-1zM256 291h1v1h-1zM262 291h1v1h-1zM266 291h1v1h-1zM272 291h1v1h-1zM277 291h1v1h-1zM283 291h1v1h-1zM285 291h1v1h-1zM288 291h1v1h-1zM293 291h1v1h-1zM303 291h1v1h-1zM306 291h1v1h-1zM310 291h1v1h-1zM316 291h1v1h-1zM320 291h1v1h-1zM326 291h1v1h-1zM329 291h1v1h-1zM332 291h4v1h-4zM343 291h1v1h-1zM345 291h1v1h-1zM348 291h1v1h-1zM351 291h2v1h-2zM359 291h1v1h-1zM219 292h1v1h-1zM224 292h1v1h-1zM226 292h1v1h-1zM232 292h1v1h-1zM237 292h1v1h-1zM244 292h1v1h-1zM248 292h2v1h-2zM252 292h1v1h-1zM256 292h1v1h-1zM262 292h1v1h-1zM266 292h1v1h-1zM272 292h1v1h-1zM278 292h1v1h-1zM282 292h1v1h-1zM285 292h1v1h-1zM289 292h1v1h-1zM293 292h1v1h-1zM298 292h1v1h-1zM303 292h1v1h-1zM306 292h1v1h-1zM310 292h1v1h-1zM316 292h1v1h-1zM320 292h1v1h-1zM326 292h1v1h-1zM330 292h2v1h-2zM336 292h1v1h-1zM338 292h1v1h-1zM343 292h1v1h-1zM345 292h1v1h-1zM348 292h1v1h-1zM351 292h2v1h-2zM354 292h1v1h-1zM359 292h1v1h-1zM220 293h4v1h-4zM226 293h5v1h-5zM232 293h4v1h-4zM237 293h5v1h-5zM245 293h4v1h-4zM252 293h1v1h-1zM256 293h5v1h-5zM262 293h4v1h-4zM272 293h1v1h-1zM279 293h3v1h-3zM285 293h1v1h-1zM289 293h1v1h-1zM293 293h5v1h-5zM299 293h4v1h-4zM306 293h1v1h-1zM310 293h5v1h-5zM316 293h4v1h-4zM326 293h4v1h-4zM331 293h1v1h-1zM336 293h1v1h-1zM339 293h4v1h-4zM345 293h1v1h-1zM348 293h1v1h-1zM352 293h1v1h-1zM355 293h4v1h-4z"/>
<path d="M55 206h1v1h-1zM59 206h1v1h-1zM63 206h3v1h-3zM70 206h3v1h-3zM77 206h1v1h-1zM81 206h1v1h-1zM84 206h1v1h-1zM88 206h1v1h-1zM95 206h4v1h-4zM101 206h5v1h-5zM109 206h4v1h-4zM115 206h4v1h-4zM121 206h1v1h-1zM124 206h1v1h-1zM55 207h1v1h-1zM59 207h1v1h-1zM62 207h1v1h-1zM66 207h1v1h-1zM69 207h1v1h-1zM73 207h1v1h-1zM77 207h1v1h-1zM81 207h1v1h-1zM84 207h1v1h-1zM88 207h1v1h-1zM94 207h1v1h-1zM98 207h1v1h-1zM101 207h1v1h-1zM105 207h1v1h-1zM109 207h1v1h-1zM115 207h1v1h-1zM121 207h1v1h-1zM123 207h1v1h-1zM56 208h1v1h-1zM58 208h1v1h-1zM61 208h1v1h-1zM67 208h2v1h-2zM77 208h1v1h-1zM81 208h1v1h-1zM84 208h2v1h-2zM87 208h2v1h-2zM94 208h1v1h-1zM101 208h1v1h-1zM105 208h1v1h-1zM109 208h1v1h-1zM115 208h1v1h-1zM121 208h2v1h-2zM57 209h1v1h-1zM61 209h1v1h-1zM67 209h2v1h-2zM72 209h2v1h-2zM77 209h1v1h-1zM81 209h1v1h-1zM84 209h2v1h-2zM87 209h2v1h-2zM93 209h1v1h-1zM101 209h5v1h-5zM109 209h4v1h-4zM115 209h4v1h-4zM121 209h2v1h-2zM57 210h1v1h-1zM61 210h1v1h-1zM67 210h2v1h-2zM73 210h1v1h-1zM77 210h1v1h-1zM81 210h1v1h-1zM84 210h2v1h-2zM87 210h2v1h-2zM94 210h1v1h-1zM101 210h1v1h-1zM104 210h1v1h-1zM109 210h1v1h-1zM115 210h1v1h-1zM121 210h1v1h-1zM123 210h1v1h-1zM57 211h1v1h-1zM62 211h1v1h-1zM66 211h1v1h-1zM69 211h1v1h-1zM73 211h1v1h-1zM77 211h1v1h-1zM81 211h1v1h-1zM84 211h1v1h-1zM86 211h1v1h-1zM88 211h1v1h-1zM94 211h1v1h-1zM98 211h2v1h-2zM101 211h1v1h-1zM105 211h1v1h-1zM109 211h1v1h-1zM115 211h1v1h-1zM121 211h1v1h-1zM124 211h1v1h-1zM57 212h1v1h-1zM63 212h3v1h-3zM70 212h3v1h-3zM78 212h3v1h-3zM84 212h1v1h-1zM86 212h1v1h-1zM88 212h1v1h-1zM95 212h4v1h-4zM101 212h1v1h-1zM105 212h1v1h-1zM109 212h5v1h-5zM115 212h5v1h-5zM121 212h1v1h-1zM124 212h2v1h-2z"/>
<path d="M169 206h4v1h-4zM177 206h3v1h-3zM183 206h1v1h-1zM187 206h1v1h-1zM190 206h4v1h-4zM196 206h1v1h-1zM199 206h1v1h-1zM203 206h1v1h-1zM206 206h4v1h-4zM212 206h1v1h-1zM216 206h1v1h-1zM220 206h5v1h-5zM227 206h1v1h-1zM231 206h1v1h-1zM238 206h4v1h-4zM244 206h5v1h-5zM251 206h4v1h-4zM257 206h4v1h-4zM263 206h1v1h-1zM266 206h1v1h-1zM169 207h1v1h-1zM173 207h1v1h-1zM176 207h1v1h-1zM180 207h1v1h-1zM183 207h1v1h-1zM187 207h1v1h-1zM190 207h1v1h-1zM193 207h1v1h-1zM196 207h1v1h-1zM199 207h2v1h-2zM203 207h1v1h-1zM206 207h1v1h-1zM209 207h1v1h-1zM212 207h1v1h-1zM216 207h1v1h-1zM220 207h1v1h-1zM224 207h1v1h-1zM227 207h1v1h-1zM231 207h1v1h-1zM237 207h1v1h-1zM241 207h1v1h-1zM244 207h1v1h-1zM248 207h1v1h-1zM251 207h1v1h-1zM257 207h1v1h-1zM263 207h1v1h-1zM265 207h1v1h-1zM169 208h1v1h-1zM173 208h1v1h-1zM175 208h1v1h-1zM181 208h1v1h-1zM183 208h1v1h-1zM187 208h1v1h-1zM190 208h1v1h-1zM196 208h1v1h-1zM199 208h2v1h-2zM203 208h1v1h-1zM206 208h1v1h-1zM209 208h1v1h-1zM212 208h1v1h-1zM216 208h1v1h-1zM220 208h1v1h-1zM224 208h1v1h-1zM228 208h1v1h-1zM230 208h1v1h-1zM237 208h1v1h-1zM244 208h1v1h-1zM248 208h1v1h-1zM251 208h1v1h-1zM257 208h1v1h-1zM263 208h2v1h-2zM169 209h1v1h-1zM174 209h2v1h-2zM181 209h1v1h-1zM183 209h1v1h-1zM187 209h1v1h-1zM191 209h3v1h-3zM196 209h1v1h-1zM199 209h1v1h-1zM201 209h1v1h-1zM203 209h1v1h-1zM206 209h3v1h-3zM212 209h1v1h-1zM216 209h1v1h-1zM220 209h5v1h-5zM229 209h1v1h-1zM236 209h1v1h-1zM244 209h5v1h-5zM251 209h4v1h-4zM257 209h4v1h-4zM263 209h2v1h-2zM169 210h1v1h-1zM173 210h1v1h-1zM175 210h1v1h-1zM181 210h1v1h-1zM183 210h1v1h-1zM187 210h1v1h-1zM194 210h1v1h-1zM196 210h1v1h-1zM199 210h1v1h-1zM202 210h2v1h-2zM206 210h1v1h-1zM209 210h1v1h-1zM212 210h1v1h-1zM216 210h1v1h-1zM220 210h1v1h-1zM223 210h1v1h-1zM229 210h1v1h-1zM237 210h1v1h-1zM244 210h1v1h-1zM247 210h1v1h-1zM251 210h1v1h-1zM257 210h1v1h-1zM263 210h1v1h-1zM265 210h1v1h-1zM169 211h1v1h-1zM173 211h1v1h-1zM176 211h1v1h-1zM180 211h1v1h-1zM183 211h1v1h-1zM187 211h1v1h-1zM189 211h1v1h-1zM194 211h1v1h-1zM196 211h1v1h-1zM199 211h1v1h-1zM202 211h2v1h-2zM206 211h1v1h-1zM210 211h1v1h-1zM212 211h1v1h-1zM216 211h1v1h-1zM220 211h1v1h-1zM224 211h1v1h-1zM229 211h1v1h-1zM237 211h1v1h-1zM241 211h2v1h-2zM244 211h1v1h-1zM248 211h1v1h-1zM251 211h1v1h-1zM257 211h1v1h-1zM263 211h1v1h-1zM266 211h1v1h-1zM169 212h4v1h-4zM177 212h3v1h-3zM184 212h3v1h-3zM190 212h4v1h-4zM196 212h1v1h-1zM199 212h1v1h-1zM203 212h1v1h-1zM206 212h4v1h-4zM213 212h3v1h-3zM220 212h1v1h-1zM224 212h1v1h-1zM229 212h1v1h-1zM238 212h4v1h-4zM244 212h1v1h-1zM248 212h1v1h-1zM251 212h5v1h-5zM257 212h5v1h-5zM263 212h1v1h-1zM266 212h2v1h-2z"/>
<path d="M309 206h1v1h-1zM312 206h1v1h-1zM317 206h1v1h-1zM322 206h1v1h-1zM324 206h1v1h-1zM328 206h1v1h-1zM332 206h3v1h-3zM338 206h1v1h-1zM341 206h4v1h-4zM350 206h5v1h-5zM356 206h1v1h-1zM358 206h1v1h-1zM363 206h1v1h-1zM365 206h4v1h-4zM371 206h5v1h-5zM309 207h1v1h-1zM312 207h1v1h-1zM317 207h1v1h-1zM322 207h1v1h-1zM324 207h2v1h-2zM328 207h1v1h-1zM331 207h1v1h-1zM335 207h1v1h-1zM338 207h1v1h-1zM341 207h1v1h-1zM344 207h1v1h-1zM350 207h1v1h-1zM354 207h1v1h-1zM356 207h1v1h-1zM359 207h1v1h-1zM362 207h1v1h-1zM365 207h1v1h-1zM371 207h1v1h-1zM375 207h1v1h-1zM309 208h1v1h-1zM312 208h1v1h-1zM317 208h1v1h-1zM322 208h1v1h-1zM324 208h2v1h-2zM328 208h1v1h-1zM330 208h1v1h-1zM336 208h1v1h-1zM338 208h1v1h-1zM341 208h1v1h-1zM350 208h1v1h-1zM354 208h1v1h-1zM356 208h1v1h-1zM359 208h1v1h-1zM362 208h1v1h-1zM365 208h1v1h-1zM371 208h1v1h-1zM375 208h1v1h-1zM309 209h1v1h-1zM312 209h1v1h-1zM317 209h1v1h-1zM322 209h1v1h-1zM324 209h1v1h-1zM326 209h1v1h-1zM328 209h1v1h-1zM330 209h1v1h-1zM336 209h1v1h-1zM338 209h1v1h-1zM342 209h3v1h-3zM350 209h5v1h-5zM356 209h1v1h-1zM359 209h1v1h-1zM362 209h1v1h-1zM365 209h4v1h-4zM371 209h5v1h-5zM309 210h1v1h-1zM312 210h1v1h-1zM317 210h1v1h-1zM322 210h1v1h-1zM324 210h1v1h-1zM327 210h2v1h-2zM330 210h1v1h-1zM336 210h1v1h-1zM338 210h1v1h-1zM345 210h1v1h-1zM350 210h1v1h-1zM353 210h1v1h-1zM356 210h1v1h-1zM360 210h2v1h-2zM365 210h1v1h-1zM371 210h1v1h-1zM374 210h1v1h-1zM309 211h1v1h-1zM312 211h1v1h-1zM317 211h1v1h-1zM322 211h1v1h-1zM324 211h1v1h-1zM327 211h2v1h-2zM331 211h1v1h-1zM335 211h1v1h-1zM338 211h1v1h-1zM340 211h1v1h-1zM345 211h1v1h-1zM350 211h1v1h-1zM354 211h1v1h-1zM356 211h1v1h-1zM360 211h2v1h-2zM365 211h1v1h-1zM371 211h1v1h-1zM375 211h1v1h-1zM309 212h1v1h-1zM312 212h4v1h-4zM317 212h4v1h-4zM322 212h1v1h-1zM324 212h1v1h-1zM328 212h1v1h-1zM332 212h3v1h-3zM338 212h1v1h-1zM341 212h4v1h-4zM350 212h1v1h-1zM354 212h1v1h-1zM356 212h1v1h-1zM360 212h2v1h-2zM365 212h5v1h-5zM371 212h1v1h-1zM375 212h1v1h-1z"/>
<path d="M30 473h1v1h-1zM34 473h1v1h-1zM38 473h3v1h-3zM44 473h5v1h-5zM50 473h5v1h-5zM56 473h1v1h-1zM60 473h1v1h-1zM67 473h4v1h-4zM73 473h1v1h-1zM77 473h1v1h-1zM80 473h1v1h-1zM86 473h2v1h-2zM91 473h1v1h-1zM95 473h1v1h-1zM99 473h3v1h-3zM105 473h5v1h-5zM112 473h4v1h-4zM123 473h4v1h-4zM129 473h5v1h-5zM136 473h4v1h-4zM142 473h4v1h-4zM148 473h1v1h-1zM151 473h1v1h-1zM30 474h2v1h-2zM34 474h1v1h-1zM37 474h1v1h-1zM41 474h1v1h-1zM44 474h1v1h-1zM48 474h1v1h-1zM52 474h1v1h-1zM56 474h1v1h-1zM60 474h1v1h-1zM67 474h1v1h-1zM70 474h1v1h-1zM73 474h1v1h-1zM77 474h1v1h-1zM80 474h1v1h-1zM86 474h2v1h-2zM91 474h1v1h-1zM95 474h1v1h-1zM98 474h1v1h-1zM102 474h1v1h-1zM105 474h1v1h-1zM109 474h1v1h-1zM112 474h1v1h-1zM122 474h1v1h-1zM126 474h1v1h-1zM129 474h1v1h-1zM133 474h1v1h-1zM136 474h1v1h-1zM142 474h1v1h-1zM148 474h1v1h-1zM150 474h1v1h-1zM30 475h2v1h-2zM34 475h1v1h-1zM36 475h1v1h-1zM42 475h1v1h-1zM44 475h1v1h-1zM48 475h1v1h-1zM52 475h1v1h-1zM56 475h1v1h-1zM60 475h1v1h-1zM67 475h1v1h-1zM74 475h1v1h-1zM76 475h1v1h-1zM80 475h1v1h-1zM86 475h2v1h-2zM91 475h2v1h-2zM94 475h2v1h-2zM97 475h1v1h-1zM103 475h1v1h-1zM105 475h1v1h-1zM109 475h1v1h-1zM112 475h1v1h-1zM122 475h1v1h-1zM129 475h1v1h-1zM133 475h1v1h-1zM136 475h1v1h-1zM142 475h1v1h-1zM148 475h2v1h-2zM30 476h1v1h-1zM32 476h1v1h-1zM34 476h1v1h-1zM36 476h1v1h-1zM42 476h1v1h-1zM44 476h5v1h-5zM52 476h1v1h-1zM56 476h5v1h-5zM68 476h3v1h-3zM75 476h1v1h-1zM80 476h1v1h-1zM85 476h1v1h-1zM88 476h1v1h-1zM91 476h2v1h-2zM94 476h2v1h-2zM97 476h1v1h-1zM103 476h1v1h-1zM105 476h5v1h-5zM112 476h4v1h-4zM121 476h1v1h-1zM129 476h5v1h-5zM136 476h4v1h-4zM142 476h4v1h-4zM148 476h2v1h-2zM30 477h1v1h-1zM33 477h2v1h-2zM36 477h1v1h-1zM42 477h1v1h-1zM44 477h1v1h-1zM47 477h1v1h-1zM52 477h1v1h-1zM56 477h1v1h-1zM60 477h1v1h-1zM71 477h1v1h-1zM75 477h1v1h-1zM80 477h1v1h-1zM85 477h4v1h-4zM91 477h2v1h-2zM94 477h2v1h-2zM97 477h1v1h-1zM103 477h1v1h-1zM105 477h1v1h-1zM108 477h1v1h-1zM112 477h1v1h-1zM122 477h1v1h-1zM129 477h1v1h-1zM132 477h1v1h-1zM136 477h1v1h-1zM142 477h1v1h-1zM148 477h1v1h-1zM150 477h1v1h-1zM30 478h1v1h-1zM33 478h2v1h-2zM37 478h1v1h-1zM41 478h1v1h-1zM44 478h1v1h-1zM48 478h1v1h-1zM52 478h1v1h-1zM56 478h1v1h-1zM60 478h1v1h-1zM66 478h1v1h-1zM71 478h1v1h-1zM75 478h1v1h-1zM80 478h1v1h-1zM84 478h1v1h-1zM89 478h1v1h-1zM91 478h1v1h-1zM93 478h1v1h-1zM95 478h1v1h-1zM98 478h1v1h-1zM102 478h1v1h-1zM105 478h1v1h-1zM109 478h1v1h-1zM112 478h1v1h-1zM122 478h1v1h-1zM126 478h2v1h-2zM129 478h1v1h-1zM133 478h1v1h-1zM136 478h1v1h-1zM142 478h1v1h-1zM148 478h1v1h-1zM151 478h1v1h-1zM30 479h1v1h-1zM34 479h1v1h-1zM38 479h3v1h-3zM44 479h1v1h-1zM48 479h1v1h-1zM52 479h1v1h-1zM56 479h1v1h-1zM60 479h1v1h-1zM67 479h4v1h-4zM75 479h1v1h-1zM80 479h5v1h-5zM89 479h1v1h-1zM91 479h1v1h-1zM93 479h1v1h-1zM95 479h1v1h-1zM99 479h3v1h-3zM105 479h1v1h-1zM109 479h1v1h-1zM112 479h5v1h-5zM123 479h4v1h-4zM129 479h1v1h-1zM133 479h1v1h-1zM136 479h5v1h-5zM142 479h5v1h-5zM148 479h1v1h-1zM151 479h2v1h-2z"/>
<path d="M185 473h4v1h-4zM192 473h2v1h-2zM197 473h4v1h-4zM204 473h4v1h-4zM211 473h1v1h-1zM215 473h1v1h-1zM223 473h4v1h-4zM229 473h5v1h-5zM236 473h4v1h-4zM242 473h4v1h-4zM248 473h1v1h-1zM251 473h1v1h-1zM185 474h1v1h-1zM188 474h1v1h-1zM192 474h2v1h-2zM197 474h1v1h-1zM201 474h1v1h-1zM204 474h1v1h-1zM208 474h1v1h-1zM211 474h1v1h-1zM215 474h1v1h-1zM222 474h1v1h-1zM226 474h1v1h-1zM229 474h1v1h-1zM233 474h1v1h-1zM236 474h1v1h-1zM242 474h1v1h-1zM248 474h1v1h-1zM250 474h1v1h-1zM185 475h1v1h-1zM189 475h1v1h-1zM192 475h2v1h-2zM197 475h1v1h-1zM201 475h1v1h-1zM204 475h1v1h-1zM208 475h1v1h-1zM212 475h1v1h-1zM214 475h1v1h-1zM222 475h1v1h-1zM229 475h1v1h-1zM233 475h1v1h-1zM236 475h1v1h-1zM242 475h1v1h-1zM248 475h2v1h-2zM185 476h1v1h-1zM188 476h1v1h-1zM191 476h1v1h-1zM194 476h1v1h-1zM197 476h1v1h-1zM202 476h1v1h-1zM204 476h1v1h-1zM209 476h1v1h-1zM213 476h1v1h-1zM221 476h1v1h-1zM229 476h5v1h-5zM236 476h4v1h-4zM242 476h4v1h-4zM248 476h2v1h-2zM185 477h4v1h-4zM191 477h4v1h-4zM197 477h1v1h-1zM201 477h1v1h-1zM204 477h1v1h-1zM208 477h1v1h-1zM213 477h1v1h-1zM222 477h1v1h-1zM229 477h1v1h-1zM232 477h1v1h-1zM236 477h1v1h-1zM242 477h1v1h-1zM248 477h1v1h-1zM250 477h1v1h-1zM185 478h1v1h-1zM190 478h1v1h-1zM195 478h1v1h-1zM197 478h1v1h-1zM201 478h1v1h-1zM204 478h1v1h-1zM208 478h1v1h-1zM213 478h1v1h-1zM222 478h1v1h-1zM226 478h2v1h-2zM229 478h1v1h-1zM233 478h1v1h-1zM236 478h1v1h-1zM242 478h1v1h-1zM248 478h1v1h-1zM251 478h1v1h-1zM185 479h1v1h-1zM190 479h1v1h-1zM195 479h1v1h-1zM197 479h4v1h-4zM204 479h4v1h-4zM213 479h1v1h-1zM223 479h4v1h-4zM229 479h1v1h-1zM233 479h1v1h-1zM236 479h5v1h-5zM242 479h5v1h-5zM248 479h1v1h-1zM251 479h2v1h-2z"/>
<path d="M300 473h2v1h-2zM305 473h2v1h-2zM311 473h4v1h-4zM317 473h1v1h-1zM320 473h1v1h-1zM323 473h4v1h-4zM332 473h5v1h-5zM339 473h3v1h-3zM346 473h5v1h-5zM353 473h1v1h-1zM356 473h1v1h-1zM362 473h5v1h-5zM369 473h1v1h-1zM371 473h1v1h-1zM376 473h1v1h-1zM378 473h4v1h-4zM384 473h5v1h-5zM301 474h1v1h-1zM305 474h2v1h-2zM310 474h1v1h-1zM314 474h1v1h-1zM317 474h1v1h-1zM319 474h1v1h-1zM323 474h1v1h-1zM326 474h1v1h-1zM332 474h1v1h-1zM338 474h1v1h-1zM342 474h1v1h-1zM346 474h1v1h-1zM350 474h1v1h-1zM353 474h1v1h-1zM355 474h1v1h-1zM362 474h1v1h-1zM366 474h1v1h-1zM369 474h1v1h-1zM372 474h1v1h-1zM375 474h1v1h-1zM378 474h1v1h-1zM384 474h1v1h-1zM388 474h1v1h-1zM301 475h1v1h-1zM305 475h2v1h-2zM310 475h1v1h-1zM317 475h2v1h-2zM323 475h1v1h-1zM332 475h1v1h-1zM337 475h1v1h-1zM343 475h1v1h-1zM346 475h1v1h-1zM350 475h1v1h-1zM353 475h2v1h-2zM362 475h1v1h-1zM366 475h1v1h-1zM369 475h1v1h-1zM372 475h1v1h-1zM375 475h1v1h-1zM378 475h1v1h-1zM384 475h1v1h-1zM388 475h1v1h-1zM301 476h1v1h-1zM304 476h1v1h-1zM307 476h1v1h-1zM309 476h1v1h-1zM317 476h2v1h-2zM324 476h3v1h-3zM332 476h4v1h-4zM337 476h1v1h-1zM343 476h1v1h-1zM346 476h5v1h-5zM353 476h2v1h-2zM362 476h5v1h-5zM369 476h1v1h-1zM372 476h1v1h-1zM375 476h1v1h-1zM378 476h4v1h-4zM384 476h5v1h-5zM301 477h1v1h-1zM304 477h4v1h-4zM310 477h1v1h-1zM317 477h1v1h-1zM319 477h1v1h-1zM327 477h1v1h-1zM332 477h1v1h-1zM337 477h1v1h-1zM343 477h1v1h-1zM346 477h1v1h-1zM349 477h1v1h-1zM353 477h1v1h-1zM355 477h1v1h-1zM362 477h1v1h-1zM365 477h1v1h-1zM369 477h1v1h-1zM373 477h2v1h-2zM378 477h1v1h-1zM384 477h1v1h-1zM387 477h1v1h-1zM298 478h1v1h-1zM301 478h1v1h-1zM303 478h1v1h-1zM308 478h1v1h-1zM310 478h1v1h-1zM314 478h2v1h-2zM317 478h1v1h-1zM320 478h1v1h-1zM322 478h1v1h-1zM327 478h1v1h-1zM332 478h1v1h-1zM338 478h1v1h-1zM342 478h1v1h-1zM346 478h1v1h-1zM350 478h1v1h-1zM353 478h1v1h-1zM356 478h1v1h-1zM362 478h1v1h-1zM366 478h1v1h-1zM369 478h1v1h-1zM373 478h2v1h-2zM378 478h1v1h-1zM384 478h1v1h-1zM388 478h1v1h-1zM299 479h3v1h-3zM303 479h1v1h-1zM308 479h1v1h-1zM311 479h4v1h-4zM317 479h1v1h-1zM320 479h2v1h-2zM323 479h4v1h-4zM332 479h1v1h-1zM339 479h3v1h-3zM346 479h1v1h-1zM350 479h1v1h-1zM353 479h1v1h-1zM356 479h2v1h-2zM362 479h1v1h-1zM366 479h1v1h-1zM369 479h1v1h-1zM373 479h2v1h-2zM378 479h5v1h-5zM384 479h1v1h-1zM388 479h1v1h-1z"/>
<path d="M21 0h3v1h-3zM21 1h1v1h-1zM23 1h1v1h-1zM20 2h1v1h-1zM24 2h1v1h-1zM20 3h1v1h-1zM24 3h1v1h-1zM20 4h1v1h-1zM24 4h1v1h-1zM21 5h1v1h-1zM23 5h1v1h-1zM21 6h3v1h-3zM16 0h3v1h-3zM16 1h1v1h-1zM15 2h1v1h-1zM17 2h2v1h-2zM15 3h2v1h-2zM19 3h1v1h-1zM15 4h1v1h-1zM19 4h1v1h-1zM16 5h1v1h-1zM19 5h1v1h-1zM16 6h3v1h-3z"/>
<path d="M21 33h3v1h-3zM21 34h1v1h-1zM23 34h1v1h-1zM20 35h1v1h-1zM24 35h1v1h-1zM20 36h1v1h-1zM24 36h1v1h-1zM20 37h1v1h-1zM24 37h1v1h-1zM21 38h1v1h-1zM23 38h1v1h-1zM21 39h3v1h-3zM16 33h3v1h-3zM16 34h1v1h-1zM16 35h3v1h-3zM19 36h1v1h-1zM19 37h1v1h-1zM15 38h1v1h-1zM18 38h1v1h-1zM16 39h3v1h-3z"/>
<path d="M21 65h3v1h-3zM21 66h1v1h-1zM23 66h1v1h-1zM20 67h1v1h-1zM24 67h1v1h-1zM20 68h1v1h-1zM24 68h1v1h-1zM20 69h1v1h-1zM24 69h1v1h-1zM21 70h1v1h-1zM23 70h1v1h-1zM21 71h3v1h-3zM18 65h1v1h-1zM17 66h2v1h-2zM16 67h1v1h-1zM18 67h1v1h-1zM16 68h1v1h-1zM18 68h1v1h-1zM15 69h1v1h-1zM18 69h1v1h-1zM15 70h5v1h-5zM18 71h1v1h-1z"/>
<path d="M21 98h3v1h-3zM21 99h1v1h-1zM23 99h1v1h-1zM20 100h1v1h-1zM24 100h1v1h-1zM20 101h1v1h-1zM24 101h1v1h-1zM20 102h1v1h-1zM24 102h1v1h-1zM21 103h1v1h-1zM23 103h1v1h-1zM21 104h3v1h-3zM16 98h3v1h-3zM15 99h1v1h-1zM18 99h1v1h-1zM18 100h1v1h-1zM17 101h2v1h-2zM19 102h1v1h-1zM15 103h1v1h-1zM19 103h1v1h-1zM16 104h3v1h-3z"/>
<path d="M21 131h3v1h-3zM21 132h1v1h-1zM23 132h1v1h-1zM20 133h1v1h-1zM24 133h1v1h-1zM20 134h1v1h-1zM24 134h1v1h-1zM20 135h1v1h-1zM24 135h1v1h-1zM21 136h1v1h-1zM23 136h1v1h-1zM21 137h3v1h-3zM16 131h3v1h-3zM18 132h1v1h-1zM18 133h1v1h-1zM18 134h1v1h-1zM17 135h1v1h-1zM16 136h1v1h-1zM15 137h5v1h-5z"/>
<path d="M21 163h3v1h-3zM21 164h1v1h-1zM23 164h1v1h-1zM20 165h1v1h-1zM24 165h1v1h-1zM20 166h1v1h-1zM24 166h1v1h-1zM20 167h1v1h-1zM24 167h1v1h-1zM21 168h1v1h-1zM23 168h1v1h-1zM21 169h3v1h-3zM17 163h1v1h-1zM16 164h2v1h-2zM17 165h1v1h-1zM17 166h1v1h-1zM17 167h1v1h-1zM17 168h1v1h-1zM17 169h1v1h-1z"/>
<path d="M21 197h3v1h-3zM21 198h1v1h-1zM23 198h1v1h-1zM20 199h1v1h-1zM24 199h1v1h-1zM20 200h1v1h-1zM24 200h1v1h-1zM20 201h1v1h-1zM24 201h1v1h-1zM21 202h1v1h-1zM23 202h1v1h-1zM21 203h3v1h-3z"/>
<path d="M22 265h3v1h-3zM22 266h1v1h-1zM24 266h1v1h-1zM21 267h1v1h-1zM25 267h1v1h-1zM21 268h1v1h-1zM25 268h1v1h-1zM21 269h1v1h-1zM25 269h1v1h-1zM22 270h1v1h-1zM24 270h1v1h-1zM22 271h3v1h-3zM17 265h3v1h-3zM17 266h1v1h-1zM16 267h1v1h-1zM18 267h2v1h-2zM16 268h2v1h-2zM20 268h1v1h-1zM16 269h1v1h-1zM20 269h1v1h-1zM17 270h1v1h-1zM20 270h1v1h-1zM17 271h3v1h-3z"/>
<path d="M21 298h3v1h-3zM21 299h1v1h-1zM23 299h1v1h-1zM20 300h1v1h-1zM24 300h1v1h-1zM20 301h1v1h-1zM24 301h1v1h-1zM20 302h1v1h-1zM24 302h1v1h-1zM21 303h1v1h-1zM23 303h1v1h-1zM21 304h3v1h-3zM15 298h3v1h-3zM15 299h1v1h-1zM15 300h3v1h-3zM18 301h1v1h-1zM18 302h1v1h-1zM14 303h1v1h-1zM17 303h1v1h-1zM15 304h3v1h-3z"/>
<path d="M22 331h3v1h-3zM22 332h1v1h-1zM24 332h1v1h-1zM21 333h1v1h-1zM25 333h1v1h-1zM21 334h1v1h-1zM25 334h1v1h-1zM21 335h1v1h-1zM25 335h1v1h-1zM22 336h1v1h-1zM24 336h1v1h-1zM22 337h3v1h-3zM19 331h1v1h-1zM18 332h2v1h-2zM17 333h1v1h-1zM19 333h1v1h-1zM17 334h1v1h-1zM19 334h1v1h-1zM16 335h1v1h-1zM19 335h1v1h-1zM16 336h5v1h-5zM19 337h1v1h-1z"/>
<path d="M22 363h3v1h-3zM22 364h1v1h-1zM24 364h1v1h-1zM21 365h1v1h-1zM25 365h1v1h-1zM21 366h1v1h-1zM25 366h1v1h-1zM21 367h1v1h-1zM25 367h1v1h-1zM22 368h1v1h-1zM24 368h1v1h-1zM22 369h3v1h-3zM17 363h3v1h-3zM16 364h1v1h-1zM19 364h1v1h-1zM19 365h1v1h-1zM18 366h2v1h-2zM20 367h1v1h-1zM16 368h1v1h-1zM20 368h1v1h-1zM17 369h3v1h-3z"/>
<path d="M22 398h3v1h-3zM22 399h1v1h-1zM24 399h1v1h-1zM21 400h1v1h-1zM25 400h1v1h-1zM21 401h1v1h-1zM25 401h1v1h-1zM21 402h1v1h-1zM25 402h1v1h-1zM22 403h1v1h-1zM24 403h1v1h-1zM22 404h3v1h-3zM17 398h3v1h-3zM19 399h1v1h-1zM19 400h1v1h-1zM19 401h1v1h-1zM18 402h1v1h-1zM17 403h1v1h-1zM16 404h5v1h-5z"/>
<path d="M22 431h3v1h-3zM22 432h1v1h-1zM24 432h1v1h-1zM21 433h1v1h-1zM25 433h1v1h-1zM21 434h1v1h-1zM25 434h1v1h-1zM21 435h1v1h-1zM25 435h1v1h-1zM22 436h1v1h-1zM24 436h1v1h-1zM22 437h3v1h-3zM18 431h1v1h-1zM17 432h2v1h-2zM18 433h1v1h-1zM18 434h1v1h-1zM18 435h1v1h-1zM18 436h1v1h-1zM18 437h1v1h-1z"/>
<path d="M21 462h3v1h-3zM21 463h1v1h-1zM23 463h1v1h-1zM20 464h1v1h-1zM24 464h1v1h-1zM20 465h1v1h-1zM24 465h1v1h-1zM20 466h1v1h-1zM24 466h1v1h-1zM21 467h1v1h-1zM23 467h1v1h-1zM21 468h3v1h-3z"/>
<path d="M28 219h1v1h-1zM80 219h1v1h-1zM108 219h1v1h-1zM124 219h1v1h-1zM146 219h1v1h-1zM152 219h1v1h-1zM169 219h1v1h-1zM195 219h1v1h-1zM241 219h1v1h-1zM295 219h1v1h-1zM299 219h1v1h-1zM353 219h1v1h-1zM356 219h1v1h-1zM28 220h1v1h-1zM45 220h1v1h-1zM124 220h1v1h-1zM127 220h1v1h-1zM146 220h1v1h-1zM152 220h1v1h-1zM195 220h1v1h-1zM264 220h1v1h-1zM295 220h1v1h-1zM299 220h1v1h-1zM353 220h1v1h-1zM356 220h1v1h-1zM28 221h1v1h-1zM31 221h4v1h-4zM41 221h2v1h-2zM44 221h3v1h-3zM48 221h2v1h-2zM51 221h4v1h-4zM57 221h4v1h-4zM64 221h7v1h-7zM73 221h2v1h-2zM80 221h1v1h-1zM83 221h4v1h-4zM93 221h4v1h-4zM99 221h4v1h-4zM105 221h2v1h-2zM108 221h1v1h-1zM112 221h4v1h-4zM118 221h1v1h-1zM121 221h1v1h-1zM124 221h1v1h-1zM126 221h3v1h-3zM130 221h1v1h-1zM133 221h1v1h-1zM137 221h2v1h-2zM140 221h4v1h-4zM146 221h1v1h-1zM152 221h4v1h-4zM159 221h4v1h-4zM165 221h2v1h-2zM169 221h1v1h-1zM172 221h4v1h-4zM178 221h2v1h-2zM189 221h4v1h-4zM195 221h1v1h-1zM199 221h4v1h-4zM205 221h4v1h-4zM211 221h4v1h-4zM220 221h4v1h-4zM227 221h2v1h-2zM230 221h4v1h-4zM236 221h3v1h-3zM241 221h1v1h-1zM244 221h4v1h-4zM251 221h4v1h-4zM260 221h2v1h-2zM263 221h3v1h-3zM267 221h4v1h-4zM274 221h4v1h-4zM280 221h4v1h-4zM286 221h2v1h-2zM289 221h4v1h-4zM295 221h1v1h-1zM299 221h1v1h-1zM302 221h4v1h-4zM308 221h2v1h-2zM311 221h2v1h-2zM319 221h4v1h-4zM325 221h4v1h-4zM331 221h4v1h-4zM337 221h4v1h-4zM343 221h2v1h-2zM347 221h4v1h-4zM353 221h1v1h-1zM356 221h1v1h-1zM358 221h1v1h-1zM362 221h1v1h-1zM368 221h4v1h-4zM374 221h2v1h-2zM377 221h4v1h-4zM28 222h1v1h-1zM31 222h1v1h-1zM34 222h1v1h-1zM40 222h1v1h-1zM45 222h1v1h-1zM48 222h1v1h-1zM51 222h1v1h-1zM54 222h1v1h-1zM60 222h1v1h-1zM64 222h1v1h-1zM67 222h1v1h-1zM70 222h1v1h-1zM72 222h1v1h-1zM80 222h1v1h-1zM83 222h1v1h-1zM86 222h1v1h-1zM96 222h1v1h-1zM99 222h1v1h-1zM102 222h1v1h-1zM105 222h1v1h-1zM108 222h1v1h-1zM112 222h1v1h-1zM116 222h1v1h-1zM118 222h1v1h-1zM121 222h1v1h-1zM124 222h1v1h-1zM127 222h1v1h-1zM130 222h1v1h-1zM133 222h1v1h-1zM137 222h1v1h-1zM143 222h1v1h-1zM146 222h1v1h-1zM152 222h1v1h-1zM155 222h1v1h-1zM162 222h1v1h-1zM164 222h1v1h-1zM169 222h1v1h-1zM172 222h1v1h-1zM175 222h1v1h-1zM177 222h1v1h-1zM192 222h1v1h-1zM195 222h1v1h-1zM199 222h1v1h-1zM202 222h1v1h-1zM208 222h1v1h-1zM211 222h1v1h-1zM214 222h1v1h-1zM220 222h1v1h-1zM223 222h1v1h-1zM227 222h1v1h-1zM233 222h1v1h-1zM238 222h1v1h-1zM241 222h1v1h-1zM244 222h1v1h-1zM247 222h1v1h-1zM251 222h1v1h-1zM254 222h1v1h-1zM259 222h1v1h-1zM264 222h1v1h-1zM267 222h1v1h-1zM270 222h1v1h-1zM274 222h1v1h-1zM277 222h1v1h-1zM280 222h1v1h-1zM283 222h1v1h-1zM286 222h1v1h-1zM289 222h1v1h-1zM292 222h1v1h-1zM295 222h1v1h-1zM299 222h1v1h-1zM302 222h1v1h-1zM305 222h1v1h-1zM308 222h1v1h-1zM310 222h1v1h-1zM319 222h1v1h-1zM322 222h1v1h-1zM325 222h1v1h-1zM328 222h1v1h-1zM331 222h1v1h-1zM334 222h1v1h-1zM337 222h1v1h-1zM340 222h1v1h-1zM343 222h1v1h-1zM350 222h1v1h-1zM353 222h1v1h-1zM356 222h1v1h-1zM359 222h1v1h-1zM362 222h1v1h-1zM371 222h1v1h-1zM374 222h1v1h-1zM377 222h1v1h-1zM380 222h1v1h-1zM28 223h1v1h-1zM31 223h1v1h-1zM34 223h1v1h-1zM41 223h1v1h-1zM45 223h1v1h-1zM48 223h1v1h-1zM50 223h6v1h-6zM57 223h4v1h-4zM64 223h1v1h-1zM67 223h1v1h-1zM70 223h1v1h-1zM73 223h1v1h-1zM80 223h1v1h-1zM83 223h1v1h-1zM86 223h1v1h-1zM93 223h4v1h-4zM98 223h1v1h-1zM102 223h1v1h-1zM105 223h1v1h-1zM108 223h1v1h-1zM111 223h1v1h-1zM118 223h1v1h-1zM121 223h1v1h-1zM124 223h1v1h-1zM127 223h1v1h-1zM130 223h1v1h-1zM133 223h1v1h-1zM137 223h1v1h-1zM140 223h4v1h-4zM146 223h1v1h-1zM152 223h1v1h-1zM156 223h1v1h-1zM159 223h4v1h-4zM165 223h1v1h-1zM169 223h1v1h-1zM172 223h1v1h-1zM175 223h1v1h-1zM178 223h1v1h-1zM189 223h4v1h-4zM195 223h1v1h-1zM198 223h1v1h-1zM202 223h1v1h-1zM205 223h4v1h-4zM210 223h10v1h-10zM223 223h1v1h-1zM227 223h1v1h-1zM230 223h4v1h-4zM237 223h1v1h-1zM241 223h1v1h-1zM244 223h1v1h-1zM247 223h1v1h-1zM250 223h1v1h-1zM254 223h1v1h-1zM260 223h1v1h-1zM264 223h1v1h-1zM266 223h1v1h-1zM271 223h1v1h-1zM274 223h1v1h-1zM277 223h1v1h-1zM279 223h6v1h-6zM286 223h1v1h-1zM288 223h1v1h-1zM293 223h1v1h-1zM295 223h1v1h-1zM299 223h1v1h-1zM301 223h6v1h-6zM308 223h1v1h-1zM311 223h1v1h-1zM318 223h1v1h-1zM322 223h1v1h-1zM324 223h6v1h-6zM331 223h1v1h-1zM334 223h1v1h-1zM336 223h6v1h-6zM343 223h1v1h-1zM347 223h4v1h-4zM353 223h1v1h-1zM356 223h1v1h-1zM359 223h1v1h-1zM361 223h1v1h-1zM368 223h4v1h-4zM374 223h1v1h-1zM376 223h6v1h-6zM28 224h1v1h-1zM31 224h1v1h-1zM34 224h1v1h-1zM42 224h2v1h-2zM45 224h1v1h-1zM48 224h1v1h-1zM50 224h1v1h-1zM57 224h1v1h-1zM60 224h1v1h-1zM64 224h1v1h-1zM67 224h1v1h-1zM70 224h1v1h-1zM74 224h2v1h-2zM80 224h1v1h-1zM83 224h1v1h-1zM86 224h1v1h-1zM93 224h1v1h-1zM96 224h1v1h-1zM98 224h1v1h-1zM102 224h1v1h-1zM105 224h1v1h-1zM108 224h1v1h-1zM111 224h1v1h-1zM118 224h1v1h-1zM121 224h1v1h-1zM124 224h1v1h-1zM127 224h1v1h-1zM130 224h1v1h-1zM133 224h1v1h-1zM137 224h1v1h-1zM140 224h1v1h-1zM143 224h1v1h-1zM146 224h1v1h-1zM152 224h1v1h-1zM156 224h1v1h-1zM159 224h1v1h-1zM162 224h1v1h-1zM166 224h2v1h-2zM169 224h1v1h-1zM172 224h1v1h-1zM175 224h1v1h-1zM179 224h2v1h-2zM189 224h1v1h-1zM192 224h1v1h-1zM195 224h1v1h-1zM198 224h1v1h-1zM202 224h1v1h-1zM205 224h1v1h-1zM208 224h1v1h-1zM210 224h1v1h-1zM219 224h1v1h-1zM223 224h1v1h-1zM227 224h1v1h-1zM230 224h1v1h-1zM233 224h1v1h-1zM237 224h1v1h-1zM241 224h1v1h-1zM244 224h1v1h-1zM247 224h1v1h-1zM250 224h1v1h-1zM254 224h1v1h-1zM261 224h2v1h-2zM264 224h1v1h-1zM266 224h1v1h-1zM271 224h1v1h-1zM274 224h1v1h-1zM277 224h1v1h-1zM279 224h1v1h-1zM286 224h1v1h-1zM288 224h1v1h-1zM293 224h1v1h-1zM295 224h1v1h-1zM299 224h1v1h-1zM301 224h1v1h-1zM308 224h1v1h-1zM312 224h2v1h-2zM318 224h1v1h-1zM322 224h1v1h-1zM324 224h1v1h-1zM331 224h1v1h-1zM334 224h1v1h-1zM336 224h1v1h-1zM343 224h1v1h-1zM347 224h1v1h-1zM350 224h1v1h-1zM353 224h1v1h-1zM356 224h1v1h-1zM359 224h1v1h-1zM361 224h1v1h-1zM368 224h1v1h-1zM371 224h1v1h-1zM374 224h1v1h-1zM376 224h1v1h-1zM28 225h1v1h-1zM31 225h1v1h-1zM34 225h1v1h-1zM40 225h1v1h-1zM43 225h1v1h-1zM45 225h1v1h-1zM48 225h1v1h-1zM51 225h1v1h-1zM54 225h1v1h-1zM56 225h1v1h-1zM60 225h1v1h-1zM64 225h1v1h-1zM67 225h1v1h-1zM70 225h1v1h-1zM72 225h1v1h-1zM75 225h1v1h-1zM80 225h1v1h-1zM83 225h1v1h-1zM86 225h1v1h-1zM92 225h1v1h-1zM96 225h1v1h-1zM99 225h1v1h-1zM102 225h1v1h-1zM105 225h1v1h-1zM108 225h1v1h-1zM112 225h1v1h-1zM116 225h1v1h-1zM118 225h1v1h-1zM121 225h1v1h-1zM124 225h1v1h-1zM127 225h1v1h-1zM130 225h1v1h-1zM133 225h1v1h-1zM137 225h1v1h-1zM139 225h1v1h-1zM143 225h1v1h-1zM146 225h1v1h-1zM152 225h1v1h-1zM155 225h1v1h-1zM158 225h1v1h-1zM162 225h1v1h-1zM164 225h1v1h-1zM167 225h1v1h-1zM169 225h1v1h-1zM172 225h1v1h-1zM175 225h1v1h-1zM177 225h1v1h-1zM180 225h1v1h-1zM188 225h1v1h-1zM192 225h1v1h-1zM195 225h1v1h-1zM199 225h1v1h-1zM202 225h1v1h-1zM204 225h1v1h-1zM208 225h1v1h-1zM211 225h1v1h-1zM214 225h1v1h-1zM220 225h1v1h-1zM223 225h1v1h-1zM227 225h1v1h-1zM229 225h1v1h-1zM233 225h1v1h-1zM236 225h1v1h-1zM241 225h1v1h-1zM244 225h1v1h-1zM247 225h1v1h-1zM251 225h1v1h-1zM254 225h1v1h-1zM259 225h1v1h-1zM262 225h1v1h-1zM264 225h1v1h-1zM267 225h1v1h-1zM270 225h1v1h-1zM274 225h1v1h-1zM277 225h1v1h-1zM280 225h1v1h-1zM283 225h1v1h-1zM286 225h1v1h-1zM289 225h1v1h-1zM292 225h1v1h-1zM295 225h1v1h-1zM299 225h1v1h-1zM302 225h1v1h-1zM305 225h1v1h-1zM308 225h1v1h-1zM310 225h1v1h-1zM313 225h1v1h-1zM319 225h1v1h-1zM322 225h1v1h-1zM325 225h1v1h-1zM328 225h1v1h-1zM331 225h1v1h-1zM334 225h1v1h-1zM337 225h1v1h-1zM340 225h1v1h-1zM343 225h1v1h-1zM346 225h1v1h-1zM350 225h1v1h-1zM353 225h1v1h-1zM356 225h1v1h-1zM360 225h1v1h-1zM367 225h1v1h-1zM371 225h1v1h-1zM374 225h1v1h-1zM377 225h1v1h-1zM380 225h1v1h-1zM28 226h1v1h-1zM31 226h1v1h-1zM34 226h1v1h-1zM41 226h2v1h-2zM45 226h2v1h-2zM48 226h1v1h-1zM51 226h4v1h-4zM57 226h5v1h-5zM64 226h1v1h-1zM67 226h1v1h-1zM70 226h1v1h-1zM73 226h2v1h-2zM80 226h1v1h-1zM83 226h1v1h-1zM86 226h1v1h-1zM93 226h5v1h-5zM99 226h4v1h-4zM105 226h1v1h-1zM108 226h1v1h-1zM112 226h4v1h-4zM118 226h4v1h-4zM124 226h1v1h-1zM127 226h2v1h-2zM130 226h4v1h-4zM137 226h1v1h-1zM140 226h5v1h-5zM146 226h1v1h-1zM152 226h4v1h-4zM159 226h5v1h-5zM165 226h2v1h-2zM169 226h1v1h-1zM172 226h1v1h-1zM175 226h1v1h-1zM178 226h2v1h-2zM183 226h1v1h-1zM189 226h5v1h-5zM195 226h1v1h-1zM199 226h4v1h-4zM205 226h5v1h-5zM211 226h4v1h-4zM220 226h4v1h-4zM227 226h1v1h-1zM230 226h10v1h-10zM241 226h1v1h-1zM244 226h1v1h-1zM247 226h1v1h-1zM251 226h4v1h-4zM260 226h2v1h-2zM264 226h2v1h-2zM267 226h4v1h-4zM274 226h1v1h-1zM277 226h1v1h-1zM280 226h4v1h-4zM286 226h1v1h-1zM289 226h4v1h-4zM295 226h1v1h-1zM299 226h1v1h-1zM302 226h4v1h-4zM308 226h1v1h-1zM311 226h2v1h-2zM319 226h4v1h-4zM325 226h4v1h-4zM331 226h1v1h-1zM334 226h1v1h-1zM337 226h4v1h-4zM343 226h1v1h-1zM347 226h5v1h-5zM353 226h1v1h-1zM356 226h1v1h-1zM360 226h1v1h-1zM368 226h5v1h-5zM374 226h1v1h-1zM377 226h4v1h-4zM102 227h1v1h-1zM183 227h1v1h-1zM202 227h1v1h-1zM223 227h1v1h-1zM254 227h1v1h-1zM322 227h1v1h-1zM360 227h1v1h-1zM99 228h4v1h-4zM183 228h1v1h-1zM199 228h4v1h-4zM220 228h4v1h-4zM251 228h4v1h-4zM319 228h4v1h-4zM358 228h2v1h-2z"/>
<path d="M32 230h1v1h-1zM80 230h1v1h-1zM101 230h1v1h-1zM153 230h2v1h-2zM159 230h2v1h-2zM163 230h1v1h-1zM170 230h1v1h-1zM183 230h4v1h-4zM219 230h1v1h-1zM222 230h1v1h-1zM236 230h4v1h-4zM243 230h4v1h-4zM264 230h4v1h-4zM271 230h4v1h-4zM326 230h2v1h-2zM336 230h1v1h-1zM351 230h2v1h-2zM355 230h1v1h-1zM362 230h1v1h-1zM29 231h1v1h-1zM32 231h1v1h-1zM67 231h1v1h-1zM80 231h1v1h-1zM101 231h1v1h-1zM117 231h1v1h-1zM123 231h1v1h-1zM153 231h1v1h-1zM159 231h1v1h-1zM170 231h1v1h-1zM182 231h1v1h-1zM187 231h1v1h-1zM219 231h1v1h-1zM222 231h1v1h-1zM236 231h1v1h-1zM239 231h1v1h-1zM243 231h1v1h-1zM246 231h1v1h-1zM252 231h1v1h-1zM264 231h1v1h-1zM271 231h1v1h-1zM274 231h1v1h-1zM314 231h1v1h-1zM326 231h1v1h-1zM333 231h1v1h-1zM336 231h1v1h-1zM351 231h1v1h-1zM362 231h1v1h-1zM28 232h3v1h-3zM32 232h4v1h-4zM38 232h4v1h-4zM48 232h7v1h-7zM57 232h4v1h-4zM63 232h2v1h-2zM66 232h3v1h-3zM74 232h4v1h-4zM80 232h4v1h-4zM86 232h1v1h-1zM89 232h1v1h-1zM92 232h4v1h-4zM98 232h4v1h-4zM104 232h4v1h-4zM111 232h4v1h-4zM116 232h3v1h-3zM122 232h4v1h-4zM129 232h1v1h-1zM131 232h4v1h-4zM138 232h4v1h-4zM147 232h4v1h-4zM152 232h3v1h-3zM158 232h3v1h-3zM163 232h1v1h-1zM166 232h2v1h-2zM170 232h4v1h-4zM182 232h1v1h-1zM191 232h4v1h-4zM197 232h4v1h-4zM203 232h4v1h-4zM209 232h2v1h-2zM212 232h4v1h-4zM219 232h1v1h-1zM222 232h1v1h-1zM224 232h1v1h-1zM228 232h1v1h-1zM239 232h1v1h-1zM242 232h1v1h-1zM247 232h1v1h-1zM251 232h3v1h-3zM255 232h4v1h-4zM264 232h1v1h-1zM270 232h1v1h-1zM275 232h1v1h-1zM280 232h4v1h-4zM286 232h4v1h-4zM292 232h2v1h-2zM295 232h4v1h-4zM302 232h4v1h-4zM308 232h4v1h-4zM313 232h3v1h-3zM320 232h4v1h-4zM325 232h3v1h-3zM332 232h3v1h-3zM336 232h4v1h-4zM342 232h4v1h-4zM350 232h3v1h-3zM355 232h1v1h-1zM358 232h2v1h-2zM362 232h4v1h-4zM29 233h1v1h-1zM32 233h1v1h-1zM35 233h1v1h-1zM38 233h1v1h-1zM41 233h1v1h-1zM48 233h1v1h-1zM51 233h1v1h-1zM54 233h1v1h-1zM57 233h1v1h-1zM60 233h1v1h-1zM62 233h1v1h-1zM67 233h1v1h-1zM77 233h1v1h-1zM80 233h1v1h-1zM83 233h1v1h-1zM86 233h1v1h-1zM89 233h1v1h-1zM92 233h1v1h-1zM95 233h1v1h-1zM98 233h1v1h-1zM101 233h1v1h-1zM107 233h1v1h-1zM111 233h1v1h-1zM114 233h1v1h-1zM117 233h1v1h-1zM123 233h1v1h-1zM126 233h1v1h-1zM129 233h1v1h-1zM131 233h1v1h-1zM134 233h1v1h-1zM138 233h1v1h-1zM141 233h1v1h-1zM147 233h1v1h-1zM150 233h1v1h-1zM153 233h1v1h-1zM159 233h1v1h-1zM163 233h1v1h-1zM165 233h1v1h-1zM170 233h1v1h-1zM173 233h1v1h-1zM182 233h1v1h-1zM191 233h1v1h-1zM194 233h1v1h-1zM197 233h1v1h-1zM200 233h1v1h-1zM203 233h1v1h-1zM206 233h1v1h-1zM209 233h1v1h-1zM215 233h1v1h-1zM219 233h1v1h-1zM222 233h1v1h-1zM225 233h1v1h-1zM228 233h1v1h-1zM239 233h1v1h-1zM242 233h1v1h-1zM247 233h1v1h-1zM252 233h1v1h-1zM255 233h1v1h-1zM258 233h1v1h-1zM264 233h4v1h-4zM270 233h1v1h-1zM275 233h1v1h-1zM280 233h1v1h-1zM283 233h1v1h-1zM286 233h1v1h-1zM289 233h1v1h-1zM292 233h1v1h-1zM295 233h1v1h-1zM299 233h1v1h-1zM302 233h1v1h-1zM305 233h1v1h-1zM308 233h1v1h-1zM311 233h1v1h-1zM314 233h1v1h-1zM320 233h1v1h-1zM323 233h1v1h-1zM326 233h1v1h-1zM333 233h1v1h-1zM336 233h1v1h-1zM339 233h1v1h-1zM342 233h1v1h-1zM345 233h1v1h-1zM351 233h1v1h-1zM355 233h1v1h-1zM357 233h1v1h-1zM362 233h1v1h-1zM365 233h1v1h-1zM29 234h1v1h-1zM32 234h1v1h-1zM35 234h1v1h-1zM37 234h6v1h-6zM48 234h1v1h-1zM51 234h1v1h-1zM54 234h1v1h-1zM56 234h1v1h-1zM61 234h1v1h-1zM63 234h1v1h-1zM67 234h1v1h-1zM74 234h4v1h-4zM80 234h1v1h-1zM84 234h1v1h-1zM86 234h1v1h-1zM89 234h1v1h-1zM92 234h1v1h-1zM95 234h1v1h-1zM97 234h1v1h-1zM101 234h1v1h-1zM104 234h4v1h-4zM111 234h1v1h-1zM114 234h1v1h-1zM117 234h1v1h-1zM123 234h1v1h-1zM126 234h1v1h-1zM128 234h1v1h-1zM131 234h1v1h-1zM135 234h1v1h-1zM137 234h6v1h-6zM146 234h1v1h-1zM151 234h1v1h-1zM153 234h1v1h-1zM159 234h1v1h-1zM163 234h1v1h-1zM166 234h1v1h-1zM170 234h1v1h-1zM173 234h1v1h-1zM182 234h1v1h-1zM185 234h3v1h-3zM190 234h6v1h-6zM197 234h1v1h-1zM200 234h1v1h-1zM202 234h6v1h-6zM209 234h1v1h-1zM212 234h4v1h-4zM219 234h1v1h-1zM222 234h1v1h-1zM225 234h1v1h-1zM227 234h1v1h-1zM238 234h1v1h-1zM242 234h1v1h-1zM247 234h1v1h-1zM252 234h1v1h-1zM254 234h1v1h-1zM259 234h1v1h-1zM264 234h1v1h-1zM267 234h1v1h-1zM270 234h1v1h-1zM275 234h1v1h-1zM280 234h1v1h-1zM284 234h7v1h-7zM292 234h1v1h-1zM294 234h1v1h-1zM301 234h6v1h-6zM308 234h1v1h-1zM311 234h1v1h-1zM314 234h1v1h-1zM319 234h1v1h-1zM324 234h1v1h-1zM326 234h1v1h-1zM333 234h1v1h-1zM336 234h1v1h-1zM339 234h1v1h-1zM341 234h6v1h-6zM351 234h1v1h-1zM355 234h1v1h-1zM358 234h1v1h-1zM362 234h1v1h-1zM365 234h1v1h-1zM29 235h1v1h-1zM32 235h1v1h-1zM35 235h1v1h-1zM37 235h1v1h-1zM48 235h1v1h-1zM51 235h1v1h-1zM54 235h1v1h-1zM56 235h1v1h-1zM61 235h1v1h-1zM64 235h2v1h-2zM67 235h1v1h-1zM74 235h1v1h-1zM77 235h1v1h-1zM80 235h1v1h-1zM84 235h1v1h-1zM86 235h1v1h-1zM89 235h1v1h-1zM92 235h1v1h-1zM95 235h1v1h-1zM97 235h1v1h-1zM101 235h1v1h-1zM104 235h1v1h-1zM107 235h1v1h-1zM111 235h1v1h-1zM114 235h1v1h-1zM117 235h1v1h-1zM123 235h1v1h-1zM126 235h1v1h-1zM128 235h1v1h-1zM131 235h1v1h-1zM135 235h1v1h-1zM137 235h1v1h-1zM146 235h1v1h-1zM151 235h1v1h-1zM153 235h1v1h-1zM159 235h1v1h-1zM163 235h1v1h-1zM167 235h2v1h-2zM170 235h1v1h-1zM173 235h1v1h-1zM182 235h1v1h-1zM187 235h1v1h-1zM190 235h1v1h-1zM197 235h1v1h-1zM200 235h1v1h-1zM202 235h1v1h-1zM209 235h1v1h-1zM212 235h1v1h-1zM215 235h1v1h-1zM219 235h1v1h-1zM222 235h1v1h-1zM225 235h1v1h-1zM227 235h1v1h-1zM237 235h1v1h-1zM242 235h1v1h-1zM246 235h1v1h-1zM252 235h1v1h-1zM254 235h1v1h-1zM259 235h1v1h-1zM268 235h1v1h-1zM270 235h1v1h-1zM274 235h1v1h-1zM280 235h1v1h-1zM284 235h2v1h-2zM292 235h1v1h-1zM294 235h1v1h-1zM301 235h1v1h-1zM308 235h1v1h-1zM311 235h1v1h-1zM314 235h1v1h-1zM319 235h1v1h-1zM324 235h1v1h-1zM326 235h1v1h-1zM333 235h1v1h-1zM336 235h1v1h-1zM339 235h1v1h-1zM341 235h1v1h-1zM351 235h1v1h-1zM355 235h1v1h-1zM359 235h2v1h-2zM362 235h1v1h-1zM365 235h1v1h-1zM29 236h1v1h-1zM32 236h1v1h-1zM35 236h1v1h-1zM38 236h1v1h-1zM41 236h1v1h-1zM48 236h1v1h-1zM51 236h1v1h-1zM54 236h1v1h-1zM57 236h1v1h-1zM60 236h1v1h-1zM62 236h1v1h-1zM65 236h1v1h-1zM67 236h1v1h-1zM73 236h1v1h-1zM77 236h1v1h-1zM80 236h1v1h-1zM83 236h1v1h-1zM86 236h1v1h-1zM89 236h1v1h-1zM92 236h1v1h-1zM95 236h1v1h-1zM98 236h1v1h-1zM101 236h1v1h-1zM103 236h1v1h-1zM107 236h1v1h-1zM111 236h1v1h-1zM114 236h1v1h-1zM117 236h1v1h-1zM123 236h1v1h-1zM127 236h1v1h-1zM131 236h1v1h-1zM134 236h1v1h-1zM138 236h1v1h-1zM141 236h1v1h-1zM147 236h1v1h-1zM150 236h1v1h-1zM153 236h1v1h-1zM159 236h1v1h-1zM163 236h1v1h-1zM165 236h1v1h-1zM168 236h1v1h-1zM170 236h1v1h-1zM173 236h1v1h-1zM182 236h1v1h-1zM187 236h1v1h-1zM191 236h1v1h-1zM194 236h1v1h-1zM197 236h1v1h-1zM200 236h1v1h-1zM203 236h1v1h-1zM206 236h1v1h-1zM209 236h1v1h-1zM211 236h1v1h-1zM215 236h1v1h-1zM219 236h1v1h-1zM222 236h1v1h-1zM226 236h1v1h-1zM236 236h1v1h-1zM243 236h1v1h-1zM246 236h1v1h-1zM252 236h1v1h-1zM255 236h1v1h-1zM258 236h1v1h-1zM264 236h1v1h-1zM267 236h1v1h-1zM271 236h1v1h-1zM274 236h1v1h-1zM280 236h1v1h-1zM283 236h1v1h-1zM286 236h1v1h-1zM289 236h1v1h-1zM292 236h1v1h-1zM295 236h1v1h-1zM299 236h1v1h-1zM302 236h1v1h-1zM305 236h1v1h-1zM308 236h1v1h-1zM311 236h1v1h-1zM314 236h1v1h-1zM320 236h1v1h-1zM323 236h1v1h-1zM326 236h1v1h-1zM333 236h1v1h-1zM336 236h1v1h-1zM339 236h1v1h-1zM342 236h1v1h-1zM345 236h1v1h-1zM351 236h1v1h-1zM355 236h1v1h-1zM357 236h1v1h-1zM360 236h1v1h-1zM362 236h1v1h-1zM365 236h1v1h-1zM29 237h2v1h-2zM32 237h1v1h-1zM35 237h1v1h-1zM38 237h4v1h-4zM48 237h1v1h-1zM51 237h1v1h-1zM54 237h1v1h-1zM57 237h4v1h-4zM63 237h2v1h-2zM67 237h2v1h-2zM74 237h5v1h-5zM80 237h4v1h-4zM86 237h4v1h-4zM92 237h1v1h-1zM95 237h1v1h-1zM98 237h4v1h-4zM104 237h5v1h-5zM111 237h1v1h-1zM114 237h1v1h-1zM117 237h2v1h-2zM123 237h2v1h-2zM127 237h1v1h-1zM131 237h4v1h-4zM138 237h4v1h-4zM147 237h4v1h-4zM153 237h1v1h-1zM159 237h1v1h-1zM163 237h1v1h-1zM166 237h2v1h-2zM170 237h1v1h-1zM173 237h1v1h-1zM176 237h1v1h-1zM183 237h4v1h-4zM191 237h4v1h-4zM197 237h1v1h-1zM200 237h1v1h-1zM203 237h4v1h-4zM209 237h1v1h-1zM212 237h5v1h-5zM219 237h1v1h-1zM222 237h1v1h-1zM226 237h1v1h-1zM230 237h1v1h-1zM236 237h4v1h-4zM244 237h2v1h-2zM252 237h2v1h-2zM255 237h4v1h-4zM264 237h4v1h-4zM272 237h2v1h-2zM280 237h4v1h-4zM286 237h4v1h-4zM292 237h1v1h-1zM295 237h4v1h-4zM302 237h4v1h-4zM308 237h1v1h-1zM311 237h1v1h-1zM314 237h2v1h-2zM320 237h4v1h-4zM326 237h1v1h-1zM333 237h2v1h-2zM336 237h1v1h-1zM339 237h1v1h-1zM342 237h4v1h-4zM351 237h1v1h-1zM355 237h1v1h-1zM358 237h2v1h-2zM362 237h1v1h-1zM365 237h1v1h-1zM127 238h1v1h-1zM131 238h1v1h-1zM226 238h1v1h-1zM230 238h1v1h-1zM280 238h1v1h-1zM125 239h2v1h-2zM131 239h1v1h-1zM224 239h2v1h-2zM230 239h1v1h-1zM280 239h1v1h-1z"/>
<path d="M84 241h1v1h-1zM87 241h1v1h-1zM52 242h1v1h-1zM84 242h1v1h-1zM87 242h1v1h-1zM29 243h4v1h-4zM35 243h2v1h-2zM38 243h4v1h-4zM48 243h2v1h-2zM51 243h3v1h-3zM56 243h4v1h-4zM62 243h4v1h-4zM68 243h4v1h-4zM74 243h2v1h-2zM77 243h4v1h-4zM84 243h1v1h-1zM87 243h1v1h-1zM90 243h4v1h-4zM97 243h2v1h-2zM100 243h2v1h-2zM32 244h1v1h-1zM35 244h1v1h-1zM38 244h1v1h-1zM41 244h1v1h-1zM47 244h1v1h-1zM52 244h1v1h-1zM56 244h1v1h-1zM59 244h1v1h-1zM62 244h1v1h-1zM65 244h1v1h-1zM68 244h1v1h-1zM71 244h1v1h-1zM74 244h1v1h-1zM77 244h1v1h-1zM80 244h1v1h-1zM84 244h1v1h-1zM87 244h1v1h-1zM90 244h1v1h-1zM93 244h1v1h-1zM97 244h1v1h-1zM99 244h1v1h-1zM29 245h4v1h-4zM35 245h1v1h-1zM37 245h6v1h-6zM48 245h1v1h-1zM52 245h1v1h-1zM55 245h1v1h-1zM60 245h1v1h-1zM62 245h1v1h-1zM65 245h1v1h-1zM67 245h6v1h-6zM74 245h1v1h-1zM76 245h1v1h-1zM81 245h1v1h-1zM84 245h1v1h-1zM87 245h1v1h-1zM89 245h6v1h-6zM97 245h1v1h-1zM100 245h1v1h-1zM29 246h1v1h-1zM32 246h1v1h-1zM35 246h1v1h-1zM37 246h1v1h-1zM49 246h2v1h-2zM52 246h1v1h-1zM55 246h1v1h-1zM60 246h1v1h-1zM62 246h1v1h-1zM65 246h1v1h-1zM67 246h1v1h-1zM74 246h1v1h-1zM76 246h1v1h-1zM81 246h1v1h-1zM84 246h1v1h-1zM87 246h1v1h-1zM89 246h1v1h-1zM97 246h1v1h-1zM101 246h2v1h-2zM28 247h1v1h-1zM32 247h1v1h-1zM35 247h1v1h-1zM38 247h1v1h-1zM41 247h1v1h-1zM47 247h1v1h-1zM50 247h1v1h-1zM52 247h1v1h-1zM56 247h1v1h-1zM59 247h1v1h-1zM62 247h1v1h-1zM65 247h1v1h-1zM68 247h1v1h-1zM71 247h1v1h-1zM74 247h1v1h-1zM77 247h1v1h-1zM80 247h1v1h-1zM84 247h1v1h-1zM87 247h1v1h-1zM90 247h1v1h-1zM93 247h1v1h-1zM97 247h1v1h-1zM99 247h1v1h-1zM102 247h1v1h-1zM29 248h5v1h-5zM35 248h1v1h-1zM38 248h4v1h-4zM48 248h2v1h-2zM52 248h2v1h-2zM56 248h4v1h-4zM62 248h1v1h-1zM65 248h1v1h-1zM68 248h4v1h-4zM74 248h1v1h-1zM77 248h4v1h-4zM84 248h1v1h-1zM87 248h1v1h-1zM90 248h4v1h-4zM97 248h1v1h-1zM100 248h2v1h-2zM104 248h1v1h-1z"/>
<path d="M27 485h1v1h-1zM81 485h1v1h-1zM94 485h2v1h-2zM130 485h1v1h-1zM137 485h1v1h-1zM154 485h1v1h-1zM184 485h1v1h-1zM222 485h1v1h-1zM234 485h1v1h-1zM256 485h1v1h-1zM315 485h1v1h-1zM318 485h1v1h-1zM335 485h1v1h-1zM363 485h2v1h-2zM366 485h1v1h-1zM374 485h1v1h-1zM27 486h1v1h-1zM44 486h1v1h-1zM94 486h1v1h-1zM117 486h1v1h-1zM130 486h1v1h-1zM137 486h1v1h-1zM221 486h1v1h-1zM230 486h1v1h-1zM234 486h1v1h-1zM253 486h1v1h-1zM256 486h1v1h-1zM283 486h1v1h-1zM315 486h1v1h-1zM318 486h1v1h-1zM336 486h1v1h-1zM363 486h1v1h-1zM374 486h1v1h-1zM27 487h1v1h-1zM30 487h4v1h-4zM40 487h2v1h-2zM43 487h3v1h-3zM48 487h2v1h-2zM51 487h4v1h-4zM57 487h4v1h-4zM64 487h7v1h-7zM73 487h2v1h-2zM81 487h1v1h-1zM84 487h4v1h-4zM93 487h3v1h-3zM97 487h4v1h-4zM103 487h2v1h-2zM107 487h4v1h-4zM113 487h2v1h-2zM116 487h3v1h-3zM121 487h4v1h-4zM127 487h4v1h-4zM137 487h4v1h-4zM143 487h4v1h-4zM149 487h2v1h-2zM154 487h1v1h-1zM157 487h4v1h-4zM163 487h2v1h-2zM174 487h7v1h-7zM184 487h1v1h-1zM187 487h4v1h-4zM193 487h4v1h-4zM200 487h4v1h-4zM205 487h1v1h-1zM208 487h1v1h-1zM211 487h1v1h-1zM213 487h2v1h-2zM221 487h1v1h-1zM224 487h4v1h-4zM229 487h3v1h-3zM234 487h4v1h-4zM240 487h4v1h-4zM246 487h2v1h-2zM252 487h3v1h-3zM256 487h4v1h-4zM263 487h4v1h-4zM269 487h4v1h-4zM279 487h2v1h-2zM282 487h3v1h-3zM286 487h4v1h-4zM293 487h4v1h-4zM299 487h4v1h-4zM305 487h2v1h-2zM309 487h4v1h-4zM315 487h1v1h-1zM318 487h1v1h-1zM322 487h4v1h-4zM328 487h2v1h-2zM331 487h2v1h-2zM336 487h1v1h-1zM346 487h2v1h-2zM350 487h1v1h-1zM353 487h1v1h-1zM356 487h4v1h-4zM362 487h3v1h-3zM366 487h1v1h-1zM369 487h2v1h-2zM374 487h4v1h-4zM27 488h1v1h-1zM30 488h1v1h-1zM33 488h1v1h-1zM39 488h1v1h-1zM44 488h1v1h-1zM48 488h1v1h-1zM51 488h1v1h-1zM54 488h1v1h-1zM60 488h1v1h-1zM64 488h1v1h-1zM67 488h1v1h-1zM70 488h1v1h-1zM72 488h1v1h-1zM81 488h1v1h-1zM84 488h1v1h-1zM87 488h1v1h-1zM94 488h1v1h-1zM97 488h1v1h-1zM100 488h1v1h-1zM103 488h1v1h-1zM107 488h1v1h-1zM110 488h1v1h-1zM112 488h1v1h-1zM117 488h1v1h-1zM121 488h1v1h-1zM124 488h1v1h-1zM127 488h1v1h-1zM130 488h1v1h-1zM137 488h1v1h-1zM140 488h1v1h-1zM146 488h1v1h-1zM148 488h1v1h-1zM154 488h1v1h-1zM157 488h1v1h-1zM160 488h1v1h-1zM162 488h1v1h-1zM174 488h1v1h-1zM177 488h1v1h-1zM180 488h1v1h-1zM184 488h1v1h-1zM187 488h1v1h-1zM190 488h1v1h-1zM193 488h1v1h-1zM196 488h1v1h-1zM200 488h1v1h-1zM203 488h1v1h-1zM205 488h1v1h-1zM208 488h1v1h-1zM211 488h2v1h-2zM221 488h1v1h-1zM224 488h1v1h-1zM227 488h1v1h-1zM230 488h1v1h-1zM234 488h1v1h-1zM237 488h1v1h-1zM240 488h1v1h-1zM243 488h1v1h-1zM246 488h1v1h-1zM253 488h1v1h-1zM256 488h1v1h-1zM259 488h1v1h-1zM266 488h1v1h-1zM269 488h1v1h-1zM272 488h1v1h-1zM278 488h1v1h-1zM283 488h1v1h-1zM286 488h1v1h-1zM289 488h1v1h-1zM293 488h1v1h-1zM296 488h1v1h-1zM299 488h1v1h-1zM302 488h1v1h-1zM305 488h1v1h-1zM309 488h1v1h-1zM312 488h1v1h-1zM315 488h1v1h-1zM318 488h1v1h-1zM322 488h1v1h-1zM325 488h1v1h-1zM328 488h1v1h-1zM330 488h1v1h-1zM336 488h1v1h-1zM345 488h1v1h-1zM350 488h1v1h-1zM353 488h1v1h-1zM356 488h1v1h-1zM359 488h1v1h-1zM363 488h1v1h-1zM366 488h1v1h-1zM368 488h1v1h-1zM374 488h1v1h-1zM377 488h1v1h-1zM27 489h1v1h-1zM30 489h1v1h-1zM33 489h1v1h-1zM40 489h1v1h-1zM44 489h1v1h-1zM48 489h1v1h-1zM50 489h6v1h-6zM57 489h4v1h-4zM64 489h1v1h-1zM67 489h1v1h-1zM70 489h1v1h-1zM73 489h1v1h-1zM81 489h1v1h-1zM84 489h1v1h-1zM87 489h1v1h-1zM94 489h1v1h-1zM96 489h1v1h-1zM101 489h1v1h-1zM103 489h1v1h-1zM106 489h6v1h-6zM113 489h1v1h-1zM117 489h1v1h-1zM120 489h7v1h-7zM130 489h1v1h-1zM137 489h1v1h-1zM141 489h1v1h-1zM143 489h4v1h-4zM149 489h1v1h-1zM154 489h1v1h-1zM157 489h1v1h-1zM160 489h1v1h-1zM163 489h1v1h-1zM174 489h1v1h-1zM177 489h1v1h-1zM180 489h1v1h-1zM184 489h1v1h-1zM187 489h1v1h-1zM190 489h1v1h-1zM193 489h1v1h-1zM196 489h1v1h-1zM199 489h1v1h-1zM204 489h2v1h-2zM207 489h1v1h-1zM209 489h1v1h-1zM211 489h1v1h-1zM213 489h1v1h-1zM221 489h1v1h-1zM223 489h1v1h-1zM228 489h1v1h-1zM230 489h1v1h-1zM234 489h1v1h-1zM237 489h1v1h-1zM239 489h6v1h-6zM246 489h1v1h-1zM253 489h1v1h-1zM256 489h1v1h-1zM259 489h1v1h-1zM263 489h4v1h-4zM269 489h1v1h-1zM272 489h1v1h-1zM279 489h1v1h-1zM283 489h1v1h-1zM285 489h1v1h-1zM290 489h1v1h-1zM293 489h1v1h-1zM296 489h1v1h-1zM298 489h6v1h-6zM305 489h1v1h-1zM308 489h1v1h-1zM313 489h1v1h-1zM315 489h1v1h-1zM318 489h1v1h-1zM321 489h6v1h-6zM328 489h1v1h-1zM331 489h1v1h-1zM336 489h1v1h-1zM346 489h1v1h-1zM350 489h1v1h-1zM353 489h1v1h-1zM356 489h1v1h-1zM359 489h1v1h-1zM363 489h1v1h-1zM366 489h1v1h-1zM369 489h1v1h-1zM374 489h1v1h-1zM377 489h1v1h-1zM27 490h1v1h-1zM30 490h1v1h-1zM33 490h1v1h-1zM41 490h2v1h-2zM44 490h1v1h-1zM48 490h1v1h-1zM50 490h1v1h-1zM57 490h1v1h-1zM60 490h1v1h-1zM64 490h1v1h-1zM67 490h1v1h-1zM70 490h1v1h-1zM74 490h2v1h-2zM81 490h1v1h-1zM84 490h1v1h-1zM87 490h1v1h-1zM94 490h1v1h-1zM96 490h1v1h-1zM101 490h1v1h-1zM103 490h1v1h-1zM106 490h1v1h-1zM114 490h2v1h-2zM117 490h1v1h-1zM120 490h1v1h-1zM126 490h1v1h-1zM130 490h1v1h-1zM137 490h1v1h-1zM141 490h1v1h-1zM143 490h1v1h-1zM146 490h1v1h-1zM150 490h2v1h-2zM154 490h1v1h-1zM157 490h1v1h-1zM160 490h1v1h-1zM164 490h2v1h-2zM174 490h1v1h-1zM177 490h1v1h-1zM180 490h1v1h-1zM184 490h1v1h-1zM187 490h1v1h-1zM190 490h1v1h-1zM193 490h1v1h-1zM196 490h1v1h-1zM199 490h1v1h-1zM204 490h1v1h-1zM206 490h2v1h-2zM209 490h2v1h-2zM214 490h2v1h-2zM221 490h1v1h-1zM223 490h1v1h-1zM228 490h1v1h-1zM230 490h1v1h-1zM234 490h1v1h-1zM237 490h1v1h-1zM239 490h1v1h-1zM246 490h1v1h-1zM253 490h1v1h-1zM256 490h1v1h-1zM259 490h1v1h-1zM263 490h1v1h-1zM266 490h1v1h-1zM269 490h1v1h-1zM272 490h1v1h-1zM280 490h2v1h-2zM283 490h1v1h-1zM285 490h1v1h-1zM290 490h1v1h-1zM293 490h1v1h-1zM296 490h1v1h-1zM298 490h1v1h-1zM305 490h1v1h-1zM308 490h1v1h-1zM313 490h1v1h-1zM315 490h1v1h-1zM318 490h1v1h-1zM321 490h1v1h-1zM328 490h1v1h-1zM332 490h2v1h-2zM336 490h1v1h-1zM347 490h2v1h-2zM350 490h1v1h-1zM353 490h1v1h-1zM356 490h1v1h-1zM359 490h1v1h-1zM363 490h1v1h-1zM366 490h1v1h-1zM370 490h2v1h-2zM374 490h1v1h-1zM377 490h1v1h-1zM27 491h1v1h-1zM30 491h1v1h-1zM33 491h1v1h-1zM39 491h1v1h-1zM42 491h1v1h-1zM44 491h1v1h-1zM48 491h1v1h-1zM51 491h1v1h-1zM54 491h1v1h-1zM56 491h1v1h-1zM60 491h1v1h-1zM64 491h1v1h-1zM67 491h1v1h-1zM70 491h1v1h-1zM72 491h1v1h-1zM75 491h1v1h-1zM81 491h1v1h-1zM84 491h1v1h-1zM87 491h1v1h-1zM94 491h1v1h-1zM97 491h1v1h-1zM100 491h1v1h-1zM103 491h1v1h-1zM107 491h1v1h-1zM110 491h1v1h-1zM112 491h1v1h-1zM115 491h1v1h-1zM117 491h1v1h-1zM121 491h1v1h-1zM124 491h1v1h-1zM127 491h1v1h-1zM130 491h1v1h-1zM137 491h1v1h-1zM140 491h1v1h-1zM142 491h1v1h-1zM146 491h1v1h-1zM148 491h1v1h-1zM151 491h1v1h-1zM154 491h1v1h-1zM157 491h1v1h-1zM160 491h1v1h-1zM162 491h1v1h-1zM165 491h1v1h-1zM174 491h1v1h-1zM177 491h1v1h-1zM180 491h1v1h-1zM184 491h1v1h-1zM187 491h1v1h-1zM190 491h1v1h-1zM193 491h1v1h-1zM196 491h1v1h-1zM200 491h1v1h-1zM203 491h1v1h-1zM206 491h2v1h-2zM209 491h2v1h-2zM212 491h1v1h-1zM215 491h1v1h-1zM221 491h1v1h-1zM224 491h1v1h-1zM227 491h1v1h-1zM230 491h1v1h-1zM234 491h1v1h-1zM237 491h1v1h-1zM240 491h1v1h-1zM243 491h1v1h-1zM246 491h1v1h-1zM253 491h1v1h-1zM256 491h1v1h-1zM259 491h1v1h-1zM262 491h1v1h-1zM266 491h1v1h-1zM269 491h1v1h-1zM272 491h1v1h-1zM278 491h1v1h-1zM281 491h1v1h-1zM283 491h1v1h-1zM286 491h1v1h-1zM289 491h1v1h-1zM293 491h1v1h-1zM296 491h1v1h-1zM299 491h1v1h-1zM302 491h1v1h-1zM305 491h1v1h-1zM309 491h1v1h-1zM312 491h1v1h-1zM315 491h1v1h-1zM318 491h1v1h-1zM322 491h1v1h-1zM325 491h1v1h-1zM328 491h1v1h-1zM330 491h1v1h-1zM333 491h1v1h-1zM336 491h1v1h-1zM345 491h1v1h-1zM348 491h1v1h-1zM350 491h1v1h-1zM353 491h1v1h-1zM356 491h1v1h-1zM359 491h1v1h-1zM363 491h1v1h-1zM366 491h1v1h-1zM368 491h1v1h-1zM371 491h1v1h-1zM374 491h1v1h-1zM377 491h1v1h-1zM27 492h1v1h-1zM30 492h1v1h-1zM33 492h1v1h-1zM40 492h2v1h-2zM44 492h2v1h-2zM48 492h1v1h-1zM51 492h4v1h-4zM57 492h5v1h-5zM64 492h1v1h-1zM67 492h1v1h-1zM70 492h1v1h-1zM73 492h2v1h-2zM81 492h1v1h-1zM84 492h1v1h-1zM87 492h1v1h-1zM94 492h1v1h-1zM97 492h4v1h-4zM103 492h1v1h-1zM107 492h4v1h-4zM113 492h2v1h-2zM117 492h2v1h-2zM121 492h4v1h-4zM127 492h4v1h-4zM137 492h4v1h-4zM143 492h5v1h-5zM149 492h2v1h-2zM154 492h1v1h-1zM157 492h1v1h-1zM160 492h1v1h-1zM163 492h2v1h-2zM168 492h1v1h-1zM174 492h1v1h-1zM177 492h1v1h-1zM180 492h1v1h-1zM184 492h1v1h-1zM187 492h1v1h-1zM190 492h1v1h-1zM193 492h1v1h-1zM196 492h1v1h-1zM200 492h4v1h-4zM206 492h2v1h-2zM209 492h2v1h-2zM213 492h2v1h-2zM221 492h1v1h-1zM224 492h4v1h-4zM230 492h2v1h-2zM234 492h1v1h-1zM237 492h1v1h-1zM240 492h4v1h-4zM246 492h1v1h-1zM253 492h2v1h-2zM256 492h1v1h-1zM259 492h1v1h-1zM263 492h5v1h-5zM269 492h1v1h-1zM272 492h1v1h-1zM279 492h2v1h-2zM283 492h2v1h-2zM286 492h4v1h-4zM293 492h1v1h-1zM296 492h1v1h-1zM299 492h4v1h-4zM305 492h1v1h-1zM309 492h4v1h-4zM315 492h1v1h-1zM318 492h1v1h-1zM322 492h4v1h-4zM328 492h1v1h-1zM331 492h2v1h-2zM336 492h1v1h-1zM339 492h1v1h-1zM346 492h2v1h-2zM350 492h4v1h-4zM356 492h1v1h-1zM359 492h1v1h-1zM363 492h1v1h-1zM366 492h1v1h-1zM369 492h2v1h-2zM374 492h1v1h-1zM377 492h1v1h-1zM380 492h1v1h-1zM168 493h1v1h-1zM221 493h1v1h-1zM336 493h1v1h-1zM339 493h1v1h-1zM380 493h1v1h-1zM168 494h1v1h-1zM222 494h1v1h-1zM335 494h1v1h-1zM339 494h1v1h-1zM380 494h1v1h-1z"/>
<path d="M43 496h1v1h-1zM53 496h1v1h-1zM113 496h1v1h-1zM208 496h2v1h-2zM218 496h1v1h-1zM233 496h2v1h-2zM236 496h1v1h-1zM243 496h1v1h-1zM296 496h1v1h-1zM313 496h1v1h-1zM335 496h1v1h-1zM43 497h1v1h-1zM53 497h1v1h-1zM65 497h1v1h-1zM113 497h1v1h-1zM177 497h1v1h-1zM208 497h1v1h-1zM214 497h1v1h-1zM218 497h1v1h-1zM233 497h1v1h-1zM243 497h1v1h-1zM299 497h1v1h-1zM310 497h1v1h-1zM313 497h1v1h-1zM28 498h4v1h-4zM34 498h4v1h-4zM40 498h4v1h-4zM50 498h4v1h-4zM56 498h4v1h-4zM62 498h5v1h-5zM68 498h4v1h-4zM74 498h2v1h-2zM77 498h2v1h-2zM85 498h4v1h-4zM91 498h2v1h-2zM94 498h4v1h-4zM103 498h4v1h-4zM113 498h1v1h-1zM116 498h4v1h-4zM122 498h2v1h-2zM125 498h4v1h-4zM131 498h4v1h-4zM137 498h2v1h-2zM144 498h4v1h-4zM150 498h4v1h-4zM156 498h2v1h-2zM159 498h4v1h-4zM165 498h4v1h-4zM171 498h4v1h-4zM176 498h3v1h-3zM180 498h4v1h-4zM187 498h4v1h-4zM193 498h4v1h-4zM202 498h4v1h-4zM207 498h3v1h-3zM213 498h3v1h-3zM218 498h4v1h-4zM224 498h4v1h-4zM232 498h3v1h-3zM236 498h1v1h-1zM239 498h2v1h-2zM243 498h4v1h-4zM253 498h4v1h-4zM259 498h4v1h-4zM265 498h7v1h-7zM274 498h7v1h-7zM283 498h1v1h-1zM286 498h1v1h-1zM289 498h4v1h-4zM296 498h1v1h-1zM298 498h4v1h-4zM305 498h1v1h-1zM309 498h3v1h-3zM313 498h4v1h-4zM319 498h4v1h-4zM326 498h4v1h-4zM335 498h1v1h-1zM338 498h4v1h-4zM31 499h1v1h-1zM34 499h1v1h-1zM37 499h1v1h-1zM40 499h1v1h-1zM43 499h1v1h-1zM50 499h1v1h-1zM53 499h1v1h-1zM59 499h1v1h-1zM62 499h1v1h-1zM65 499h1v1h-1zM68 499h1v1h-1zM71 499h1v1h-1zM74 499h1v1h-1zM76 499h1v1h-1zM88 499h1v1h-1zM91 499h1v1h-1zM94 499h1v1h-1zM97 499h1v1h-1zM106 499h1v1h-1zM113 499h1v1h-1zM119 499h1v1h-1zM122 499h1v1h-1zM125 499h1v1h-1zM128 499h1v1h-1zM131 499h1v1h-1zM134 499h1v1h-1zM137 499h1v1h-1zM144 499h1v1h-1zM147 499h1v1h-1zM150 499h1v1h-1zM153 499h1v1h-1zM156 499h1v1h-1zM159 499h1v1h-1zM163 499h1v1h-1zM165 499h1v1h-1zM168 499h1v1h-1zM171 499h1v1h-1zM174 499h1v1h-1zM177 499h1v1h-1zM183 499h1v1h-1zM187 499h1v1h-1zM190 499h1v1h-1zM193 499h1v1h-1zM196 499h1v1h-1zM202 499h1v1h-1zM205 499h1v1h-1zM208 499h1v1h-1zM214 499h1v1h-1zM218 499h1v1h-1zM221 499h1v1h-1zM224 499h1v1h-1zM227 499h1v1h-1zM233 499h1v1h-1zM236 499h1v1h-1zM238 499h1v1h-1zM243 499h1v1h-1zM246 499h1v1h-1zM253 499h1v1h-1zM257 499h1v1h-1zM259 499h1v1h-1zM262 499h1v1h-1zM265 499h1v1h-1zM268 499h1v1h-1zM271 499h1v1h-1zM274 499h1v1h-1zM277 499h1v1h-1zM280 499h1v1h-1zM283 499h1v1h-1zM286 499h1v1h-1zM289 499h1v1h-1zM292 499h1v1h-1zM296 499h1v1h-1zM299 499h1v1h-1zM302 499h1v1h-1zM305 499h1v1h-1zM310 499h1v1h-1zM313 499h1v1h-1zM316 499h1v1h-1zM322 499h1v1h-1zM326 499h1v1h-1zM329 499h1v1h-1zM335 499h1v1h-1zM338 499h1v1h-1zM341 499h1v1h-1zM28 500h4v1h-4zM34 500h1v1h-1zM37 500h1v1h-1zM39 500h1v1h-1zM43 500h1v1h-1zM49 500h1v1h-1zM53 500h1v1h-1zM56 500h4v1h-4zM62 500h1v1h-1zM65 500h1v1h-1zM67 500h6v1h-6zM74 500h1v1h-1zM77 500h1v1h-1zM85 500h4v1h-4zM91 500h1v1h-1zM93 500h6v1h-6zM103 500h4v1h-4zM113 500h1v1h-1zM116 500h4v1h-4zM122 500h1v1h-1zM124 500h1v1h-1zM128 500h1v1h-1zM130 500h6v1h-6zM137 500h1v1h-1zM144 500h1v1h-1zM148 500h7v1h-7zM156 500h1v1h-1zM158 500h1v1h-1zM164 500h6v1h-6zM171 500h1v1h-1zM174 500h1v1h-1zM177 500h1v1h-1zM180 500h4v1h-4zM186 500h1v1h-1zM190 500h1v1h-1zM192 500h6v1h-6zM201 500h1v1h-1zM206 500h1v1h-1zM208 500h1v1h-1zM214 500h1v1h-1zM218 500h1v1h-1zM221 500h1v1h-1zM223 500h6v1h-6zM233 500h1v1h-1zM236 500h1v1h-1zM239 500h1v1h-1zM243 500h1v1h-1zM246 500h1v1h-1zM252 500h1v1h-1zM258 500h1v1h-1zM263 500h1v1h-1zM265 500h1v1h-1zM268 500h1v1h-1zM271 500h1v1h-1zM274 500h1v1h-1zM277 500h1v1h-1zM280 500h1v1h-1zM283 500h1v1h-1zM286 500h1v1h-1zM289 500h1v1h-1zM292 500h1v1h-1zM296 500h1v1h-1zM299 500h1v1h-1zM302 500h1v1h-1zM304 500h1v1h-1zM310 500h1v1h-1zM313 500h1v1h-1zM316 500h1v1h-1zM319 500h4v1h-4zM326 500h1v1h-1zM329 500h1v1h-1zM335 500h1v1h-1zM338 500h1v1h-1zM341 500h1v1h-1zM28 501h1v1h-1zM31 501h1v1h-1zM34 501h1v1h-1zM37 501h1v1h-1zM39 501h1v1h-1zM43 501h1v1h-1zM49 501h1v1h-1zM53 501h1v1h-1zM56 501h1v1h-1zM59 501h1v1h-1zM62 501h1v1h-1zM65 501h1v1h-1zM67 501h1v1h-1zM74 501h1v1h-1zM78 501h2v1h-2zM85 501h1v1h-1zM88 501h1v1h-1zM91 501h1v1h-1zM93 501h1v1h-1zM103 501h1v1h-1zM106 501h1v1h-1zM113 501h1v1h-1zM116 501h1v1h-1zM119 501h1v1h-1zM122 501h1v1h-1zM124 501h1v1h-1zM128 501h1v1h-1zM130 501h1v1h-1zM137 501h1v1h-1zM144 501h1v1h-1zM148 501h2v1h-2zM156 501h1v1h-1zM158 501h1v1h-1zM164 501h1v1h-1zM171 501h1v1h-1zM174 501h1v1h-1zM177 501h1v1h-1zM180 501h1v1h-1zM183 501h1v1h-1zM186 501h1v1h-1zM190 501h1v1h-1zM192 501h1v1h-1zM201 501h1v1h-1zM206 501h1v1h-1zM208 501h1v1h-1zM214 501h1v1h-1zM218 501h1v1h-1zM221 501h1v1h-1zM223 501h1v1h-1zM233 501h1v1h-1zM236 501h1v1h-1zM240 501h2v1h-2zM243 501h1v1h-1zM246 501h1v1h-1zM252 501h1v1h-1zM258 501h1v1h-1zM263 501h1v1h-1zM265 501h1v1h-1zM268 501h1v1h-1zM271 501h1v1h-1zM274 501h1v1h-1zM277 501h1v1h-1zM280 501h1v1h-1zM283 501h1v1h-1zM286 501h1v1h-1zM289 501h1v1h-1zM292 501h1v1h-1zM296 501h1v1h-1zM299 501h1v1h-1zM302 501h1v1h-1zM304 501h1v1h-1zM310 501h1v1h-1zM313 501h1v1h-1zM316 501h1v1h-1zM319 501h1v1h-1zM322 501h1v1h-1zM326 501h1v1h-1zM329 501h1v1h-1zM335 501h1v1h-1zM338 501h1v1h-1zM341 501h1v1h-1zM27 502h1v1h-1zM31 502h1v1h-1zM34 502h1v1h-1zM37 502h1v1h-1zM40 502h1v1h-1zM43 502h1v1h-1zM50 502h1v1h-1zM53 502h1v1h-1zM55 502h1v1h-1zM59 502h1v1h-1zM62 502h1v1h-1zM65 502h1v1h-1zM68 502h1v1h-1zM71 502h1v1h-1zM74 502h1v1h-1zM76 502h1v1h-1zM79 502h1v1h-1zM84 502h1v1h-1zM88 502h1v1h-1zM91 502h1v1h-1zM94 502h1v1h-1zM97 502h1v1h-1zM102 502h1v1h-1zM106 502h1v1h-1zM113 502h1v1h-1zM115 502h1v1h-1zM119 502h1v1h-1zM122 502h1v1h-1zM125 502h1v1h-1zM128 502h1v1h-1zM131 502h1v1h-1zM134 502h1v1h-1zM137 502h1v1h-1zM144 502h1v1h-1zM147 502h1v1h-1zM150 502h1v1h-1zM153 502h1v1h-1zM156 502h1v1h-1zM159 502h1v1h-1zM163 502h1v1h-1zM165 502h1v1h-1zM168 502h1v1h-1zM171 502h1v1h-1zM174 502h1v1h-1zM177 502h1v1h-1zM179 502h1v1h-1zM183 502h1v1h-1zM187 502h1v1h-1zM190 502h1v1h-1zM193 502h1v1h-1zM196 502h1v1h-1zM202 502h1v1h-1zM205 502h1v1h-1zM208 502h1v1h-1zM214 502h1v1h-1zM218 502h1v1h-1zM221 502h1v1h-1zM224 502h1v1h-1zM227 502h1v1h-1zM233 502h1v1h-1zM236 502h1v1h-1zM238 502h1v1h-1zM241 502h1v1h-1zM243 502h1v1h-1zM246 502h1v1h-1zM253 502h1v1h-1zM257 502h1v1h-1zM259 502h1v1h-1zM262 502h1v1h-1zM265 502h1v1h-1zM268 502h1v1h-1zM271 502h1v1h-1zM274 502h1v1h-1zM277 502h1v1h-1zM280 502h1v1h-1zM283 502h1v1h-1zM286 502h1v1h-1zM289 502h1v1h-1zM292 502h1v1h-1zM296 502h1v1h-1zM299 502h1v1h-1zM303 502h1v1h-1zM310 502h1v1h-1zM313 502h1v1h-1zM316 502h1v1h-1zM318 502h1v1h-1zM322 502h1v1h-1zM326 502h1v1h-1zM329 502h1v1h-1zM335 502h1v1h-1zM338 502h1v1h-1zM341 502h1v1h-1zM28 503h5v1h-5zM34 503h1v1h-1zM37 503h1v1h-1zM40 503h4v1h-4zM50 503h4v1h-4zM56 503h5v1h-5zM62 503h1v1h-1zM65 503h2v1h-2zM68 503h4v1h-4zM74 503h1v1h-1zM77 503h2v1h-2zM85 503h5v1h-5zM91 503h1v1h-1zM94 503h4v1h-4zM103 503h5v1h-5zM113 503h1v1h-1zM116 503h5v1h-5zM122 503h1v1h-1zM125 503h4v1h-4zM131 503h4v1h-4zM137 503h1v1h-1zM144 503h4v1h-4zM150 503h4v1h-4zM156 503h1v1h-1zM159 503h4v1h-4zM165 503h4v1h-4zM171 503h1v1h-1zM174 503h1v1h-1zM177 503h2v1h-2zM180 503h5v1h-5zM187 503h4v1h-4zM193 503h4v1h-4zM202 503h4v1h-4zM208 503h1v1h-1zM214 503h2v1h-2zM218 503h1v1h-1zM221 503h1v1h-1zM224 503h4v1h-4zM233 503h1v1h-1zM236 503h1v1h-1zM239 503h2v1h-2zM243 503h1v1h-1zM246 503h1v1h-1zM253 503h4v1h-4zM259 503h4v1h-4zM265 503h1v1h-1zM268 503h1v1h-1zM271 503h1v1h-1zM274 503h1v1h-1zM277 503h1v1h-1zM280 503h1v1h-1zM283 503h4v1h-4zM289 503h1v1h-1zM292 503h1v1h-1zM296 503h1v1h-1zM299 503h2v1h-2zM303 503h1v1h-1zM310 503h2v1h-2zM313 503h1v1h-1zM316 503h1v1h-1zM319 503h5v1h-5zM326 503h1v1h-1zM329 503h1v1h-1zM335 503h1v1h-1zM338 503h1v1h-1zM341 503h1v1h-1zM128 504h1v1h-1zM144 504h1v1h-1zM190 504h1v1h-1zM303 504h1v1h-1zM125 505h4v1h-4zM144 505h1v1h-1zM187 505h4v1h-4zM301 505h2v1h-2z"/>
<path d="M43 507h1v1h-1zM59 507h1v1h-1zM81 507h1v1h-1zM87 507h1v1h-1zM103 507h1v1h-1zM124 507h4v1h-4zM159 507h1v1h-1zM162 507h1v1h-1zM178 507h2v1h-2zM183 507h4v1h-4zM205 507h4v1h-4zM211 507h4v1h-4zM267 507h2v1h-2zM276 507h1v1h-1zM292 507h2v1h-2zM295 507h1v1h-1zM302 507h1v1h-1zM365 507h1v1h-1zM368 507h1v1h-1zM59 508h1v1h-1zM62 508h1v1h-1zM81 508h1v1h-1zM87 508h1v1h-1zM123 508h1v1h-1zM128 508h1v1h-1zM159 508h1v1h-1zM162 508h1v1h-1zM177 508h1v1h-1zM179 508h1v1h-1zM183 508h1v1h-1zM186 508h1v1h-1zM192 508h1v1h-1zM205 508h1v1h-1zM208 508h1v1h-1zM211 508h1v1h-1zM214 508h1v1h-1zM254 508h1v1h-1zM267 508h1v1h-1zM273 508h1v1h-1zM276 508h1v1h-1zM292 508h1v1h-1zM302 508h1v1h-1zM334 508h1v1h-1zM365 508h1v1h-1zM368 508h1v1h-1zM28 509h4v1h-4zM34 509h4v1h-4zM40 509h2v1h-2zM43 509h1v1h-1zM47 509h4v1h-4zM53 509h1v1h-1zM56 509h1v1h-1zM59 509h1v1h-1zM61 509h3v1h-3zM65 509h1v1h-1zM68 509h1v1h-1zM71 509h2v1h-2zM75 509h4v1h-4zM81 509h1v1h-1zM87 509h4v1h-4zM93 509h4v1h-4zM99 509h2v1h-2zM103 509h1v1h-1zM107 509h4v1h-4zM113 509h2v1h-2zM123 509h1v1h-1zM131 509h4v1h-4zM138 509h4v1h-4zM144 509h4v1h-4zM150 509h2v1h-2zM153 509h4v1h-4zM159 509h1v1h-1zM162 509h1v1h-1zM165 509h1v1h-1zM169 509h1v1h-1zM179 509h1v1h-1zM182 509h1v1h-1zM187 509h1v1h-1zM191 509h3v1h-3zM196 509h4v1h-4zM208 509h1v1h-1zM210 509h1v1h-1zM215 509h1v1h-1zM220 509h4v1h-4zM227 509h4v1h-4zM233 509h2v1h-2zM236 509h4v1h-4zM242 509h4v1h-4zM248 509h4v1h-4zM253 509h3v1h-3zM261 509h4v1h-4zM266 509h3v1h-3zM272 509h3v1h-3zM276 509h4v1h-4zM282 509h4v1h-4zM291 509h3v1h-3zM295 509h1v1h-1zM298 509h2v1h-2zM302 509h4v1h-4zM312 509h4v1h-4zM318 509h2v1h-2zM321 509h4v1h-4zM330 509h2v1h-2zM333 509h3v1h-3zM337 509h4v1h-4zM344 509h4v1h-4zM350 509h4v1h-4zM356 509h2v1h-2zM359 509h4v1h-4zM365 509h1v1h-1zM368 509h1v1h-1zM372 509h4v1h-4zM378 509h2v1h-2zM381 509h2v1h-2zM31 510h1v1h-1zM34 510h1v1h-1zM37 510h1v1h-1zM40 510h1v1h-1zM43 510h1v1h-1zM47 510h1v1h-1zM51 510h1v1h-1zM53 510h1v1h-1zM56 510h1v1h-1zM59 510h1v1h-1zM62 510h1v1h-1zM65 510h1v1h-1zM68 510h1v1h-1zM71 510h1v1h-1zM78 510h1v1h-1zM81 510h1v1h-1zM87 510h1v1h-1zM90 510h1v1h-1zM96 510h1v1h-1zM98 510h1v1h-1zM103 510h1v1h-1zM107 510h1v1h-1zM110 510h1v1h-1zM112 510h1v1h-1zM123 510h1v1h-1zM131 510h1v1h-1zM134 510h1v1h-1zM138 510h1v1h-1zM141 510h1v1h-1zM144 510h1v1h-1zM147 510h1v1h-1zM150 510h1v1h-1zM156 510h1v1h-1zM159 510h1v1h-1zM162 510h1v1h-1zM166 510h1v1h-1zM169 510h1v1h-1zM179 510h1v1h-1zM182 510h1v1h-1zM187 510h1v1h-1zM192 510h1v1h-1zM196 510h1v1h-1zM199 510h1v1h-1zM208 510h1v1h-1zM210 510h1v1h-1zM215 510h1v1h-1zM220 510h1v1h-1zM223 510h1v1h-1zM227 510h1v1h-1zM230 510h1v1h-1zM233 510h1v1h-1zM236 510h1v1h-1zM240 510h1v1h-1zM242 510h1v1h-1zM245 510h1v1h-1zM248 510h1v1h-1zM251 510h1v1h-1zM254 510h1v1h-1zM261 510h1v1h-1zM264 510h1v1h-1zM267 510h1v1h-1zM273 510h1v1h-1zM276 510h1v1h-1zM279 510h1v1h-1zM282 510h1v1h-1zM285 510h1v1h-1zM292 510h1v1h-1zM295 510h1v1h-1zM297 510h1v1h-1zM302 510h1v1h-1zM305 510h1v1h-1zM315 510h1v1h-1zM318 510h1v1h-1zM321 510h1v1h-1zM324 510h1v1h-1zM329 510h1v1h-1zM334 510h1v1h-1zM337 510h1v1h-1zM340 510h1v1h-1zM344 510h1v1h-1zM347 510h1v1h-1zM350 510h1v1h-1zM353 510h1v1h-1zM356 510h1v1h-1zM359 510h1v1h-1zM362 510h1v1h-1zM365 510h1v1h-1zM368 510h1v1h-1zM372 510h1v1h-1zM375 510h1v1h-1zM378 510h1v1h-1zM380 510h1v1h-1zM28 511h4v1h-4zM33 511h1v1h-1zM37 511h1v1h-1zM40 511h1v1h-1zM43 511h1v1h-1zM46 511h1v1h-1zM53 511h1v1h-1zM56 511h1v1h-1zM59 511h1v1h-1zM62 511h1v1h-1zM65 511h1v1h-1zM68 511h1v1h-1zM71 511h1v1h-1zM75 511h4v1h-4zM81 511h1v1h-1zM87 511h1v1h-1zM91 511h1v1h-1zM93 511h4v1h-4zM99 511h1v1h-1zM103 511h1v1h-1zM107 511h1v1h-1zM110 511h1v1h-1zM113 511h1v1h-1zM123 511h1v1h-1zM126 511h3v1h-3zM130 511h6v1h-6zM138 511h1v1h-1zM141 511h1v1h-1zM143 511h6v1h-6zM150 511h1v1h-1zM153 511h4v1h-4zM159 511h1v1h-1zM162 511h1v1h-1zM166 511h1v1h-1zM168 511h1v1h-1zM179 511h1v1h-1zM182 511h1v1h-1zM187 511h1v1h-1zM192 511h1v1h-1zM195 511h1v1h-1zM200 511h1v1h-1zM207 511h1v1h-1zM210 511h1v1h-1zM215 511h1v1h-1zM220 511h1v1h-1zM224 511h1v1h-1zM226 511h6v1h-6zM233 511h1v1h-1zM235 511h1v1h-1zM241 511h6v1h-6zM248 511h1v1h-1zM251 511h1v1h-1zM254 511h1v1h-1zM260 511h1v1h-1zM265 511h1v1h-1zM267 511h1v1h-1zM273 511h1v1h-1zM276 511h1v1h-1zM279 511h1v1h-1zM281 511h6v1h-6zM292 511h1v1h-1zM295 511h1v1h-1zM298 511h1v1h-1zM302 511h1v1h-1zM305 511h1v1h-1zM312 511h4v1h-4zM318 511h1v1h-1zM320 511h6v1h-6zM330 511h1v1h-1zM334 511h1v1h-1zM336 511h1v1h-1zM341 511h1v1h-1zM344 511h1v1h-1zM347 511h1v1h-1zM349 511h6v1h-6zM356 511h1v1h-1zM358 511h1v1h-1zM363 511h1v1h-1zM365 511h1v1h-1zM368 511h1v1h-1zM371 511h6v1h-6zM378 511h1v1h-1zM381 511h1v1h-1zM28 512h1v1h-1zM31 512h1v1h-1zM33 512h1v1h-1zM37 512h1v1h-1zM40 512h1v1h-1zM43 512h1v1h-1zM46 512h1v1h-1zM53 512h1v1h-1zM56 512h1v1h-1zM59 512h1v1h-1zM62 512h1v1h-1zM65 512h1v1h-1zM68 512h1v1h-1zM71 512h1v1h-1zM75 512h1v1h-1zM78 512h1v1h-1zM81 512h1v1h-1zM87 512h1v1h-1zM91 512h1v1h-1zM93 512h1v1h-1zM96 512h1v1h-1zM100 512h2v1h-2zM103 512h1v1h-1zM107 512h1v1h-1zM110 512h1v1h-1zM114 512h2v1h-2zM123 512h1v1h-1zM128 512h1v1h-1zM130 512h1v1h-1zM138 512h1v1h-1zM141 512h1v1h-1zM143 512h1v1h-1zM150 512h1v1h-1zM153 512h1v1h-1zM156 512h1v1h-1zM159 512h1v1h-1zM162 512h1v1h-1zM166 512h1v1h-1zM168 512h1v1h-1zM179 512h1v1h-1zM182 512h1v1h-1zM186 512h1v1h-1zM192 512h1v1h-1zM195 512h1v1h-1zM200 512h1v1h-1zM206 512h1v1h-1zM210 512h1v1h-1zM214 512h1v1h-1zM220 512h1v1h-1zM224 512h1v1h-1zM226 512h1v1h-1zM233 512h1v1h-1zM235 512h1v1h-1zM241 512h1v1h-1zM248 512h1v1h-1zM251 512h1v1h-1zM254 512h1v1h-1zM260 512h1v1h-1zM265 512h1v1h-1zM267 512h1v1h-1zM273 512h1v1h-1zM276 512h1v1h-1zM279 512h1v1h-1zM281 512h1v1h-1zM292 512h1v1h-1zM295 512h1v1h-1zM299 512h2v1h-2zM302 512h1v1h-1zM305 512h1v1h-1zM312 512h1v1h-1zM315 512h1v1h-1zM318 512h1v1h-1zM320 512h1v1h-1zM331 512h2v1h-2zM334 512h1v1h-1zM336 512h1v1h-1zM341 512h1v1h-1zM344 512h1v1h-1zM347 512h1v1h-1zM349 512h1v1h-1zM356 512h1v1h-1zM358 512h1v1h-1zM363 512h1v1h-1zM365 512h1v1h-1zM368 512h1v1h-1zM371 512h1v1h-1zM378 512h1v1h-1zM382 512h2v1h-2zM27 513h1v1h-1zM31 513h1v1h-1zM34 513h1v1h-1zM37 513h1v1h-1zM40 513h1v1h-1zM43 513h1v1h-1zM47 513h1v1h-1zM51 513h1v1h-1zM53 513h1v1h-1zM56 513h1v1h-1zM59 513h1v1h-1zM62 513h1v1h-1zM65 513h1v1h-1zM68 513h1v1h-1zM71 513h1v1h-1zM74 513h1v1h-1zM78 513h1v1h-1zM81 513h1v1h-1zM87 513h1v1h-1zM90 513h1v1h-1zM92 513h1v1h-1zM96 513h1v1h-1zM98 513h1v1h-1zM101 513h1v1h-1zM103 513h1v1h-1zM107 513h1v1h-1zM110 513h1v1h-1zM112 513h1v1h-1zM115 513h1v1h-1zM123 513h1v1h-1zM128 513h1v1h-1zM131 513h1v1h-1zM134 513h1v1h-1zM138 513h1v1h-1zM141 513h1v1h-1zM144 513h1v1h-1zM147 513h1v1h-1zM150 513h1v1h-1zM152 513h1v1h-1zM156 513h1v1h-1zM159 513h1v1h-1zM162 513h1v1h-1zM167 513h1v1h-1zM179 513h1v1h-1zM183 513h1v1h-1zM186 513h1v1h-1zM192 513h1v1h-1zM196 513h1v1h-1zM199 513h1v1h-1zM205 513h1v1h-1zM211 513h1v1h-1zM214 513h1v1h-1zM220 513h1v1h-1zM223 513h1v1h-1zM227 513h1v1h-1zM230 513h1v1h-1zM233 513h1v1h-1zM236 513h1v1h-1zM240 513h1v1h-1zM242 513h1v1h-1zM245 513h1v1h-1zM248 513h1v1h-1zM251 513h1v1h-1zM254 513h1v1h-1zM261 513h1v1h-1zM264 513h1v1h-1zM267 513h1v1h-1zM273 513h1v1h-1zM276 513h1v1h-1zM279 513h1v1h-1zM282 513h1v1h-1zM285 513h1v1h-1zM292 513h1v1h-1zM295 513h1v1h-1zM297 513h1v1h-1zM300 513h1v1h-1zM302 513h1v1h-1zM305 513h1v1h-1zM311 513h1v1h-1zM315 513h1v1h-1zM318 513h1v1h-1zM321 513h1v1h-1zM324 513h1v1h-1zM329 513h1v1h-1zM332 513h1v1h-1zM334 513h1v1h-1zM337 513h1v1h-1zM340 513h1v1h-1zM344 513h1v1h-1zM347 513h1v1h-1zM350 513h1v1h-1zM353 513h1v1h-1zM356 513h1v1h-1zM359 513h1v1h-1zM362 513h1v1h-1zM365 513h1v1h-1zM368 513h1v1h-1zM372 513h1v1h-1zM375 513h1v1h-1zM378 513h1v1h-1zM380 513h1v1h-1zM383 513h1v1h-1zM28 514h5v1h-5zM34 514h4v1h-4zM40 514h1v1h-1zM43 514h1v1h-1zM47 514h4v1h-4zM53 514h4v1h-4zM59 514h1v1h-1zM62 514h2v1h-2zM65 514h4v1h-4zM71 514h1v1h-1zM75 514h5v1h-5zM81 514h1v1h-1zM87 514h4v1h-4zM93 514h5v1h-5zM99 514h2v1h-2zM103 514h1v1h-1zM107 514h1v1h-1zM110 514h1v1h-1zM113 514h2v1h-2zM117 514h1v1h-1zM124 514h4v1h-4zM131 514h4v1h-4zM138 514h1v1h-1zM141 514h1v1h-1zM144 514h4v1h-4zM150 514h1v1h-1zM153 514h5v1h-5zM159 514h1v1h-1zM162 514h1v1h-1zM167 514h1v1h-1zM171 514h1v1h-1zM177 514h4v1h-4zM184 514h2v1h-2zM192 514h2v1h-2zM196 514h4v1h-4zM205 514h4v1h-4zM212 514h2v1h-2zM220 514h4v1h-4zM227 514h4v1h-4zM233 514h1v1h-1zM236 514h4v1h-4zM242 514h4v1h-4zM248 514h1v1h-1zM251 514h1v1h-1zM254 514h2v1h-2zM261 514h4v1h-4zM267 514h1v1h-1zM273 514h2v1h-2zM276 514h1v1h-1zM279 514h1v1h-1zM282 514h4v1h-4zM292 514h1v1h-1zM295 514h1v1h-1zM298 514h2v1h-2zM302 514h1v1h-1zM305 514h1v1h-1zM312 514h5v1h-5zM318 514h1v1h-1zM321 514h4v1h-4zM330 514h2v1h-2zM334 514h2v1h-2zM337 514h4v1h-4zM344 514h1v1h-1zM347 514h1v1h-1zM350 514h4v1h-4zM356 514h1v1h-1zM359 514h4v1h-4zM365 514h1v1h-1zM368 514h1v1h-1zM372 514h4v1h-4zM378 514h1v1h-1zM381 514h2v1h-2zM385 514h1v1h-1zM37 515h1v1h-1zM167 515h1v1h-1zM171 515h1v1h-1zM220 515h1v1h-1zM34 516h4v1h-4zM165 516h2v1h-2zM171 516h1v1h-1zM220 516h1v1h-1z"/>
<path d="M6 276h1v1h-1zM0 277h1v1h-1zM3 277h1v1h-1zM6 277h1v1h-1zM0 278h1v1h-1zM3 278h1v1h-1zM6 278h1v1h-1zM0 279h1v1h-1zM3 279h1v1h-1zM6 279h1v1h-1zM0 280h1v1h-1zM3 280h1v1h-1zM6 280h1v1h-1zM0 281h7v1h-7zM0 282h1v1h-1zM0 283h4v1h-4zM3 284h3v1h-3zM6 285h1v1h-1zM3 286h3v1h-3zM0 287h4v1h-4zM0 288h1v1h-1zM0 289h7v1h-7zM0 291h1v1h-1zM0 292h1v1h-1zM0 293h7v1h-7zM0 294h1v1h-1zM0 295h1v1h-1zM6 295h1v1h-1zM3 296h4v1h-4zM0 297h5v1h-5zM0 298h1v1h-1zM4 298h1v1h-1zM0 299h5v1h-5zM3 300h4v1h-4zM6 301h1v1h-1zM6 302h1v1h-1zM6 303h1v1h-1zM6 304h1v1h-1zM0 305h7v1h-7zM6 307h1v1h-1zM0 308h1v1h-1zM3 308h1v1h-1zM6 308h1v1h-1zM0 309h1v1h-1zM3 309h1v1h-1zM6 309h1v1h-1zM0 310h1v1h-1zM3 310h1v1h-1zM6 310h1v1h-1zM0 311h1v1h-1zM3 311h1v1h-1zM6 311h1v1h-1zM0 312h7v1h-7zM6 313h1v1h-1zM0 314h4v1h-4zM5 314h2v1h-2zM0 315h1v1h-1zM3 315h3v1h-3zM0 316h1v1h-1zM3 316h1v1h-1zM0 317h1v1h-1zM3 317h1v1h-1zM0 318h7v1h-7z"/>
<path d="M6 211h3v1h-3zM6 212h1v1h-1zM0 213h1v1h-1zM3 213h1v1h-1zM6 213h1v1h-1zM0 214h1v1h-1zM3 214h1v1h-1zM6 214h1v1h-1zM0 215h1v1h-1zM3 215h1v1h-1zM6 215h1v1h-1zM0 216h1v1h-1zM3 216h1v1h-1zM6 216h1v1h-1zM0 217h7v1h-7zM1 219h1v1h-1zM5 219h1v1h-1zM0 220h2v1h-2zM5 220h2v1h-2zM0 221h1v1h-1zM6 221h1v1h-1zM0 222h1v1h-1zM6 222h1v1h-1zM0 223h1v1h-1zM6 223h1v1h-1zM1 224h5v1h-5zM2 225h3v1h-3zM0 227h7v1h-7zM4 228h3v1h-3zM2 229h3v1h-3zM0 230h3v1h-3zM0 231h7v1h-7zM6 233h1v1h-1zM3 234h4v1h-4zM0 235h5v1h-5zM0 236h1v1h-1zM4 236h1v1h-1zM0 237h5v1h-5zM3 238h4v1h-4zM6 239h1v1h-1zM2 240h2v1h-2zM1 241h5v1h-5zM0 242h2v1h-2zM5 242h2v1h-2zM0 243h1v1h-1zM6 243h1v1h-1zM0 244h1v1h-1zM6 244h1v1h-1zM0 245h7v1h-7zM0 248h7v1h-7zM4 249h3v1h-3zM2 250h3v1h-3zM0 251h3v1h-3zM0 252h7v1h-7zM0 254h6v1h-6zM6 255h1v1h-1zM6 256h1v1h-1zM6 257h1v1h-1zM0 258h6v1h-6zM5 260h1v1h-1zM0 261h3v1h-3zM4 261h3v1h-3zM0 262h1v1h-1zM3 262h1v1h-1zM6 262h1v1h-1zM0 263h1v1h-1zM3 263h1v1h-1zM6 263h1v1h-1zM0 264h1v1h-1zM3 264h1v1h-1zM6 264h1v1h-1zM0 265h7v1h-7zM6 267h1v1h-1zM3 268h4v1h-4zM0 269h5v1h-5zM0 270h1v1h-1zM4 270h1v1h-1zM0 271h5v1h-5zM3 272h4v1h-4zM6 273h1v1h-1z"/>
<path d="M0 199h7v1h-7zM4 200h3v1h-3zM2 201h3v1h-3zM0 202h3v1h-3zM0 203h7v1h-7zM0 206h7v1h-7z"/>
<path d="M0 149h1v1h-1zM0 150h1v1h-1zM0 151h7v1h-7zM0 152h1v1h-1zM0 153h1v1h-1zM0 154h7v1h-7zM4 155h3v1h-3zM2 156h3v1h-3zM0 157h3v1h-3zM0 158h7v1h-7zM6 160h1v1h-1zM0 161h1v1h-1zM3 161h1v1h-1zM6 161h1v1h-1zM0 162h1v1h-1zM3 162h1v1h-1zM6 162h1v1h-1zM0 163h1v1h-1zM3 163h1v1h-1zM6 163h1v1h-1zM0 164h1v1h-1zM3 164h1v1h-1zM6 164h1v1h-1zM0 165h7v1h-7zM1 167h1v1h-1zM5 167h1v1h-1zM0 168h2v1h-2zM5 168h2v1h-2zM0 169h1v1h-1zM6 169h1v1h-1zM0 170h1v1h-1zM6 170h1v1h-1zM0 171h1v1h-1zM6 171h1v1h-1zM1 172h5v1h-5zM2 173h3v1h-3zM6 174h1v1h-1zM0 175h4v1h-4zM5 175h2v1h-2zM0 176h1v1h-1zM3 176h3v1h-3zM0 177h1v1h-1zM3 177h1v1h-1zM0 178h1v1h-1zM3 178h1v1h-1zM0 179h7v1h-7zM6 181h1v1h-1zM0 182h1v1h-1zM3 182h1v1h-1zM6 182h1v1h-1zM0 183h1v1h-1zM3 183h1v1h-1zM6 183h1v1h-1zM0 184h1v1h-1zM3 184h1v1h-1zM6 184h1v1h-1zM0 185h1v1h-1zM3 185h1v1h-1zM6 185h1v1h-1zM0 186h7v1h-7zM2 188h1v1h-1zM0 189h5v1h-5zM0 190h1v1h-1zM4 190h1v1h-1zM0 191h1v1h-1zM4 191h1v1h-1zM0 192h1v1h-1zM4 192h1v1h-1zM0 193h7v1h-7z"/></g>
<g><text x="109" y="29" font-size="10" textLength="75" lengthAdjust="spacingAndGlyphs" style="fill:none;stroke:none">STONEROLLERS</text>
<text x="109" y="42" font-size="10" textLength="81" lengthAdjust="spacingAndGlyphs" style="fill:none;stroke:none">OTHER MINNOWS</text>
<text x="109" y="55" font-size="10" textLength="41" lengthAdjust="spacingAndGlyphs" style="fill:none;stroke:none">SUNFISH</text>
<text x="110" y="66" font-size="10" textLength="43" lengthAdjust="spacingAndGlyphs" style="fill:none;stroke:none">DARTERS</text>
<text x="110" y="79" font-size="10" textLength="46" lengthAdjust="spacingAndGlyphs" style="fill:none;stroke:none">MADTOMS</text>
<text x="109" y="91" font-size="10" textLength="46" lengthAdjust="spacingAndGlyphs" style="fill:none;stroke:none">SUCKERS</text>
<text x="109" y="104" font-size="10" textLength="39" lengthAdjust="spacingAndGlyphs" style="fill:none;stroke:none">OTHERS</text>
<text x="214" y="27" font-size="10" textLength="162" lengthAdjust="spacingAndGlyphs" style="fill:none;stroke:none">SELECTED AGRICULTURAL BASINS</text>
<text x="219" y="294" font-size="10" textLength="141" lengthAdjust="spacingAndGlyphs" style="fill:none;stroke:none">SELECTED FORESTED BASINS</text>
<text x="55" y="213" font-size="10" textLength="71" lengthAdjust="spacingAndGlyphs" style="fill:none;stroke:none">YOGUM CREEK</text>
<text x="169" y="213" font-size="10" textLength="99" lengthAdjust="spacingAndGlyphs" style="fill:none;stroke:none">DOUSINBURY CREEK</text>
<text x="309" y="213" font-size="10" textLength="67" lengthAdjust="spacingAndGlyphs" style="fill:none;stroke:none">ILLINOIS RIVER</text>
<text x="30" y="480" font-size="10" textLength="123" lengthAdjust="spacingAndGlyphs" style="fill:none;stroke:none">NORTH SYLAMORE CREEK</text>
<text x="185" y="480" font-size="10" textLength="68" lengthAdjust="spacingAndGlyphs" style="fill:none;stroke:none">PADDY CREEK</text>
<text x="298" y="480" font-size="10" textLength="91" lengthAdjust="spacingAndGlyphs" style="fill:none;stroke:none">JACKS FORK RIVER</text>
<text x="15" y="7" font-size="10" textLength="10" lengthAdjust="spacingAndGlyphs" style="fill:none;stroke:none">60</text>
<text x="15" y="40" font-size="10" textLength="10" lengthAdjust="spacingAndGlyphs" style="fill:none;stroke:none">50</text>
<text x="15" y="72" font-size="10" textLength="10" lengthAdjust="spacingAndGlyphs" style="fill:none;stroke:none">40</text>
<text x="15" y="105" font-size="10" textLength="10" lengthAdjust="spacingAndGlyphs" style="fill:none;stroke:none">30</text>
<text x="15" y="138" font-size="10" textLength="10" lengthAdjust="spacingAndGlyphs" style="fill:none;stroke:none">20</text>
<text x="16" y="170" font-size="10" textLength="9" lengthAdjust="spacingAndGlyphs" style="fill:none;stroke:none">10</text>
<text x="20" y="204" font-size="10" textLength="5" lengthAdjust="spacingAndGlyphs" style="fill:none;stroke:none">0</text>
<text x="16" y="272" font-size="10" textLength="10" lengthAdjust="spacingAndGlyphs" style="fill:none;stroke:none">60</text>
<text x="14" y="305" font-size="10" textLength="11" lengthAdjust="spacingAndGlyphs" style="fill:none;stroke:none">50</text>
<text x="16" y="338" font-size="10" textLength="10" lengthAdjust="spacingAndGlyphs" style="fill:none;stroke:none">40</text>
<text x="16" y="370" font-size="10" textLength="10" lengthAdjust="spacingAndGlyphs" style="fill:none;stroke:none">30</text>
<text x="16" y="405" font-size="10" textLength="10" lengthAdjust="spacingAndGlyphs" style="fill:none;stroke:none">20</text>
<text x="17" y="438" font-size="10" textLength="9" lengthAdjust="spacingAndGlyphs" style="fill:none;stroke:none">10</text>
<text x="20" y="469" font-size="10" textLength="5" lengthAdjust="spacingAndGlyphs" style="fill:none;stroke:none">0</text>
<text x="28" y="227" font-size="11" textLength="354" lengthAdjust="spacingAndGlyphs" style="fill:none;stroke:none">In streams in agricultural basins, algae-grazing stonerollers generally are</text>
<text x="28" y="238" font-size="11" textLength="338" lengthAdjust="spacingAndGlyphs" style="fill:none;stroke:none">the most abundant type of fish. Generally, 20 to 50 percent of the fish</text>
<text x="28" y="249" font-size="11" textLength="77" lengthAdjust="spacingAndGlyphs" style="fill:none;stroke:none">are stonerollers.</text>
<text x="27" y="493" font-size="11" textLength="354" lengthAdjust="spacingAndGlyphs" style="fill:none;stroke:none">In streams in forested basins, minnows (other than stonerollers), sunfish,</text>
<text x="27" y="504" font-size="11" textLength="315" lengthAdjust="spacingAndGlyphs" style="fill:none;stroke:none">and darters are a larger percentage of the fish community than in</text>
<text x="27" y="515" font-size="11" textLength="359" lengthAdjust="spacingAndGlyphs" style="fill:none;stroke:none">agricultural basins. Generally, 10 to 20 percent of the fish are stonerollers.</text>
<text transform="translate(7,318) rotate(-90)" font-size="10" textLength="169" lengthAdjust="spacingAndGlyphs" style="fill:none;stroke:none">RELATIVE ABUNDANCE, IN PERCENT</text></g>
</svg>
</body></html>
